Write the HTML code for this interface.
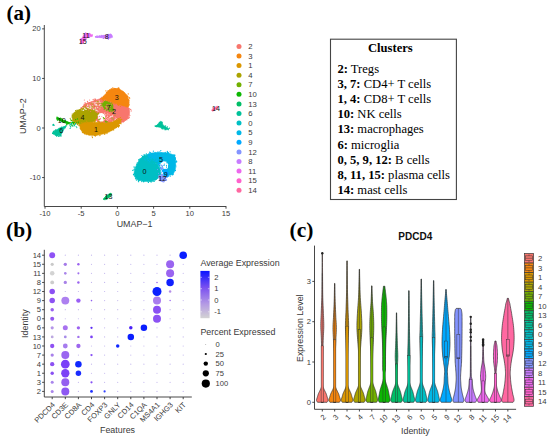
<!DOCTYPE html>
<html><head><meta charset="utf-8"><style>
html,body{margin:0;padding:0;background:#fff;width:550px;height:440px;overflow:hidden}
svg{display:block}

</style></head><body>
<svg width="550" height="440" viewBox="0 0 550 440">
<rect width="550" height="440" fill="#fff"/>
<text x="6.6" y="19.6" font-family="Liberation Serif, serif" font-weight="bold" font-size="21" fill="#000">(a)</text>
<text x="6" y="236.8" font-family="Liberation Serif, serif" font-weight="bold" font-size="21.5" fill="#000">(b)</text>
<text x="289.6" y="237" font-family="Liberation Serif, serif" font-weight="bold" font-size="21.5" fill="#000">(c)</text>
<polygon points="80,110 82.5,106.5 87,103.5 94,100.7 101,98.5 106,99.5 112,102 119,104 126,105 129.3,108.5 129.6,113 128,118 124,121.5 119,123.5 113,124 107,123.5 100,122 94,119 88,116 82,113" fill="#F8766D" stroke="#F8766D" stroke-width="0.6" stroke-linejoin="round"/>
<path d="M114.29,103.68a0.65,0.65 0 1,0 1.3,0a0.65,0.65 0 1,0 -1.3,0M84.59,103.92a0.65,0.65 0 1,0 1.3,0a0.65,0.65 0 1,0 -1.3,0M83.75,105.05a0.65,0.65 0 1,0 1.3,0a0.65,0.65 0 1,0 -1.3,0M126.36,105.86a0.65,0.65 0 1,0 1.3,0a0.65,0.65 0 1,0 -1.3,0M125.44,104.57a0.65,0.65 0 1,0 1.3,0a0.65,0.65 0 1,0 -1.3,0M100.71,97.31a0.65,0.65 0 1,0 1.3,0a0.65,0.65 0 1,0 -1.3,0M122.82,121.74a0.65,0.65 0 1,0 1.3,0a0.65,0.65 0 1,0 -1.3,0M83.34,105.24a0.65,0.65 0 1,0 1.3,0a0.65,0.65 0 1,0 -1.3,0M93.81,101.27a0.65,0.65 0 1,0 1.3,0a0.65,0.65 0 1,0 -1.3,0M98.15,122.23a0.65,0.65 0 1,0 1.3,0a0.65,0.65 0 1,0 -1.3,0M117.51,124.32a0.65,0.65 0 1,0 1.3,0a0.65,0.65 0 1,0 -1.3,0M85.04,104.97a0.65,0.65 0 1,0 1.3,0a0.65,0.65 0 1,0 -1.3,0M112.68,124.26a0.65,0.65 0 1,0 1.3,0a0.65,0.65 0 1,0 -1.3,0M123.3,121.13a0.65,0.65 0 1,0 1.3,0a0.65,0.65 0 1,0 -1.3,0M99.81,121.5a0.65,0.65 0 1,0 1.3,0a0.65,0.65 0 1,0 -1.3,0M123.2,119.75a0.65,0.65 0 1,0 1.3,0a0.65,0.65 0 1,0 -1.3,0M106.99,126.05a0.65,0.65 0 1,0 1.3,0a0.65,0.65 0 1,0 -1.3,0M89.03,102.64a0.65,0.65 0 1,0 1.3,0a0.65,0.65 0 1,0 -1.3,0M93.86,100.48a0.65,0.65 0 1,0 1.3,0a0.65,0.65 0 1,0 -1.3,0M114.93,122.62a0.65,0.65 0 1,0 1.3,0a0.65,0.65 0 1,0 -1.3,0M90.81,119.28a0.65,0.65 0 1,0 1.3,0a0.65,0.65 0 1,0 -1.3,0M122.34,121.08a0.65,0.65 0 1,0 1.3,0a0.65,0.65 0 1,0 -1.3,0M96.08,119.54a0.65,0.65 0 1,0 1.3,0a0.65,0.65 0 1,0 -1.3,0M116.61,124.27a0.65,0.65 0 1,0 1.3,0a0.65,0.65 0 1,0 -1.3,0M118.99,123.51a0.65,0.65 0 1,0 1.3,0a0.65,0.65 0 1,0 -1.3,0M108.13,101.96a0.65,0.65 0 1,0 1.3,0a0.65,0.65 0 1,0 -1.3,0M80.38,107.95a0.65,0.65 0 1,0 1.3,0a0.65,0.65 0 1,0 -1.3,0M91.68,102.5a0.65,0.65 0 1,0 1.3,0a0.65,0.65 0 1,0 -1.3,0M91.61,102.3a0.65,0.65 0 1,0 1.3,0a0.65,0.65 0 1,0 -1.3,0M92.64,118.69a0.65,0.65 0 1,0 1.3,0a0.65,0.65 0 1,0 -1.3,0M128.49,116.97a0.65,0.65 0 1,0 1.3,0a0.65,0.65 0 1,0 -1.3,0M92.4,119.53a0.65,0.65 0 1,0 1.3,0a0.65,0.65 0 1,0 -1.3,0M119.21,102.26a0.65,0.65 0 1,0 1.3,0a0.65,0.65 0 1,0 -1.3,0M94.28,101.08a0.65,0.65 0 1,0 1.3,0a0.65,0.65 0 1,0 -1.3,0M102.21,99.23a0.65,0.65 0 1,0 1.3,0a0.65,0.65 0 1,0 -1.3,0M107.68,100.11a0.65,0.65 0 1,0 1.3,0a0.65,0.65 0 1,0 -1.3,0M116.69,103.15a0.65,0.65 0 1,0 1.3,0a0.65,0.65 0 1,0 -1.3,0M110.95,123.87a0.65,0.65 0 1,0 1.3,0a0.65,0.65 0 1,0 -1.3,0M115.7,124.51a0.65,0.65 0 1,0 1.3,0a0.65,0.65 0 1,0 -1.3,0M102.83,121.36a0.65,0.65 0 1,0 1.3,0a0.65,0.65 0 1,0 -1.3,0M121.1,104.69a0.65,0.65 0 1,0 1.3,0a0.65,0.65 0 1,0 -1.3,0M119.12,123.45a0.65,0.65 0 1,0 1.3,0a0.65,0.65 0 1,0 -1.3,0M100.98,99.24a0.65,0.65 0 1,0 1.3,0a0.65,0.65 0 1,0 -1.3,0M83.98,105.42a0.65,0.65 0 1,0 1.3,0a0.65,0.65 0 1,0 -1.3,0M88.39,102.79a0.65,0.65 0 1,0 1.3,0a0.65,0.65 0 1,0 -1.3,0M91.09,117.73a0.65,0.65 0 1,0 1.3,0a0.65,0.65 0 1,0 -1.3,0M105.1,100.3a0.65,0.65 0 1,0 1.3,0a0.65,0.65 0 1,0 -1.3,0M92.53,99.38a0.65,0.65 0 1,0 1.3,0a0.65,0.65 0 1,0 -1.3,0M128.26,108.53a0.65,0.65 0 1,0 1.3,0a0.65,0.65 0 1,0 -1.3,0M88.21,103.19a0.65,0.65 0 1,0 1.3,0a0.65,0.65 0 1,0 -1.3,0M96.4,120.64a0.65,0.65 0 1,0 1.3,0a0.65,0.65 0 1,0 -1.3,0M82.83,113.9a0.65,0.65 0 1,0 1.3,0a0.65,0.65 0 1,0 -1.3,0M128.62,117.6a0.65,0.65 0 1,0 1.3,0a0.65,0.65 0 1,0 -1.3,0M81.67,111.07a0.65,0.65 0 1,0 1.3,0a0.65,0.65 0 1,0 -1.3,0M106.2,100.41a0.65,0.65 0 1,0 1.3,0a0.65,0.65 0 1,0 -1.3,0M101.09,122.38a0.65,0.65 0 1,0 1.3,0a0.65,0.65 0 1,0 -1.3,0M114.47,104.43a0.65,0.65 0 1,0 1.3,0a0.65,0.65 0 1,0 -1.3,0M81.32,110.19a0.65,0.65 0 1,0 1.3,0a0.65,0.65 0 1,0 -1.3,0M97.38,120.39a0.65,0.65 0 1,0 1.3,0a0.65,0.65 0 1,0 -1.3,0M128.33,114.7a0.65,0.65 0 1,0 1.3,0a0.65,0.65 0 1,0 -1.3,0M81.15,107.99a0.65,0.65 0 1,0 1.3,0a0.65,0.65 0 1,0 -1.3,0M112.89,123.7a0.65,0.65 0 1,0 1.3,0a0.65,0.65 0 1,0 -1.3,0M87.05,114.56a0.65,0.65 0 1,0 1.3,0a0.65,0.65 0 1,0 -1.3,0M118.31,104.59a0.65,0.65 0 1,0 1.3,0a0.65,0.65 0 1,0 -1.3,0M99.53,100.08a0.65,0.65 0 1,0 1.3,0a0.65,0.65 0 1,0 -1.3,0M89.27,115.81a0.65,0.65 0 1,0 1.3,0a0.65,0.65 0 1,0 -1.3,0M116.75,123.28a0.65,0.65 0 1,0 1.3,0a0.65,0.65 0 1,0 -1.3,0M117.06,122.87a0.65,0.65 0 1,0 1.3,0a0.65,0.65 0 1,0 -1.3,0M104.6,123.32a0.65,0.65 0 1,0 1.3,0a0.65,0.65 0 1,0 -1.3,0M99.83,123.68a0.65,0.65 0 1,0 1.3,0a0.65,0.65 0 1,0 -1.3,0M80.49,113.36a0.65,0.65 0 1,0 1.3,0a0.65,0.65 0 1,0 -1.3,0M83.69,113.67a0.65,0.65 0 1,0 1.3,0a0.65,0.65 0 1,0 -1.3,0M92.48,103.09a0.65,0.65 0 1,0 1.3,0a0.65,0.65 0 1,0 -1.3,0M99.7,123a0.65,0.65 0 1,0 1.3,0a0.65,0.65 0 1,0 -1.3,0M80.19,111.25a0.65,0.65 0 1,0 1.3,0a0.65,0.65 0 1,0 -1.3,0M127.42,118.14a0.65,0.65 0 1,0 1.3,0a0.65,0.65 0 1,0 -1.3,0M80.62,111.99a0.65,0.65 0 1,0 1.3,0a0.65,0.65 0 1,0 -1.3,0M83.51,115.65a0.65,0.65 0 1,0 1.3,0a0.65,0.65 0 1,0 -1.3,0M96.75,121.28a0.65,0.65 0 1,0 1.3,0a0.65,0.65 0 1,0 -1.3,0M110.13,102.66a0.65,0.65 0 1,0 1.3,0a0.65,0.65 0 1,0 -1.3,0M105.96,100.16a0.65,0.65 0 1,0 1.3,0a0.65,0.65 0 1,0 -1.3,0M87.08,116.96a0.65,0.65 0 1,0 1.3,0a0.65,0.65 0 1,0 -1.3,0M125,120.21a0.65,0.65 0 1,0 1.3,0a0.65,0.65 0 1,0 -1.3,0M85.75,115.75a0.65,0.65 0 1,0 1.3,0a0.65,0.65 0 1,0 -1.3,0M129.21,115.31a0.65,0.65 0 1,0 1.3,0a0.65,0.65 0 1,0 -1.3,0M99.25,99.39a0.65,0.65 0 1,0 1.3,0a0.65,0.65 0 1,0 -1.3,0M94.99,99.98a0.65,0.65 0 1,0 1.3,0a0.65,0.65 0 1,0 -1.3,0M126.12,119.6a0.65,0.65 0 1,0 1.3,0a0.65,0.65 0 1,0 -1.3,0M126.81,118.14a0.65,0.65 0 1,0 1.3,0a0.65,0.65 0 1,0 -1.3,0M126.29,119.66a0.65,0.65 0 1,0 1.3,0a0.65,0.65 0 1,0 -1.3,0M101.43,122.64a0.65,0.65 0 1,0 1.3,0a0.65,0.65 0 1,0 -1.3,0M104.84,122.49a0.65,0.65 0 1,0 1.3,0a0.65,0.65 0 1,0 -1.3,0M120.13,122.32a0.65,0.65 0 1,0 1.3,0a0.65,0.65 0 1,0 -1.3,0M110.86,124.29a0.65,0.65 0 1,0 1.3,0a0.65,0.65 0 1,0 -1.3,0M130.05,109.41a0.65,0.65 0 1,0 1.3,0a0.65,0.65 0 1,0 -1.3,0M91.89,117.7a0.65,0.65 0 1,0 1.3,0a0.65,0.65 0 1,0 -1.3,0M127.96,118.27a0.65,0.65 0 1,0 1.3,0a0.65,0.65 0 1,0 -1.3,0M93.16,101.73a0.65,0.65 0 1,0 1.3,0a0.65,0.65 0 1,0 -1.3,0M85.46,104.46a0.65,0.65 0 1,0 1.3,0a0.65,0.65 0 1,0 -1.3,0M115.08,121.93a0.65,0.65 0 1,0 1.3,0a0.65,0.65 0 1,0 -1.3,0M94.11,99.08a0.65,0.65 0 1,0 1.3,0a0.65,0.65 0 1,0 -1.3,0M94.84,99.22a0.65,0.65 0 1,0 1.3,0a0.65,0.65 0 1,0 -1.3,0M102.68,98.52a0.65,0.65 0 1,0 1.3,0a0.65,0.65 0 1,0 -1.3,0M130.51,110.9a0.65,0.65 0 1,0 1.3,0a0.65,0.65 0 1,0 -1.3,0M94.2,100.58a0.65,0.65 0 1,0 1.3,0a0.65,0.65 0 1,0 -1.3,0M115.54,103.86a0.65,0.65 0 1,0 1.3,0a0.65,0.65 0 1,0 -1.3,0M109.58,123.81a0.65,0.65 0 1,0 1.3,0a0.65,0.65 0 1,0 -1.3,0M127.36,106.37a0.65,0.65 0 1,0 1.3,0a0.65,0.65 0 1,0 -1.3,0M119.62,122.83a0.65,0.65 0 1,0 1.3,0a0.65,0.65 0 1,0 -1.3,0M80.91,109.14a0.65,0.65 0 1,0 1.3,0a0.65,0.65 0 1,0 -1.3,0M88.86,102.74a0.65,0.65 0 1,0 1.3,0a0.65,0.65 0 1,0 -1.3,0M101.74,123a0.65,0.65 0 1,0 1.3,0a0.65,0.65 0 1,0 -1.3,0M126.37,104.06a0.65,0.65 0 1,0 1.3,0a0.65,0.65 0 1,0 -1.3,0M107.49,101.52a0.65,0.65 0 1,0 1.3,0a0.65,0.65 0 1,0 -1.3,0M125.24,119.37a0.65,0.65 0 1,0 1.3,0a0.65,0.65 0 1,0 -1.3,0M83.6,104.22a0.65,0.65 0 1,0 1.3,0a0.65,0.65 0 1,0 -1.3,0M86.61,103.63a0.65,0.65 0 1,0 1.3,0a0.65,0.65 0 1,0 -1.3,0M100.73,122.81a0.65,0.65 0 1,0 1.3,0a0.65,0.65 0 1,0 -1.3,0M85.5,103.75a0.65,0.65 0 1,0 1.3,0a0.65,0.65 0 1,0 -1.3,0M113.33,102.45a0.65,0.65 0 1,0 1.3,0a0.65,0.65 0 1,0 -1.3,0" fill="#F8766D"/>
<polygon points="101.5,99 103,96.5 106,93.5 109.5,89.5 114,88.3 119,89 123.5,91.5 127,95.5 128.8,100 129,104 128.3,106.8 124,106 118,104.3 112,102.3 107.5,100" fill="#F5860F" stroke="#F5860F" stroke-width="0.6" stroke-linejoin="round"/>
<path d="M116.36,89.41a0.65,0.65 0 1,0 1.3,0a0.65,0.65 0 1,0 -1.3,0M113.91,88.66a0.65,0.65 0 1,0 1.3,0a0.65,0.65 0 1,0 -1.3,0M103.1,96.72a0.65,0.65 0 1,0 1.3,0a0.65,0.65 0 1,0 -1.3,0M118.31,88.25a0.65,0.65 0 1,0 1.3,0a0.65,0.65 0 1,0 -1.3,0M128.05,99.58a0.65,0.65 0 1,0 1.3,0a0.65,0.65 0 1,0 -1.3,0M101.53,98.03a0.65,0.65 0 1,0 1.3,0a0.65,0.65 0 1,0 -1.3,0M118.6,104.63a0.65,0.65 0 1,0 1.3,0a0.65,0.65 0 1,0 -1.3,0M127.39,96.96a0.65,0.65 0 1,0 1.3,0a0.65,0.65 0 1,0 -1.3,0M112.27,103.36a0.65,0.65 0 1,0 1.3,0a0.65,0.65 0 1,0 -1.3,0M111.32,103.23a0.65,0.65 0 1,0 1.3,0a0.65,0.65 0 1,0 -1.3,0M123.14,105.62a0.65,0.65 0 1,0 1.3,0a0.65,0.65 0 1,0 -1.3,0M111.97,101.39a0.65,0.65 0 1,0 1.3,0a0.65,0.65 0 1,0 -1.3,0M123.99,93.25a0.65,0.65 0 1,0 1.3,0a0.65,0.65 0 1,0 -1.3,0M108.17,92.44a0.65,0.65 0 1,0 1.3,0a0.65,0.65 0 1,0 -1.3,0M114.92,88.82a0.65,0.65 0 1,0 1.3,0a0.65,0.65 0 1,0 -1.3,0M112.62,101.44a0.65,0.65 0 1,0 1.3,0a0.65,0.65 0 1,0 -1.3,0M116.65,89.51a0.65,0.65 0 1,0 1.3,0a0.65,0.65 0 1,0 -1.3,0M127.13,96.92a0.65,0.65 0 1,0 1.3,0a0.65,0.65 0 1,0 -1.3,0M117.62,88a0.65,0.65 0 1,0 1.3,0a0.65,0.65 0 1,0 -1.3,0M128.34,104.48a0.65,0.65 0 1,0 1.3,0a0.65,0.65 0 1,0 -1.3,0M118.54,89.15a0.65,0.65 0 1,0 1.3,0a0.65,0.65 0 1,0 -1.3,0M122.01,91.91a0.65,0.65 0 1,0 1.3,0a0.65,0.65 0 1,0 -1.3,0M110.78,88.96a0.65,0.65 0 1,0 1.3,0a0.65,0.65 0 1,0 -1.3,0M116.11,89.06a0.65,0.65 0 1,0 1.3,0a0.65,0.65 0 1,0 -1.3,0M103.18,96.53a0.65,0.65 0 1,0 1.3,0a0.65,0.65 0 1,0 -1.3,0M112.15,87.8a0.65,0.65 0 1,0 1.3,0a0.65,0.65 0 1,0 -1.3,0M117.16,103.27a0.65,0.65 0 1,0 1.3,0a0.65,0.65 0 1,0 -1.3,0M108.62,101.73a0.65,0.65 0 1,0 1.3,0a0.65,0.65 0 1,0 -1.3,0M102.79,100.35a0.65,0.65 0 1,0 1.3,0a0.65,0.65 0 1,0 -1.3,0M127.11,106.86a0.65,0.65 0 1,0 1.3,0a0.65,0.65 0 1,0 -1.3,0M107.38,99.74a0.65,0.65 0 1,0 1.3,0a0.65,0.65 0 1,0 -1.3,0M114.39,103.92a0.65,0.65 0 1,0 1.3,0a0.65,0.65 0 1,0 -1.3,0M128.63,97.72a0.65,0.65 0 1,0 1.3,0a0.65,0.65 0 1,0 -1.3,0M111.07,101.8a0.65,0.65 0 1,0 1.3,0a0.65,0.65 0 1,0 -1.3,0M122.43,105.19a0.65,0.65 0 1,0 1.3,0a0.65,0.65 0 1,0 -1.3,0M102.58,97.7a0.65,0.65 0 1,0 1.3,0a0.65,0.65 0 1,0 -1.3,0M106.23,92.18a0.65,0.65 0 1,0 1.3,0a0.65,0.65 0 1,0 -1.3,0M125.61,105.63a0.65,0.65 0 1,0 1.3,0a0.65,0.65 0 1,0 -1.3,0M129,98.14a0.65,0.65 0 1,0 1.3,0a0.65,0.65 0 1,0 -1.3,0M116.98,104.49a0.65,0.65 0 1,0 1.3,0a0.65,0.65 0 1,0 -1.3,0M125.67,106.77a0.65,0.65 0 1,0 1.3,0a0.65,0.65 0 1,0 -1.3,0M115.11,88.78a0.65,0.65 0 1,0 1.3,0a0.65,0.65 0 1,0 -1.3,0M119.83,106.3a0.65,0.65 0 1,0 1.3,0a0.65,0.65 0 1,0 -1.3,0M101.7,99.32a0.65,0.65 0 1,0 1.3,0a0.65,0.65 0 1,0 -1.3,0M126.49,96.01a0.65,0.65 0 1,0 1.3,0a0.65,0.65 0 1,0 -1.3,0M127.11,106.46a0.65,0.65 0 1,0 1.3,0a0.65,0.65 0 1,0 -1.3,0M107.63,92.33a0.65,0.65 0 1,0 1.3,0a0.65,0.65 0 1,0 -1.3,0M118.1,88.92a0.65,0.65 0 1,0 1.3,0a0.65,0.65 0 1,0 -1.3,0M103.24,96.79a0.65,0.65 0 1,0 1.3,0a0.65,0.65 0 1,0 -1.3,0M121.67,104.95a0.65,0.65 0 1,0 1.3,0a0.65,0.65 0 1,0 -1.3,0M127.14,100.16a0.65,0.65 0 1,0 1.3,0a0.65,0.65 0 1,0 -1.3,0M106.76,92.05a0.65,0.65 0 1,0 1.3,0a0.65,0.65 0 1,0 -1.3,0M102.57,99.19a0.65,0.65 0 1,0 1.3,0a0.65,0.65 0 1,0 -1.3,0M127.58,93.93a0.65,0.65 0 1,0 1.3,0a0.65,0.65 0 1,0 -1.3,0M126.23,96.05a0.65,0.65 0 1,0 1.3,0a0.65,0.65 0 1,0 -1.3,0M105.03,100.8a0.65,0.65 0 1,0 1.3,0a0.65,0.65 0 1,0 -1.3,0M105.2,90.82a0.65,0.65 0 1,0 1.3,0a0.65,0.65 0 1,0 -1.3,0M107.42,90.69a0.65,0.65 0 1,0 1.3,0a0.65,0.65 0 1,0 -1.3,0M108.54,100.34a0.65,0.65 0 1,0 1.3,0a0.65,0.65 0 1,0 -1.3,0M107.83,100.62a0.65,0.65 0 1,0 1.3,0a0.65,0.65 0 1,0 -1.3,0M100,98.83a0.65,0.65 0 1,0 1.3,0a0.65,0.65 0 1,0 -1.3,0M118.57,89.6a0.65,0.65 0 1,0 1.3,0a0.65,0.65 0 1,0 -1.3,0M119.01,89.31a0.65,0.65 0 1,0 1.3,0a0.65,0.65 0 1,0 -1.3,0M118.17,104.08a0.65,0.65 0 1,0 1.3,0a0.65,0.65 0 1,0 -1.3,0M105.66,97.99a0.65,0.65 0 1,0 1.3,0a0.65,0.65 0 1,0 -1.3,0M116.56,89.48a0.65,0.65 0 1,0 1.3,0a0.65,0.65 0 1,0 -1.3,0M100.22,98.56a0.65,0.65 0 1,0 1.3,0a0.65,0.65 0 1,0 -1.3,0M125.23,94.55a0.65,0.65 0 1,0 1.3,0a0.65,0.65 0 1,0 -1.3,0M105.86,92.71a0.65,0.65 0 1,0 1.3,0a0.65,0.65 0 1,0 -1.3,0M105.46,100.47a0.65,0.65 0 1,0 1.3,0a0.65,0.65 0 1,0 -1.3,0M128.3,100.37a0.65,0.65 0 1,0 1.3,0a0.65,0.65 0 1,0 -1.3,0M105.21,98.43a0.65,0.65 0 1,0 1.3,0a0.65,0.65 0 1,0 -1.3,0M128.17,105.45a0.65,0.65 0 1,0 1.3,0a0.65,0.65 0 1,0 -1.3,0M128.21,102.02a0.65,0.65 0 1,0 1.3,0a0.65,0.65 0 1,0 -1.3,0M117.77,105.28a0.65,0.65 0 1,0 1.3,0a0.65,0.65 0 1,0 -1.3,0M125.31,106.65a0.65,0.65 0 1,0 1.3,0a0.65,0.65 0 1,0 -1.3,0M106.79,100.6a0.65,0.65 0 1,0 1.3,0a0.65,0.65 0 1,0 -1.3,0M120.29,91.73a0.65,0.65 0 1,0 1.3,0a0.65,0.65 0 1,0 -1.3,0M102.46,100.59a0.65,0.65 0 1,0 1.3,0a0.65,0.65 0 1,0 -1.3,0M117.13,88.63a0.65,0.65 0 1,0 1.3,0a0.65,0.65 0 1,0 -1.3,0" fill="#F5860F"/>
<polygon points="71.8,117 73.5,113 77,110.5 82,108.5 87,107.8 91,109 95,111.5 98,114.5 97,118 94,121.5 89,124 83,125 77.5,124 73.5,121" fill="#ABA300" stroke="#ABA300" stroke-width="0.6" stroke-linejoin="round"/>
<path d="M79.07,110.07a0.65,0.65 0 1,0 1.3,0a0.65,0.65 0 1,0 -1.3,0M73.78,122.19a0.65,0.65 0 1,0 1.3,0a0.65,0.65 0 1,0 -1.3,0M75.39,122.14a0.65,0.65 0 1,0 1.3,0a0.65,0.65 0 1,0 -1.3,0M77.15,110.6a0.65,0.65 0 1,0 1.3,0a0.65,0.65 0 1,0 -1.3,0M90.6,109.27a0.65,0.65 0 1,0 1.3,0a0.65,0.65 0 1,0 -1.3,0M82.91,107.25a0.65,0.65 0 1,0 1.3,0a0.65,0.65 0 1,0 -1.3,0M83.39,125.18a0.65,0.65 0 1,0 1.3,0a0.65,0.65 0 1,0 -1.3,0M95.96,117.9a0.65,0.65 0 1,0 1.3,0a0.65,0.65 0 1,0 -1.3,0M72.37,115.49a0.65,0.65 0 1,0 1.3,0a0.65,0.65 0 1,0 -1.3,0M74.92,110.59a0.65,0.65 0 1,0 1.3,0a0.65,0.65 0 1,0 -1.3,0M76.88,124.61a0.65,0.65 0 1,0 1.3,0a0.65,0.65 0 1,0 -1.3,0M83.17,108.71a0.65,0.65 0 1,0 1.3,0a0.65,0.65 0 1,0 -1.3,0M73.42,118.36a0.65,0.65 0 1,0 1.3,0a0.65,0.65 0 1,0 -1.3,0M73.11,115.94a0.65,0.65 0 1,0 1.3,0a0.65,0.65 0 1,0 -1.3,0M73.79,122.79a0.65,0.65 0 1,0 1.3,0a0.65,0.65 0 1,0 -1.3,0M69.56,118.29a0.65,0.65 0 1,0 1.3,0a0.65,0.65 0 1,0 -1.3,0M80.65,122.52a0.65,0.65 0 1,0 1.3,0a0.65,0.65 0 1,0 -1.3,0M84.36,108.46a0.65,0.65 0 1,0 1.3,0a0.65,0.65 0 1,0 -1.3,0M95.69,115.26a0.65,0.65 0 1,0 1.3,0a0.65,0.65 0 1,0 -1.3,0M85.11,123.16a0.65,0.65 0 1,0 1.3,0a0.65,0.65 0 1,0 -1.3,0M96.02,113.33a0.65,0.65 0 1,0 1.3,0a0.65,0.65 0 1,0 -1.3,0M82.24,126.95a0.65,0.65 0 1,0 1.3,0a0.65,0.65 0 1,0 -1.3,0M90.66,123.21a0.65,0.65 0 1,0 1.3,0a0.65,0.65 0 1,0 -1.3,0M83.27,107.05a0.65,0.65 0 1,0 1.3,0a0.65,0.65 0 1,0 -1.3,0M76.43,111.62a0.65,0.65 0 1,0 1.3,0a0.65,0.65 0 1,0 -1.3,0M93.75,120.87a0.65,0.65 0 1,0 1.3,0a0.65,0.65 0 1,0 -1.3,0M94.21,121.44a0.65,0.65 0 1,0 1.3,0a0.65,0.65 0 1,0 -1.3,0M97.67,113.24a0.65,0.65 0 1,0 1.3,0a0.65,0.65 0 1,0 -1.3,0M74.96,123.17a0.65,0.65 0 1,0 1.3,0a0.65,0.65 0 1,0 -1.3,0M85.23,107.8a0.65,0.65 0 1,0 1.3,0a0.65,0.65 0 1,0 -1.3,0M88.87,108.39a0.65,0.65 0 1,0 1.3,0a0.65,0.65 0 1,0 -1.3,0M88.47,123.97a0.65,0.65 0 1,0 1.3,0a0.65,0.65 0 1,0 -1.3,0M90.08,123.13a0.65,0.65 0 1,0 1.3,0a0.65,0.65 0 1,0 -1.3,0M71.55,115.7a0.65,0.65 0 1,0 1.3,0a0.65,0.65 0 1,0 -1.3,0M89.11,125.4a0.65,0.65 0 1,0 1.3,0a0.65,0.65 0 1,0 -1.3,0M84.27,124.56a0.65,0.65 0 1,0 1.3,0a0.65,0.65 0 1,0 -1.3,0M71.31,120.4a0.65,0.65 0 1,0 1.3,0a0.65,0.65 0 1,0 -1.3,0M83.06,109.8a0.65,0.65 0 1,0 1.3,0a0.65,0.65 0 1,0 -1.3,0M88.03,107.69a0.65,0.65 0 1,0 1.3,0a0.65,0.65 0 1,0 -1.3,0M80.14,109.97a0.65,0.65 0 1,0 1.3,0a0.65,0.65 0 1,0 -1.3,0M90.11,123.2a0.65,0.65 0 1,0 1.3,0a0.65,0.65 0 1,0 -1.3,0M93.57,113.03a0.65,0.65 0 1,0 1.3,0a0.65,0.65 0 1,0 -1.3,0M77.46,110.28a0.65,0.65 0 1,0 1.3,0a0.65,0.65 0 1,0 -1.3,0M94.5,109.54a0.65,0.65 0 1,0 1.3,0a0.65,0.65 0 1,0 -1.3,0M87.39,124.48a0.65,0.65 0 1,0 1.3,0a0.65,0.65 0 1,0 -1.3,0M90.06,110.6a0.65,0.65 0 1,0 1.3,0a0.65,0.65 0 1,0 -1.3,0M85.71,124.92a0.65,0.65 0 1,0 1.3,0a0.65,0.65 0 1,0 -1.3,0M91.6,110.71a0.65,0.65 0 1,0 1.3,0a0.65,0.65 0 1,0 -1.3,0M79.59,109.51a0.65,0.65 0 1,0 1.3,0a0.65,0.65 0 1,0 -1.3,0M91.06,109.04a0.65,0.65 0 1,0 1.3,0a0.65,0.65 0 1,0 -1.3,0M72.31,120.02a0.65,0.65 0 1,0 1.3,0a0.65,0.65 0 1,0 -1.3,0M79.85,123.61a0.65,0.65 0 1,0 1.3,0a0.65,0.65 0 1,0 -1.3,0M71.59,114.1a0.65,0.65 0 1,0 1.3,0a0.65,0.65 0 1,0 -1.3,0M73.99,122.43a0.65,0.65 0 1,0 1.3,0a0.65,0.65 0 1,0 -1.3,0M75.81,122.71a0.65,0.65 0 1,0 1.3,0a0.65,0.65 0 1,0 -1.3,0M80.1,124.33a0.65,0.65 0 1,0 1.3,0a0.65,0.65 0 1,0 -1.3,0M73.93,115.62a0.65,0.65 0 1,0 1.3,0a0.65,0.65 0 1,0 -1.3,0M84.49,106.13a0.65,0.65 0 1,0 1.3,0a0.65,0.65 0 1,0 -1.3,0M89.54,111.09a0.65,0.65 0 1,0 1.3,0a0.65,0.65 0 1,0 -1.3,0M92.42,123.34a0.65,0.65 0 1,0 1.3,0a0.65,0.65 0 1,0 -1.3,0M88.39,108.49a0.65,0.65 0 1,0 1.3,0a0.65,0.65 0 1,0 -1.3,0M84.89,124.12a0.65,0.65 0 1,0 1.3,0a0.65,0.65 0 1,0 -1.3,0M73.29,120.6a0.65,0.65 0 1,0 1.3,0a0.65,0.65 0 1,0 -1.3,0M99.26,113.66a0.65,0.65 0 1,0 1.3,0a0.65,0.65 0 1,0 -1.3,0M92.61,111.37a0.65,0.65 0 1,0 1.3,0a0.65,0.65 0 1,0 -1.3,0M97.62,115.1a0.65,0.65 0 1,0 1.3,0a0.65,0.65 0 1,0 -1.3,0M80.56,123.03a0.65,0.65 0 1,0 1.3,0a0.65,0.65 0 1,0 -1.3,0M82.02,124.45a0.65,0.65 0 1,0 1.3,0a0.65,0.65 0 1,0 -1.3,0M87.59,109.68a0.65,0.65 0 1,0 1.3,0a0.65,0.65 0 1,0 -1.3,0M74.12,113.87a0.65,0.65 0 1,0 1.3,0a0.65,0.65 0 1,0 -1.3,0M84.1,108.24a0.65,0.65 0 1,0 1.3,0a0.65,0.65 0 1,0 -1.3,0M94.41,121.16a0.65,0.65 0 1,0 1.3,0a0.65,0.65 0 1,0 -1.3,0M76.33,123.03a0.65,0.65 0 1,0 1.3,0a0.65,0.65 0 1,0 -1.3,0M74.77,112.85a0.65,0.65 0 1,0 1.3,0a0.65,0.65 0 1,0 -1.3,0M86.2,124.47a0.65,0.65 0 1,0 1.3,0a0.65,0.65 0 1,0 -1.3,0M93.36,110.57a0.65,0.65 0 1,0 1.3,0a0.65,0.65 0 1,0 -1.3,0M85.05,123.59a0.65,0.65 0 1,0 1.3,0a0.65,0.65 0 1,0 -1.3,0M76.33,110.17a0.65,0.65 0 1,0 1.3,0a0.65,0.65 0 1,0 -1.3,0M93.91,120.7a0.65,0.65 0 1,0 1.3,0a0.65,0.65 0 1,0 -1.3,0M80.74,109.42a0.65,0.65 0 1,0 1.3,0a0.65,0.65 0 1,0 -1.3,0" fill="#ABA300"/>
<polygon points="79.5,125 84,123 91,122.3 99,122.6 106,123.2 112,122 117,120 120.5,119.5 120,123 117,127 112,130.5 105,133.5 97,135.3 89,135.2 83.5,133 80.5,129.5" fill="#DB9700" stroke="#DB9700" stroke-width="0.6" stroke-linejoin="round"/>
<path d="M93.93,121.61a0.65,0.65 0 1,0 1.3,0a0.65,0.65 0 1,0 -1.3,0M107.25,124.08a0.65,0.65 0 1,0 1.3,0a0.65,0.65 0 1,0 -1.3,0M117.77,126.98a0.65,0.65 0 1,0 1.3,0a0.65,0.65 0 1,0 -1.3,0M106.43,132.76a0.65,0.65 0 1,0 1.3,0a0.65,0.65 0 1,0 -1.3,0M120.1,121.27a0.65,0.65 0 1,0 1.3,0a0.65,0.65 0 1,0 -1.3,0M82.91,132.41a0.65,0.65 0 1,0 1.3,0a0.65,0.65 0 1,0 -1.3,0M90.69,124.6a0.65,0.65 0 1,0 1.3,0a0.65,0.65 0 1,0 -1.3,0M112.87,129.62a0.65,0.65 0 1,0 1.3,0a0.65,0.65 0 1,0 -1.3,0M85.51,134.55a0.65,0.65 0 1,0 1.3,0a0.65,0.65 0 1,0 -1.3,0M94.86,135.13a0.65,0.65 0 1,0 1.3,0a0.65,0.65 0 1,0 -1.3,0M110.58,130.2a0.65,0.65 0 1,0 1.3,0a0.65,0.65 0 1,0 -1.3,0M113.73,121.67a0.65,0.65 0 1,0 1.3,0a0.65,0.65 0 1,0 -1.3,0M101.69,122.21a0.65,0.65 0 1,0 1.3,0a0.65,0.65 0 1,0 -1.3,0M98.64,122.64a0.65,0.65 0 1,0 1.3,0a0.65,0.65 0 1,0 -1.3,0M104.09,134.34a0.65,0.65 0 1,0 1.3,0a0.65,0.65 0 1,0 -1.3,0M98.16,121.49a0.65,0.65 0 1,0 1.3,0a0.65,0.65 0 1,0 -1.3,0M85.2,123.42a0.65,0.65 0 1,0 1.3,0a0.65,0.65 0 1,0 -1.3,0M114.42,127.87a0.65,0.65 0 1,0 1.3,0a0.65,0.65 0 1,0 -1.3,0M93.73,121.57a0.65,0.65 0 1,0 1.3,0a0.65,0.65 0 1,0 -1.3,0M104.66,125.26a0.65,0.65 0 1,0 1.3,0a0.65,0.65 0 1,0 -1.3,0M107.4,122.29a0.65,0.65 0 1,0 1.3,0a0.65,0.65 0 1,0 -1.3,0M119.66,117.53a0.65,0.65 0 1,0 1.3,0a0.65,0.65 0 1,0 -1.3,0M113.38,122.75a0.65,0.65 0 1,0 1.3,0a0.65,0.65 0 1,0 -1.3,0M99.8,122.65a0.65,0.65 0 1,0 1.3,0a0.65,0.65 0 1,0 -1.3,0M118.75,118.88a0.65,0.65 0 1,0 1.3,0a0.65,0.65 0 1,0 -1.3,0M84.17,133.87a0.65,0.65 0 1,0 1.3,0a0.65,0.65 0 1,0 -1.3,0M78.93,124.01a0.65,0.65 0 1,0 1.3,0a0.65,0.65 0 1,0 -1.3,0M83.53,133.22a0.65,0.65 0 1,0 1.3,0a0.65,0.65 0 1,0 -1.3,0M113.03,121.11a0.65,0.65 0 1,0 1.3,0a0.65,0.65 0 1,0 -1.3,0M103.42,122.91a0.65,0.65 0 1,0 1.3,0a0.65,0.65 0 1,0 -1.3,0M87.18,122.55a0.65,0.65 0 1,0 1.3,0a0.65,0.65 0 1,0 -1.3,0M79.69,128.54a0.65,0.65 0 1,0 1.3,0a0.65,0.65 0 1,0 -1.3,0M81.41,129.97a0.65,0.65 0 1,0 1.3,0a0.65,0.65 0 1,0 -1.3,0M84.33,122.58a0.65,0.65 0 1,0 1.3,0a0.65,0.65 0 1,0 -1.3,0M81.59,131.8a0.65,0.65 0 1,0 1.3,0a0.65,0.65 0 1,0 -1.3,0M93.86,121.8a0.65,0.65 0 1,0 1.3,0a0.65,0.65 0 1,0 -1.3,0M117.5,118.58a0.65,0.65 0 1,0 1.3,0a0.65,0.65 0 1,0 -1.3,0M96.06,123.4a0.65,0.65 0 1,0 1.3,0a0.65,0.65 0 1,0 -1.3,0M116.63,126.48a0.65,0.65 0 1,0 1.3,0a0.65,0.65 0 1,0 -1.3,0M101.7,121.02a0.65,0.65 0 1,0 1.3,0a0.65,0.65 0 1,0 -1.3,0M81.04,122.83a0.65,0.65 0 1,0 1.3,0a0.65,0.65 0 1,0 -1.3,0M82.42,123.14a0.65,0.65 0 1,0 1.3,0a0.65,0.65 0 1,0 -1.3,0M109.54,130.37a0.65,0.65 0 1,0 1.3,0a0.65,0.65 0 1,0 -1.3,0M106.55,123.32a0.65,0.65 0 1,0 1.3,0a0.65,0.65 0 1,0 -1.3,0M118.02,118.86a0.65,0.65 0 1,0 1.3,0a0.65,0.65 0 1,0 -1.3,0M120.98,119.7a0.65,0.65 0 1,0 1.3,0a0.65,0.65 0 1,0 -1.3,0M118.74,125.52a0.65,0.65 0 1,0 1.3,0a0.65,0.65 0 1,0 -1.3,0M93.7,135.42a0.65,0.65 0 1,0 1.3,0a0.65,0.65 0 1,0 -1.3,0M119.76,122.98a0.65,0.65 0 1,0 1.3,0a0.65,0.65 0 1,0 -1.3,0M119.82,120.15a0.65,0.65 0 1,0 1.3,0a0.65,0.65 0 1,0 -1.3,0M118.66,125.9a0.65,0.65 0 1,0 1.3,0a0.65,0.65 0 1,0 -1.3,0M86.11,121.16a0.65,0.65 0 1,0 1.3,0a0.65,0.65 0 1,0 -1.3,0M118.35,126.03a0.65,0.65 0 1,0 1.3,0a0.65,0.65 0 1,0 -1.3,0M114.62,120.73a0.65,0.65 0 1,0 1.3,0a0.65,0.65 0 1,0 -1.3,0M88.44,134.62a0.65,0.65 0 1,0 1.3,0a0.65,0.65 0 1,0 -1.3,0M91.78,137.62a0.65,0.65 0 1,0 1.3,0a0.65,0.65 0 1,0 -1.3,0M120.4,123.64a0.65,0.65 0 1,0 1.3,0a0.65,0.65 0 1,0 -1.3,0M94.67,120.42a0.65,0.65 0 1,0 1.3,0a0.65,0.65 0 1,0 -1.3,0M83.79,124.08a0.65,0.65 0 1,0 1.3,0a0.65,0.65 0 1,0 -1.3,0M94.15,121.98a0.65,0.65 0 1,0 1.3,0a0.65,0.65 0 1,0 -1.3,0M91.5,136.07a0.65,0.65 0 1,0 1.3,0a0.65,0.65 0 1,0 -1.3,0M82.02,132.49a0.65,0.65 0 1,0 1.3,0a0.65,0.65 0 1,0 -1.3,0M117.55,125.48a0.65,0.65 0 1,0 1.3,0a0.65,0.65 0 1,0 -1.3,0M96.92,124.3a0.65,0.65 0 1,0 1.3,0a0.65,0.65 0 1,0 -1.3,0M104.09,133.32a0.65,0.65 0 1,0 1.3,0a0.65,0.65 0 1,0 -1.3,0M94.61,136a0.65,0.65 0 1,0 1.3,0a0.65,0.65 0 1,0 -1.3,0M106.34,133.56a0.65,0.65 0 1,0 1.3,0a0.65,0.65 0 1,0 -1.3,0M112.65,127.55a0.65,0.65 0 1,0 1.3,0a0.65,0.65 0 1,0 -1.3,0M89.67,122.44a0.65,0.65 0 1,0 1.3,0a0.65,0.65 0 1,0 -1.3,0M115.82,119.62a0.65,0.65 0 1,0 1.3,0a0.65,0.65 0 1,0 -1.3,0M78.29,125.49a0.65,0.65 0 1,0 1.3,0a0.65,0.65 0 1,0 -1.3,0M95.19,135.49a0.65,0.65 0 1,0 1.3,0a0.65,0.65 0 1,0 -1.3,0M99.28,135.5a0.65,0.65 0 1,0 1.3,0a0.65,0.65 0 1,0 -1.3,0M100.97,120.98a0.65,0.65 0 1,0 1.3,0a0.65,0.65 0 1,0 -1.3,0M111.47,129.46a0.65,0.65 0 1,0 1.3,0a0.65,0.65 0 1,0 -1.3,0M79.51,125.04a0.65,0.65 0 1,0 1.3,0a0.65,0.65 0 1,0 -1.3,0M108.31,131.83a0.65,0.65 0 1,0 1.3,0a0.65,0.65 0 1,0 -1.3,0M84,133.76a0.65,0.65 0 1,0 1.3,0a0.65,0.65 0 1,0 -1.3,0M106.1,132.79a0.65,0.65 0 1,0 1.3,0a0.65,0.65 0 1,0 -1.3,0M112.79,122.21a0.65,0.65 0 1,0 1.3,0a0.65,0.65 0 1,0 -1.3,0M98.79,122.12a0.65,0.65 0 1,0 1.3,0a0.65,0.65 0 1,0 -1.3,0M97.18,121.87a0.65,0.65 0 1,0 1.3,0a0.65,0.65 0 1,0 -1.3,0M91.9,122.07a0.65,0.65 0 1,0 1.3,0a0.65,0.65 0 1,0 -1.3,0M93.73,123.11a0.65,0.65 0 1,0 1.3,0a0.65,0.65 0 1,0 -1.3,0M85.9,133.25a0.65,0.65 0 1,0 1.3,0a0.65,0.65 0 1,0 -1.3,0M104.93,123.15a0.65,0.65 0 1,0 1.3,0a0.65,0.65 0 1,0 -1.3,0M112.96,129.89a0.65,0.65 0 1,0 1.3,0a0.65,0.65 0 1,0 -1.3,0M121.14,119.34a0.65,0.65 0 1,0 1.3,0a0.65,0.65 0 1,0 -1.3,0M102.36,122.77a0.65,0.65 0 1,0 1.3,0a0.65,0.65 0 1,0 -1.3,0M115.58,127.52a0.65,0.65 0 1,0 1.3,0a0.65,0.65 0 1,0 -1.3,0" fill="#DB9700"/>
<path d="M95.94,107.56a0.55,0.55 0 1,0 1.1,0a0.55,0.55 0 1,0 -1.1,0M94.5,106.25a0.55,0.55 0 1,0 1.1,0a0.55,0.55 0 1,0 -1.1,0M91.52,105.5a0.55,0.55 0 1,0 1.1,0a0.55,0.55 0 1,0 -1.1,0M91.16,109.25a0.55,0.55 0 1,0 1.1,0a0.55,0.55 0 1,0 -1.1,0M83.73,105.84a0.55,0.55 0 1,0 1.1,0a0.55,0.55 0 1,0 -1.1,0M90.41,104.57a0.55,0.55 0 1,0 1.1,0a0.55,0.55 0 1,0 -1.1,0M88.22,107.97a0.55,0.55 0 1,0 1.1,0a0.55,0.55 0 1,0 -1.1,0M97.46,107.57a0.55,0.55 0 1,0 1.1,0a0.55,0.55 0 1,0 -1.1,0M90.75,102.12a0.55,0.55 0 1,0 1.1,0a0.55,0.55 0 1,0 -1.1,0M97.16,106.19a0.55,0.55 0 1,0 1.1,0a0.55,0.55 0 1,0 -1.1,0M89.31,103.2a0.55,0.55 0 1,0 1.1,0a0.55,0.55 0 1,0 -1.1,0M89.22,103.26a0.55,0.55 0 1,0 1.1,0a0.55,0.55 0 1,0 -1.1,0M89.73,107.17a0.55,0.55 0 1,0 1.1,0a0.55,0.55 0 1,0 -1.1,0M89.57,106.7a0.55,0.55 0 1,0 1.1,0a0.55,0.55 0 1,0 -1.1,0M86.04,109.57a0.55,0.55 0 1,0 1.1,0a0.55,0.55 0 1,0 -1.1,0M86.84,101.45a0.55,0.55 0 1,0 1.1,0a0.55,0.55 0 1,0 -1.1,0M88.7,104.09a0.55,0.55 0 1,0 1.1,0a0.55,0.55 0 1,0 -1.1,0M85.41,105.11a0.55,0.55 0 1,0 1.1,0a0.55,0.55 0 1,0 -1.1,0M90.61,103.05a0.55,0.55 0 1,0 1.1,0a0.55,0.55 0 1,0 -1.1,0M88.9,109.57a0.55,0.55 0 1,0 1.1,0a0.55,0.55 0 1,0 -1.1,0M92.18,105.62a0.55,0.55 0 1,0 1.1,0a0.55,0.55 0 1,0 -1.1,0M89.96,105.7a0.55,0.55 0 1,0 1.1,0a0.55,0.55 0 1,0 -1.1,0M89.26,107.83a0.55,0.55 0 1,0 1.1,0a0.55,0.55 0 1,0 -1.1,0M89.08,99.99a0.55,0.55 0 1,0 1.1,0a0.55,0.55 0 1,0 -1.1,0M89.36,103.78a0.55,0.55 0 1,0 1.1,0a0.55,0.55 0 1,0 -1.1,0M92.06,104.47a0.55,0.55 0 1,0 1.1,0a0.55,0.55 0 1,0 -1.1,0M90.04,111.44a0.55,0.55 0 1,0 1.1,0a0.55,0.55 0 1,0 -1.1,0M85.26,103.19a0.55,0.55 0 1,0 1.1,0a0.55,0.55 0 1,0 -1.1,0M83.8,100.01a0.55,0.55 0 1,0 1.1,0a0.55,0.55 0 1,0 -1.1,0M81.94,106.91a0.55,0.55 0 1,0 1.1,0a0.55,0.55 0 1,0 -1.1,0M86.9,101.33a0.55,0.55 0 1,0 1.1,0a0.55,0.55 0 1,0 -1.1,0M83.52,107.54a0.55,0.55 0 1,0 1.1,0a0.55,0.55 0 1,0 -1.1,0M86.35,105.08a0.55,0.55 0 1,0 1.1,0a0.55,0.55 0 1,0 -1.1,0M90.77,109.39a0.55,0.55 0 1,0 1.1,0a0.55,0.55 0 1,0 -1.1,0M97.21,108.58a0.55,0.55 0 1,0 1.1,0a0.55,0.55 0 1,0 -1.1,0M90.02,106.46a0.55,0.55 0 1,0 1.1,0a0.55,0.55 0 1,0 -1.1,0M96.66,109.57a0.55,0.55 0 1,0 1.1,0a0.55,0.55 0 1,0 -1.1,0M88.21,107.14a0.55,0.55 0 1,0 1.1,0a0.55,0.55 0 1,0 -1.1,0M90.6,106.13a0.55,0.55 0 1,0 1.1,0a0.55,0.55 0 1,0 -1.1,0M87.45,102.68a0.55,0.55 0 1,0 1.1,0a0.55,0.55 0 1,0 -1.1,0M87.31,102.14a0.55,0.55 0 1,0 1.1,0a0.55,0.55 0 1,0 -1.1,0M94.35,107.34a0.55,0.55 0 1,0 1.1,0a0.55,0.55 0 1,0 -1.1,0M84.63,109.49a0.55,0.55 0 1,0 1.1,0a0.55,0.55 0 1,0 -1.1,0M93.02,101.23a0.55,0.55 0 1,0 1.1,0a0.55,0.55 0 1,0 -1.1,0M96.82,108.02a0.55,0.55 0 1,0 1.1,0a0.55,0.55 0 1,0 -1.1,0M97.71,102.92a0.55,0.55 0 1,0 1.1,0a0.55,0.55 0 1,0 -1.1,0M91.57,107.06a0.55,0.55 0 1,0 1.1,0a0.55,0.55 0 1,0 -1.1,0M90.26,106.43a0.55,0.55 0 1,0 1.1,0a0.55,0.55 0 1,0 -1.1,0M93.66,102.26a0.55,0.55 0 1,0 1.1,0a0.55,0.55 0 1,0 -1.1,0M84.48,102.51a0.55,0.55 0 1,0 1.1,0a0.55,0.55 0 1,0 -1.1,0M87.22,104.49a0.55,0.55 0 1,0 1.1,0a0.55,0.55 0 1,0 -1.1,0M90.92,106.67a0.55,0.55 0 1,0 1.1,0a0.55,0.55 0 1,0 -1.1,0M89.58,104.31a0.55,0.55 0 1,0 1.1,0a0.55,0.55 0 1,0 -1.1,0M87.68,108.38a0.55,0.55 0 1,0 1.1,0a0.55,0.55 0 1,0 -1.1,0M92.5,106.25a0.55,0.55 0 1,0 1.1,0a0.55,0.55 0 1,0 -1.1,0M88.16,109.88a0.55,0.55 0 1,0 1.1,0a0.55,0.55 0 1,0 -1.1,0M87.07,107.62a0.55,0.55 0 1,0 1.1,0a0.55,0.55 0 1,0 -1.1,0M94.06,105.34a0.55,0.55 0 1,0 1.1,0a0.55,0.55 0 1,0 -1.1,0M92.75,103.21a0.55,0.55 0 1,0 1.1,0a0.55,0.55 0 1,0 -1.1,0M93.5,106.5a0.55,0.55 0 1,0 1.1,0a0.55,0.55 0 1,0 -1.1,0" fill="#F8766D"/>
<path d="M85.1,112.67a0.55,0.55 0 1,0 1.1,0a0.55,0.55 0 1,0 -1.1,0M87.88,114.2a0.55,0.55 0 1,0 1.1,0a0.55,0.55 0 1,0 -1.1,0M88.73,110.59a0.55,0.55 0 1,0 1.1,0a0.55,0.55 0 1,0 -1.1,0M92.58,110.17a0.55,0.55 0 1,0 1.1,0a0.55,0.55 0 1,0 -1.1,0M92.49,109.62a0.55,0.55 0 1,0 1.1,0a0.55,0.55 0 1,0 -1.1,0M94.14,111.01a0.55,0.55 0 1,0 1.1,0a0.55,0.55 0 1,0 -1.1,0M92.29,104.12a0.55,0.55 0 1,0 1.1,0a0.55,0.55 0 1,0 -1.1,0M96.1,111.08a0.55,0.55 0 1,0 1.1,0a0.55,0.55 0 1,0 -1.1,0M84.32,111.24a0.55,0.55 0 1,0 1.1,0a0.55,0.55 0 1,0 -1.1,0M93.32,113.68a0.55,0.55 0 1,0 1.1,0a0.55,0.55 0 1,0 -1.1,0M87.12,114.87a0.55,0.55 0 1,0 1.1,0a0.55,0.55 0 1,0 -1.1,0M90.81,116.99a0.55,0.55 0 1,0 1.1,0a0.55,0.55 0 1,0 -1.1,0M90.86,112.7a0.55,0.55 0 1,0 1.1,0a0.55,0.55 0 1,0 -1.1,0M89.98,108.21a0.55,0.55 0 1,0 1.1,0a0.55,0.55 0 1,0 -1.1,0M95.84,113.27a0.55,0.55 0 1,0 1.1,0a0.55,0.55 0 1,0 -1.1,0M97.6,113.14a0.55,0.55 0 1,0 1.1,0a0.55,0.55 0 1,0 -1.1,0M89.16,106.84a0.55,0.55 0 1,0 1.1,0a0.55,0.55 0 1,0 -1.1,0M88.85,109.31a0.55,0.55 0 1,0 1.1,0a0.55,0.55 0 1,0 -1.1,0M88.19,112.46a0.55,0.55 0 1,0 1.1,0a0.55,0.55 0 1,0 -1.1,0M92.76,110.33a0.55,0.55 0 1,0 1.1,0a0.55,0.55 0 1,0 -1.1,0M92.14,110.64a0.55,0.55 0 1,0 1.1,0a0.55,0.55 0 1,0 -1.1,0M92.3,112.88a0.55,0.55 0 1,0 1.1,0a0.55,0.55 0 1,0 -1.1,0M95.29,109.29a0.55,0.55 0 1,0 1.1,0a0.55,0.55 0 1,0 -1.1,0M85.42,114.57a0.55,0.55 0 1,0 1.1,0a0.55,0.55 0 1,0 -1.1,0M91.91,113.76a0.55,0.55 0 1,0 1.1,0a0.55,0.55 0 1,0 -1.1,0M84.88,110.18a0.55,0.55 0 1,0 1.1,0a0.55,0.55 0 1,0 -1.1,0M91.56,107.4a0.55,0.55 0 1,0 1.1,0a0.55,0.55 0 1,0 -1.1,0M89.39,112.81a0.55,0.55 0 1,0 1.1,0a0.55,0.55 0 1,0 -1.1,0M95.76,114.99a0.55,0.55 0 1,0 1.1,0a0.55,0.55 0 1,0 -1.1,0M88,107.5a0.55,0.55 0 1,0 1.1,0a0.55,0.55 0 1,0 -1.1,0M93.53,113.35a0.55,0.55 0 1,0 1.1,0a0.55,0.55 0 1,0 -1.1,0M92.22,107.75a0.55,0.55 0 1,0 1.1,0a0.55,0.55 0 1,0 -1.1,0M94.58,112.98a0.55,0.55 0 1,0 1.1,0a0.55,0.55 0 1,0 -1.1,0M93.66,109.78a0.55,0.55 0 1,0 1.1,0a0.55,0.55 0 1,0 -1.1,0M92.67,112.98a0.55,0.55 0 1,0 1.1,0a0.55,0.55 0 1,0 -1.1,0M89.21,106.39a0.55,0.55 0 1,0 1.1,0a0.55,0.55 0 1,0 -1.1,0M92.76,112.2a0.55,0.55 0 1,0 1.1,0a0.55,0.55 0 1,0 -1.1,0M91.5,113.22a0.55,0.55 0 1,0 1.1,0a0.55,0.55 0 1,0 -1.1,0M89.1,110.79a0.55,0.55 0 1,0 1.1,0a0.55,0.55 0 1,0 -1.1,0M90.23,112.43a0.55,0.55 0 1,0 1.1,0a0.55,0.55 0 1,0 -1.1,0" fill="#ABA300"/>
<path d="M97.91,105.09a0.42,0.42 0 1,0 0.84,0a0.42,0.42 0 1,0 -0.84,0M84.48,107.93a0.42,0.42 0 1,0 0.84,0a0.42,0.42 0 1,0 -0.84,0M96.92,106.01a0.42,0.42 0 1,0 0.84,0a0.42,0.42 0 1,0 -0.84,0M95.39,105.49a0.42,0.42 0 1,0 0.84,0a0.42,0.42 0 1,0 -0.84,0M83.13,107.45a0.42,0.42 0 1,0 0.84,0a0.42,0.42 0 1,0 -0.84,0M102.28,105.02a0.42,0.42 0 1,0 0.84,0a0.42,0.42 0 1,0 -0.84,0M93.93,109.49a0.42,0.42 0 1,0 0.84,0a0.42,0.42 0 1,0 -0.84,0M97.64,111.32a0.42,0.42 0 1,0 0.84,0a0.42,0.42 0 1,0 -0.84,0M98.93,108.8a0.42,0.42 0 1,0 0.84,0a0.42,0.42 0 1,0 -0.84,0M95.62,105.35a0.42,0.42 0 1,0 0.84,0a0.42,0.42 0 1,0 -0.84,0M87.41,107.8a0.42,0.42 0 1,0 0.84,0a0.42,0.42 0 1,0 -0.84,0M99.14,108.98a0.42,0.42 0 1,0 0.84,0a0.42,0.42 0 1,0 -0.84,0M95.32,102.5a0.42,0.42 0 1,0 0.84,0a0.42,0.42 0 1,0 -0.84,0M90.17,105.37a0.42,0.42 0 1,0 0.84,0a0.42,0.42 0 1,0 -0.84,0M95.12,104.73a0.42,0.42 0 1,0 0.84,0a0.42,0.42 0 1,0 -0.84,0M84.16,108.16a0.42,0.42 0 1,0 0.84,0a0.42,0.42 0 1,0 -0.84,0M99.03,104.44a0.42,0.42 0 1,0 0.84,0a0.42,0.42 0 1,0 -0.84,0M83.6,109.95a0.42,0.42 0 1,0 0.84,0a0.42,0.42 0 1,0 -0.84,0M93.11,109.04a0.42,0.42 0 1,0 0.84,0a0.42,0.42 0 1,0 -0.84,0M92.38,107.95a0.42,0.42 0 1,0 0.84,0a0.42,0.42 0 1,0 -0.84,0M100.3,106.3a0.42,0.42 0 1,0 0.84,0a0.42,0.42 0 1,0 -0.84,0M84.83,108.58a0.42,0.42 0 1,0 0.84,0a0.42,0.42 0 1,0 -0.84,0M86.44,104.6a0.42,0.42 0 1,0 0.84,0a0.42,0.42 0 1,0 -0.84,0M90.09,108.78a0.42,0.42 0 1,0 0.84,0a0.42,0.42 0 1,0 -0.84,0M85.19,109.38a0.42,0.42 0 1,0 0.84,0a0.42,0.42 0 1,0 -0.84,0M82.81,109.87a0.42,0.42 0 1,0 0.84,0a0.42,0.42 0 1,0 -0.84,0M99.82,107.88a0.42,0.42 0 1,0 0.84,0a0.42,0.42 0 1,0 -0.84,0M91.31,106.87a0.42,0.42 0 1,0 0.84,0a0.42,0.42 0 1,0 -0.84,0M88.41,107.94a0.42,0.42 0 1,0 0.84,0a0.42,0.42 0 1,0 -0.84,0M91.28,103.12a0.42,0.42 0 1,0 0.84,0a0.42,0.42 0 1,0 -0.84,0M100.42,103.97a0.42,0.42 0 1,0 0.84,0a0.42,0.42 0 1,0 -0.84,0M100.85,102.74a0.42,0.42 0 1,0 0.84,0a0.42,0.42 0 1,0 -0.84,0M87.13,105.71a0.42,0.42 0 1,0 0.84,0a0.42,0.42 0 1,0 -0.84,0M90.29,107.92a0.42,0.42 0 1,0 0.84,0a0.42,0.42 0 1,0 -0.84,0M96.06,104.07a0.42,0.42 0 1,0 0.84,0a0.42,0.42 0 1,0 -0.84,0M83.09,110.64a0.42,0.42 0 1,0 0.84,0a0.42,0.42 0 1,0 -0.84,0M95.98,102.5a0.42,0.42 0 1,0 0.84,0a0.42,0.42 0 1,0 -0.84,0M94.79,109.94a0.42,0.42 0 1,0 0.84,0a0.42,0.42 0 1,0 -0.84,0M84.51,108.7a0.42,0.42 0 1,0 0.84,0a0.42,0.42 0 1,0 -0.84,0M92.85,109.39a0.42,0.42 0 1,0 0.84,0a0.42,0.42 0 1,0 -0.84,0M93.46,102.7a0.42,0.42 0 1,0 0.84,0a0.42,0.42 0 1,0 -0.84,0M91.86,105.97a0.42,0.42 0 1,0 0.84,0a0.42,0.42 0 1,0 -0.84,0M91.28,106.88a0.42,0.42 0 1,0 0.84,0a0.42,0.42 0 1,0 -0.84,0M96.21,110.77a0.42,0.42 0 1,0 0.84,0a0.42,0.42 0 1,0 -0.84,0M88.95,104.86a0.42,0.42 0 1,0 0.84,0a0.42,0.42 0 1,0 -0.84,0M95.51,107.91a0.42,0.42 0 1,0 0.84,0a0.42,0.42 0 1,0 -0.84,0M92.35,105.79a0.42,0.42 0 1,0 0.84,0a0.42,0.42 0 1,0 -0.84,0M97.53,107.75a0.42,0.42 0 1,0 0.84,0a0.42,0.42 0 1,0 -0.84,0M88.73,105.64a0.42,0.42 0 1,0 0.84,0a0.42,0.42 0 1,0 -0.84,0M92.72,109.79a0.42,0.42 0 1,0 0.84,0a0.42,0.42 0 1,0 -0.84,0M90.14,106.76a0.42,0.42 0 1,0 0.84,0a0.42,0.42 0 1,0 -0.84,0M100.25,103.1a0.42,0.42 0 1,0 0.84,0a0.42,0.42 0 1,0 -0.84,0M100.27,104.65a0.42,0.42 0 1,0 0.84,0a0.42,0.42 0 1,0 -0.84,0M92.17,102.8a0.42,0.42 0 1,0 0.84,0a0.42,0.42 0 1,0 -0.84,0M95.94,110.09a0.42,0.42 0 1,0 0.84,0a0.42,0.42 0 1,0 -0.84,0M87.06,107.21a0.42,0.42 0 1,0 0.84,0a0.42,0.42 0 1,0 -0.84,0M95.45,109.98a0.42,0.42 0 1,0 0.84,0a0.42,0.42 0 1,0 -0.84,0M101.72,106.64a0.42,0.42 0 1,0 0.84,0a0.42,0.42 0 1,0 -0.84,0M96.03,110.05a0.42,0.42 0 1,0 0.84,0a0.42,0.42 0 1,0 -0.84,0M95,107.78a0.42,0.42 0 1,0 0.84,0a0.42,0.42 0 1,0 -0.84,0M96.99,107.35a0.42,0.42 0 1,0 0.84,0a0.42,0.42 0 1,0 -0.84,0M96.6,101.98a0.42,0.42 0 1,0 0.84,0a0.42,0.42 0 1,0 -0.84,0M96.26,105.41a0.42,0.42 0 1,0 0.84,0a0.42,0.42 0 1,0 -0.84,0M98.65,100.42a0.42,0.42 0 1,0 0.84,0a0.42,0.42 0 1,0 -0.84,0M95.97,104.16a0.42,0.42 0 1,0 0.84,0a0.42,0.42 0 1,0 -0.84,0M93.63,102.61a0.42,0.42 0 1,0 0.84,0a0.42,0.42 0 1,0 -0.84,0M87.13,104.9a0.42,0.42 0 1,0 0.84,0a0.42,0.42 0 1,0 -0.84,0M87.54,105.03a0.42,0.42 0 1,0 0.84,0a0.42,0.42 0 1,0 -0.84,0M99.84,107.05a0.42,0.42 0 1,0 0.84,0a0.42,0.42 0 1,0 -0.84,0M102.55,105.25a0.42,0.42 0 1,0 0.84,0a0.42,0.42 0 1,0 -0.84,0M95.69,101.97a0.42,0.42 0 1,0 0.84,0a0.42,0.42 0 1,0 -0.84,0M97.56,102.39a0.42,0.42 0 1,0 0.84,0a0.42,0.42 0 1,0 -0.84,0M97.92,101.62a0.42,0.42 0 1,0 0.84,0a0.42,0.42 0 1,0 -0.84,0M80.83,109.84a0.42,0.42 0 1,0 0.84,0a0.42,0.42 0 1,0 -0.84,0M97.42,110.98a0.42,0.42 0 1,0 0.84,0a0.42,0.42 0 1,0 -0.84,0M95.3,108.93a0.42,0.42 0 1,0 0.84,0a0.42,0.42 0 1,0 -0.84,0M88.77,107.05a0.42,0.42 0 1,0 0.84,0a0.42,0.42 0 1,0 -0.84,0M90.55,108.48a0.42,0.42 0 1,0 0.84,0a0.42,0.42 0 1,0 -0.84,0M83.2,110.16a0.42,0.42 0 1,0 0.84,0a0.42,0.42 0 1,0 -0.84,0M88.66,108.03a0.42,0.42 0 1,0 0.84,0a0.42,0.42 0 1,0 -0.84,0M95.32,104.85a0.42,0.42 0 1,0 0.84,0a0.42,0.42 0 1,0 -0.84,0M93.75,103.09a0.42,0.42 0 1,0 0.84,0a0.42,0.42 0 1,0 -0.84,0M97.16,110.58a0.42,0.42 0 1,0 0.84,0a0.42,0.42 0 1,0 -0.84,0M87.88,107.48a0.42,0.42 0 1,0 0.84,0a0.42,0.42 0 1,0 -0.84,0M94.61,103.32a0.42,0.42 0 1,0 0.84,0a0.42,0.42 0 1,0 -0.84,0M89,108.59a0.42,0.42 0 1,0 0.84,0a0.42,0.42 0 1,0 -0.84,0M99.77,102.97a0.42,0.42 0 1,0 0.84,0a0.42,0.42 0 1,0 -0.84,0M90.14,107.21a0.42,0.42 0 1,0 0.84,0a0.42,0.42 0 1,0 -0.84,0M93.88,102.83a0.42,0.42 0 1,0 0.84,0a0.42,0.42 0 1,0 -0.84,0M84.59,109.5a0.42,0.42 0 1,0 0.84,0a0.42,0.42 0 1,0 -0.84,0M102.87,102.28a0.42,0.42 0 1,0 0.84,0a0.42,0.42 0 1,0 -0.84,0M94.75,108.49a0.42,0.42 0 1,0 0.84,0a0.42,0.42 0 1,0 -0.84,0M85.95,109.52a0.42,0.42 0 1,0 0.84,0a0.42,0.42 0 1,0 -0.84,0M99.37,105.44a0.42,0.42 0 1,0 0.84,0a0.42,0.42 0 1,0 -0.84,0M81.77,110.29a0.42,0.42 0 1,0 0.84,0a0.42,0.42 0 1,0 -0.84,0M98.88,102.26a0.42,0.42 0 1,0 0.84,0a0.42,0.42 0 1,0 -0.84,0M101.71,106.31a0.42,0.42 0 1,0 0.84,0a0.42,0.42 0 1,0 -0.84,0M91.49,107.25a0.42,0.42 0 1,0 0.84,0a0.42,0.42 0 1,0 -0.84,0M84.1,108.81a0.42,0.42 0 1,0 0.84,0a0.42,0.42 0 1,0 -0.84,0M88.65,106.9a0.42,0.42 0 1,0 0.84,0a0.42,0.42 0 1,0 -0.84,0M89.64,106.24a0.42,0.42 0 1,0 0.84,0a0.42,0.42 0 1,0 -0.84,0M82.23,107.86a0.42,0.42 0 1,0 0.84,0a0.42,0.42 0 1,0 -0.84,0M99.26,101.19a0.42,0.42 0 1,0 0.84,0a0.42,0.42 0 1,0 -0.84,0M94.51,103.83a0.42,0.42 0 1,0 0.84,0a0.42,0.42 0 1,0 -0.84,0M101.23,105.81a0.42,0.42 0 1,0 0.84,0a0.42,0.42 0 1,0 -0.84,0M93.76,102.66a0.42,0.42 0 1,0 0.84,0a0.42,0.42 0 1,0 -0.84,0M99.06,104.96a0.42,0.42 0 1,0 0.84,0a0.42,0.42 0 1,0 -0.84,0M94.53,104.56a0.42,0.42 0 1,0 0.84,0a0.42,0.42 0 1,0 -0.84,0M86.01,106.9a0.42,0.42 0 1,0 0.84,0a0.42,0.42 0 1,0 -0.84,0M96.32,104.5a0.42,0.42 0 1,0 0.84,0a0.42,0.42 0 1,0 -0.84,0" fill="#ffffff"/>
<path d="M99.21,108.93a0.45,0.45 0 1,0 0.9,0a0.45,0.45 0 1,0 -0.9,0M96.47,103.18a0.45,0.45 0 1,0 0.9,0a0.45,0.45 0 1,0 -0.9,0M94.34,109.61a0.45,0.45 0 1,0 0.9,0a0.45,0.45 0 1,0 -0.9,0M97.48,101.73a0.45,0.45 0 1,0 0.9,0a0.45,0.45 0 1,0 -0.9,0M100.61,107.8a0.45,0.45 0 1,0 0.9,0a0.45,0.45 0 1,0 -0.9,0M90.86,103.76a0.45,0.45 0 1,0 0.9,0a0.45,0.45 0 1,0 -0.9,0M100.13,105.69a0.45,0.45 0 1,0 0.9,0a0.45,0.45 0 1,0 -0.9,0M95.25,101a0.45,0.45 0 1,0 0.9,0a0.45,0.45 0 1,0 -0.9,0M97.39,106.75a0.45,0.45 0 1,0 0.9,0a0.45,0.45 0 1,0 -0.9,0M86.21,104.76a0.45,0.45 0 1,0 0.9,0a0.45,0.45 0 1,0 -0.9,0M100.54,103.68a0.45,0.45 0 1,0 0.9,0a0.45,0.45 0 1,0 -0.9,0M96.26,101.96a0.45,0.45 0 1,0 0.9,0a0.45,0.45 0 1,0 -0.9,0M91.49,103.01a0.45,0.45 0 1,0 0.9,0a0.45,0.45 0 1,0 -0.9,0M97.71,103.11a0.45,0.45 0 1,0 0.9,0a0.45,0.45 0 1,0 -0.9,0M99.73,103.77a0.45,0.45 0 1,0 0.9,0a0.45,0.45 0 1,0 -0.9,0M100.36,106.37a0.45,0.45 0 1,0 0.9,0a0.45,0.45 0 1,0 -0.9,0M102.35,102.06a0.45,0.45 0 1,0 0.9,0a0.45,0.45 0 1,0 -0.9,0M84.05,109.79a0.45,0.45 0 1,0 0.9,0a0.45,0.45 0 1,0 -0.9,0M97.34,101.75a0.45,0.45 0 1,0 0.9,0a0.45,0.45 0 1,0 -0.9,0M94.76,105.94a0.45,0.45 0 1,0 0.9,0a0.45,0.45 0 1,0 -0.9,0M94.86,108.91a0.45,0.45 0 1,0 0.9,0a0.45,0.45 0 1,0 -0.9,0M99.84,107.16a0.45,0.45 0 1,0 0.9,0a0.45,0.45 0 1,0 -0.9,0M97.87,104.71a0.45,0.45 0 1,0 0.9,0a0.45,0.45 0 1,0 -0.9,0M99.82,103.69a0.45,0.45 0 1,0 0.9,0a0.45,0.45 0 1,0 -0.9,0M102.31,105.67a0.45,0.45 0 1,0 0.9,0a0.45,0.45 0 1,0 -0.9,0M101.35,102.73a0.45,0.45 0 1,0 0.9,0a0.45,0.45 0 1,0 -0.9,0M88.83,107.33a0.45,0.45 0 1,0 0.9,0a0.45,0.45 0 1,0 -0.9,0M90.69,106.22a0.45,0.45 0 1,0 0.9,0a0.45,0.45 0 1,0 -0.9,0M82.57,109a0.45,0.45 0 1,0 0.9,0a0.45,0.45 0 1,0 -0.9,0M87.57,108.96a0.45,0.45 0 1,0 0.9,0a0.45,0.45 0 1,0 -0.9,0M92.38,106.43a0.45,0.45 0 1,0 0.9,0a0.45,0.45 0 1,0 -0.9,0M97.02,101.73a0.45,0.45 0 1,0 0.9,0a0.45,0.45 0 1,0 -0.9,0M93.96,106.32a0.45,0.45 0 1,0 0.9,0a0.45,0.45 0 1,0 -0.9,0M91.89,106.01a0.45,0.45 0 1,0 0.9,0a0.45,0.45 0 1,0 -0.9,0M83.23,107.02a0.45,0.45 0 1,0 0.9,0a0.45,0.45 0 1,0 -0.9,0M98.21,101.3a0.45,0.45 0 1,0 0.9,0a0.45,0.45 0 1,0 -0.9,0M89.27,104.89a0.45,0.45 0 1,0 0.9,0a0.45,0.45 0 1,0 -0.9,0M100.54,106.36a0.45,0.45 0 1,0 0.9,0a0.45,0.45 0 1,0 -0.9,0M98.97,103.74a0.45,0.45 0 1,0 0.9,0a0.45,0.45 0 1,0 -0.9,0M85.78,104.91a0.45,0.45 0 1,0 0.9,0a0.45,0.45 0 1,0 -0.9,0" fill="#ABA300"/>
<path d="M109.51,117.06a0.42,0.42 0 1,0 0.84,0a0.42,0.42 0 1,0 -0.84,0M110.9,116.2a0.42,0.42 0 1,0 0.84,0a0.42,0.42 0 1,0 -0.84,0M107.47,118.77a0.42,0.42 0 1,0 0.84,0a0.42,0.42 0 1,0 -0.84,0M104.51,118.13a0.42,0.42 0 1,0 0.84,0a0.42,0.42 0 1,0 -0.84,0M106.87,116.6a0.42,0.42 0 1,0 0.84,0a0.42,0.42 0 1,0 -0.84,0M104.56,112.58a0.42,0.42 0 1,0 0.84,0a0.42,0.42 0 1,0 -0.84,0M107.28,115.88a0.42,0.42 0 1,0 0.84,0a0.42,0.42 0 1,0 -0.84,0M107.19,113.92a0.42,0.42 0 1,0 0.84,0a0.42,0.42 0 1,0 -0.84,0M103.99,117.56a0.42,0.42 0 1,0 0.84,0a0.42,0.42 0 1,0 -0.84,0M116.02,118.32a0.42,0.42 0 1,0 0.84,0a0.42,0.42 0 1,0 -0.84,0M111.7,118.8a0.42,0.42 0 1,0 0.84,0a0.42,0.42 0 1,0 -0.84,0M105.8,119.52a0.42,0.42 0 1,0 0.84,0a0.42,0.42 0 1,0 -0.84,0M109.95,117.58a0.42,0.42 0 1,0 0.84,0a0.42,0.42 0 1,0 -0.84,0M112.38,116.63a0.42,0.42 0 1,0 0.84,0a0.42,0.42 0 1,0 -0.84,0M107.55,113.91a0.42,0.42 0 1,0 0.84,0a0.42,0.42 0 1,0 -0.84,0M106.13,117.15a0.42,0.42 0 1,0 0.84,0a0.42,0.42 0 1,0 -0.84,0M108.71,118.03a0.42,0.42 0 1,0 0.84,0a0.42,0.42 0 1,0 -0.84,0M111.49,116.9a0.42,0.42 0 1,0 0.84,0a0.42,0.42 0 1,0 -0.84,0M107.31,120.27a0.42,0.42 0 1,0 0.84,0a0.42,0.42 0 1,0 -0.84,0M109.62,119.82a0.42,0.42 0 1,0 0.84,0a0.42,0.42 0 1,0 -0.84,0M104.33,113.7a0.42,0.42 0 1,0 0.84,0a0.42,0.42 0 1,0 -0.84,0M105.05,115.04a0.42,0.42 0 1,0 0.84,0a0.42,0.42 0 1,0 -0.84,0M108.22,119.1a0.42,0.42 0 1,0 0.84,0a0.42,0.42 0 1,0 -0.84,0M112.44,121.2a0.42,0.42 0 1,0 0.84,0a0.42,0.42 0 1,0 -0.84,0M114.4,119.92a0.42,0.42 0 1,0 0.84,0a0.42,0.42 0 1,0 -0.84,0M115.14,119.5a0.42,0.42 0 1,0 0.84,0a0.42,0.42 0 1,0 -0.84,0M114.83,118.03a0.42,0.42 0 1,0 0.84,0a0.42,0.42 0 1,0 -0.84,0M111.73,116.01a0.42,0.42 0 1,0 0.84,0a0.42,0.42 0 1,0 -0.84,0M112.3,115.55a0.42,0.42 0 1,0 0.84,0a0.42,0.42 0 1,0 -0.84,0M109.82,116.49a0.42,0.42 0 1,0 0.84,0a0.42,0.42 0 1,0 -0.84,0M108.83,117.66a0.42,0.42 0 1,0 0.84,0a0.42,0.42 0 1,0 -0.84,0M108.73,114.86a0.42,0.42 0 1,0 0.84,0a0.42,0.42 0 1,0 -0.84,0M110.57,116.33a0.42,0.42 0 1,0 0.84,0a0.42,0.42 0 1,0 -0.84,0M105.53,114.65a0.42,0.42 0 1,0 0.84,0a0.42,0.42 0 1,0 -0.84,0M104.9,117.91a0.42,0.42 0 1,0 0.84,0a0.42,0.42 0 1,0 -0.84,0" fill="#ffffff"/>
<polygon points="102.5,104 104,101.8 107.5,101.6 110.5,103.5 112.8,106.5 113.3,110 111.8,112 108.5,111 105.5,108.5 103,106.5" fill="#72B000" stroke="#72B000" stroke-width="0.6" stroke-linejoin="round"/>
<path d="M112.82,112.38a0.65,0.65 0 1,0 1.3,0a0.65,0.65 0 1,0 -1.3,0M111.11,103.06a0.65,0.65 0 1,0 1.3,0a0.65,0.65 0 1,0 -1.3,0M102.32,106.03a0.65,0.65 0 1,0 1.3,0a0.65,0.65 0 1,0 -1.3,0M102.86,106.75a0.65,0.65 0 1,0 1.3,0a0.65,0.65 0 1,0 -1.3,0M110.23,111.15a0.65,0.65 0 1,0 1.3,0a0.65,0.65 0 1,0 -1.3,0M103.68,108.95a0.65,0.65 0 1,0 1.3,0a0.65,0.65 0 1,0 -1.3,0M111.57,109.74a0.65,0.65 0 1,0 1.3,0a0.65,0.65 0 1,0 -1.3,0M111.08,106.61a0.65,0.65 0 1,0 1.3,0a0.65,0.65 0 1,0 -1.3,0M111.9,104.54a0.65,0.65 0 1,0 1.3,0a0.65,0.65 0 1,0 -1.3,0M113.14,110.48a0.65,0.65 0 1,0 1.3,0a0.65,0.65 0 1,0 -1.3,0M111.05,105.83a0.65,0.65 0 1,0 1.3,0a0.65,0.65 0 1,0 -1.3,0M104.21,107.18a0.65,0.65 0 1,0 1.3,0a0.65,0.65 0 1,0 -1.3,0M110.62,105.71a0.65,0.65 0 1,0 1.3,0a0.65,0.65 0 1,0 -1.3,0M109.49,104.44a0.65,0.65 0 1,0 1.3,0a0.65,0.65 0 1,0 -1.3,0M105.45,103.4a0.65,0.65 0 1,0 1.3,0a0.65,0.65 0 1,0 -1.3,0M104.46,108.43a0.65,0.65 0 1,0 1.3,0a0.65,0.65 0 1,0 -1.3,0M102.57,105.85a0.65,0.65 0 1,0 1.3,0a0.65,0.65 0 1,0 -1.3,0M102.47,103.84a0.65,0.65 0 1,0 1.3,0a0.65,0.65 0 1,0 -1.3,0M105.58,102.47a0.65,0.65 0 1,0 1.3,0a0.65,0.65 0 1,0 -1.3,0M112.74,109.86a0.65,0.65 0 1,0 1.3,0a0.65,0.65 0 1,0 -1.3,0M109.64,111.31a0.65,0.65 0 1,0 1.3,0a0.65,0.65 0 1,0 -1.3,0M101.76,104.04a0.65,0.65 0 1,0 1.3,0a0.65,0.65 0 1,0 -1.3,0M112.25,105.86a0.65,0.65 0 1,0 1.3,0a0.65,0.65 0 1,0 -1.3,0M108.87,111.14a0.65,0.65 0 1,0 1.3,0a0.65,0.65 0 1,0 -1.3,0M103.49,107.59a0.65,0.65 0 1,0 1.3,0a0.65,0.65 0 1,0 -1.3,0M106.17,101.75a0.65,0.65 0 1,0 1.3,0a0.65,0.65 0 1,0 -1.3,0M108.45,102.26a0.65,0.65 0 1,0 1.3,0a0.65,0.65 0 1,0 -1.3,0M101.23,103.77a0.65,0.65 0 1,0 1.3,0a0.65,0.65 0 1,0 -1.3,0M105.3,102.71a0.65,0.65 0 1,0 1.3,0a0.65,0.65 0 1,0 -1.3,0M104.51,102.01a0.65,0.65 0 1,0 1.3,0a0.65,0.65 0 1,0 -1.3,0M113.07,109.15a0.65,0.65 0 1,0 1.3,0a0.65,0.65 0 1,0 -1.3,0M105.38,108.9a0.65,0.65 0 1,0 1.3,0a0.65,0.65 0 1,0 -1.3,0M105.69,110.61a0.65,0.65 0 1,0 1.3,0a0.65,0.65 0 1,0 -1.3,0M111.23,105.43a0.65,0.65 0 1,0 1.3,0a0.65,0.65 0 1,0 -1.3,0M104.69,101.24a0.65,0.65 0 1,0 1.3,0a0.65,0.65 0 1,0 -1.3,0M110.21,105.04a0.65,0.65 0 1,0 1.3,0a0.65,0.65 0 1,0 -1.3,0M103.57,101.94a0.65,0.65 0 1,0 1.3,0a0.65,0.65 0 1,0 -1.3,0M101.2,105.65a0.65,0.65 0 1,0 1.3,0a0.65,0.65 0 1,0 -1.3,0M110.07,103.1a0.65,0.65 0 1,0 1.3,0a0.65,0.65 0 1,0 -1.3,0M103.47,109.25a0.65,0.65 0 1,0 1.3,0a0.65,0.65 0 1,0 -1.3,0" fill="#72B000"/>
<path d="M108.53,104.66a0.5,0.5 0 1,0 1,0a0.5,0.5 0 1,0 -1,0M101.41,102.43a0.5,0.5 0 1,0 1,0a0.5,0.5 0 1,0 -1,0M100.17,107.21a0.5,0.5 0 1,0 1,0a0.5,0.5 0 1,0 -1,0M107.63,109.98a0.5,0.5 0 1,0 1,0a0.5,0.5 0 1,0 -1,0M107.08,104.92a0.5,0.5 0 1,0 1,0a0.5,0.5 0 1,0 -1,0M105.28,112.7a0.5,0.5 0 1,0 1,0a0.5,0.5 0 1,0 -1,0M102.2,107.52a0.5,0.5 0 1,0 1,0a0.5,0.5 0 1,0 -1,0M107.58,108.85a0.5,0.5 0 1,0 1,0a0.5,0.5 0 1,0 -1,0M106.29,108.5a0.5,0.5 0 1,0 1,0a0.5,0.5 0 1,0 -1,0M109.95,106.56a0.5,0.5 0 1,0 1,0a0.5,0.5 0 1,0 -1,0M106.13,106.44a0.5,0.5 0 1,0 1,0a0.5,0.5 0 1,0 -1,0M104.61,106.38a0.5,0.5 0 1,0 1,0a0.5,0.5 0 1,0 -1,0M106.59,107.63a0.5,0.5 0 1,0 1,0a0.5,0.5 0 1,0 -1,0M111.51,110.92a0.5,0.5 0 1,0 1,0a0.5,0.5 0 1,0 -1,0M106.16,108.81a0.5,0.5 0 1,0 1,0a0.5,0.5 0 1,0 -1,0M108.38,109.28a0.5,0.5 0 1,0 1,0a0.5,0.5 0 1,0 -1,0M107.56,107.8a0.5,0.5 0 1,0 1,0a0.5,0.5 0 1,0 -1,0M106.09,104.65a0.5,0.5 0 1,0 1,0a0.5,0.5 0 1,0 -1,0M110.12,110.9a0.5,0.5 0 1,0 1,0a0.5,0.5 0 1,0 -1,0M109.49,108.31a0.5,0.5 0 1,0 1,0a0.5,0.5 0 1,0 -1,0M108.3,105.65a0.5,0.5 0 1,0 1,0a0.5,0.5 0 1,0 -1,0M102.15,108.99a0.5,0.5 0 1,0 1,0a0.5,0.5 0 1,0 -1,0M108.1,105.34a0.5,0.5 0 1,0 1,0a0.5,0.5 0 1,0 -1,0M104.61,110.83a0.5,0.5 0 1,0 1,0a0.5,0.5 0 1,0 -1,0M102.09,112.29a0.5,0.5 0 1,0 1,0a0.5,0.5 0 1,0 -1,0M109.42,114.11a0.5,0.5 0 1,0 1,0a0.5,0.5 0 1,0 -1,0M105.35,106.93a0.5,0.5 0 1,0 1,0a0.5,0.5 0 1,0 -1,0M105.98,107.47a0.5,0.5 0 1,0 1,0a0.5,0.5 0 1,0 -1,0M106.87,104.75a0.5,0.5 0 1,0 1,0a0.5,0.5 0 1,0 -1,0M110.72,104.65a0.5,0.5 0 1,0 1,0a0.5,0.5 0 1,0 -1,0" fill="#F8766D"/>
<polygon points="97.8,115.5 99.5,113.3 102,113 104.3,114.3 105.2,116.8 104.6,119.6 102.8,121.5 100.2,121.6 98.3,120" fill="#fff"/>
<path d="M99.28,119.05a0.45,0.45 0 1,0 0.9,0a0.45,0.45 0 1,0 -0.9,0M99.21,116.28a0.45,0.45 0 1,0 0.9,0a0.45,0.45 0 1,0 -0.9,0M101.44,116.47a0.45,0.45 0 1,0 0.9,0a0.45,0.45 0 1,0 -0.9,0M97.43,117.21a0.45,0.45 0 1,0 0.9,0a0.45,0.45 0 1,0 -0.9,0M100,122.27a0.45,0.45 0 1,0 0.9,0a0.45,0.45 0 1,0 -0.9,0M97.81,120.21a0.45,0.45 0 1,0 0.9,0a0.45,0.45 0 1,0 -0.9,0M98.59,116.5a0.45,0.45 0 1,0 0.9,0a0.45,0.45 0 1,0 -0.9,0M99.73,118.26a0.45,0.45 0 1,0 0.9,0a0.45,0.45 0 1,0 -0.9,0M102.71,122.4a0.45,0.45 0 1,0 0.9,0a0.45,0.45 0 1,0 -0.9,0M98.96,121.22a0.45,0.45 0 1,0 0.9,0a0.45,0.45 0 1,0 -0.9,0M103.04,119.78a0.45,0.45 0 1,0 0.9,0a0.45,0.45 0 1,0 -0.9,0M98.65,120.02a0.45,0.45 0 1,0 0.9,0a0.45,0.45 0 1,0 -0.9,0M100.28,118.49a0.45,0.45 0 1,0 0.9,0a0.45,0.45 0 1,0 -0.9,0M99.88,119.36a0.45,0.45 0 1,0 0.9,0a0.45,0.45 0 1,0 -0.9,0" fill="#F8766D"/>
<path d="M102.7,117.8a0.8,0.8 0 1,0 1.6,0a0.8,0.8 0 1,0 -1.6,0M103.4,118.5a0.8,0.8 0 1,0 1.6,0a0.8,0.8 0 1,0 -1.6,0M105.4,122a0.8,0.8 0 1,0 1.6,0a0.8,0.8 0 1,0 -1.6,0M104.7,121.4a0.8,0.8 0 1,0 1.6,0a0.8,0.8 0 1,0 -1.6,0M106.2,121.8a0.8,0.8 0 1,0 1.6,0a0.8,0.8 0 1,0 -1.6,0M98.2,119.5a0.8,0.8 0 1,0 1.6,0a0.8,0.8 0 1,0 -1.6,0" fill="#72B000"/>
<path d="M111.4,118a0.6,0.6 0 1,0 1.2,0a0.6,0.6 0 1,0 -1.2,0M112.4,119a0.6,0.6 0 1,0 1.2,0a0.6,0.6 0 1,0 -1.2,0M114.4,115a0.6,0.6 0 1,0 1.2,0a0.6,0.6 0 1,0 -1.2,0" fill="#72B000"/>
<polygon points="52,133.3 56,130 61,127.6 66.5,125.8 64.5,128.5 62,132.5 60.5,135.8 56,135.6" fill="#00C19A" stroke="#00C19A" stroke-width="0.6" stroke-linejoin="round"/>
<path d="M54.9,129.9a0.65,0.65 0 1,0 1.3,0a0.65,0.65 0 1,0 -1.3,0M65.19,125.79a0.65,0.65 0 1,0 1.3,0a0.65,0.65 0 1,0 -1.3,0M55.32,135.28a0.65,0.65 0 1,0 1.3,0a0.65,0.65 0 1,0 -1.3,0M60.72,127.92a0.65,0.65 0 1,0 1.3,0a0.65,0.65 0 1,0 -1.3,0M60.97,133.08a0.65,0.65 0 1,0 1.3,0a0.65,0.65 0 1,0 -1.3,0M61.23,132.15a0.65,0.65 0 1,0 1.3,0a0.65,0.65 0 1,0 -1.3,0M56.04,136.21a0.65,0.65 0 1,0 1.3,0a0.65,0.65 0 1,0 -1.3,0M57.62,130.04a0.65,0.65 0 1,0 1.3,0a0.65,0.65 0 1,0 -1.3,0M60.15,134.92a0.65,0.65 0 1,0 1.3,0a0.65,0.65 0 1,0 -1.3,0M52.68,132.63a0.65,0.65 0 1,0 1.3,0a0.65,0.65 0 1,0 -1.3,0M60.8,127.51a0.65,0.65 0 1,0 1.3,0a0.65,0.65 0 1,0 -1.3,0M60.98,127.09a0.65,0.65 0 1,0 1.3,0a0.65,0.65 0 1,0 -1.3,0M56.01,135.32a0.65,0.65 0 1,0 1.3,0a0.65,0.65 0 1,0 -1.3,0M58.55,128.43a0.65,0.65 0 1,0 1.3,0a0.65,0.65 0 1,0 -1.3,0M63.48,126.89a0.65,0.65 0 1,0 1.3,0a0.65,0.65 0 1,0 -1.3,0M59.05,135.91a0.65,0.65 0 1,0 1.3,0a0.65,0.65 0 1,0 -1.3,0M56.06,135.54a0.65,0.65 0 1,0 1.3,0a0.65,0.65 0 1,0 -1.3,0M59.58,128.86a0.65,0.65 0 1,0 1.3,0a0.65,0.65 0 1,0 -1.3,0M58.46,128.42a0.65,0.65 0 1,0 1.3,0a0.65,0.65 0 1,0 -1.3,0M53.66,130.78a0.65,0.65 0 1,0 1.3,0a0.65,0.65 0 1,0 -1.3,0M60.17,135.16a0.65,0.65 0 1,0 1.3,0a0.65,0.65 0 1,0 -1.3,0M54.44,130.99a0.65,0.65 0 1,0 1.3,0a0.65,0.65 0 1,0 -1.3,0M53.32,133.83a0.65,0.65 0 1,0 1.3,0a0.65,0.65 0 1,0 -1.3,0M56.7,135.28a0.65,0.65 0 1,0 1.3,0a0.65,0.65 0 1,0 -1.3,0M52.75,131.51a0.65,0.65 0 1,0 1.3,0a0.65,0.65 0 1,0 -1.3,0M64.54,127.77a0.65,0.65 0 1,0 1.3,0a0.65,0.65 0 1,0 -1.3,0M60.37,136a0.65,0.65 0 1,0 1.3,0a0.65,0.65 0 1,0 -1.3,0M57.94,136.34a0.65,0.65 0 1,0 1.3,0a0.65,0.65 0 1,0 -1.3,0M51.93,133.39a0.65,0.65 0 1,0 1.3,0a0.65,0.65 0 1,0 -1.3,0M59.52,128.38a0.65,0.65 0 1,0 1.3,0a0.65,0.65 0 1,0 -1.3,0" fill="#00C19A"/>
<polygon points="57,117.2 60,118.5 64,120.5 69,122.3 69.5,124.2 65,123 60.5,121 57,119.4" fill="#0CB702" stroke="#0CB702" stroke-width="0.6" stroke-linejoin="round"/>
<path d="M68.07,122.56a0.65,0.65 0 1,0 1.3,0a0.65,0.65 0 1,0 -1.3,0M59.97,118.19a0.65,0.65 0 1,0 1.3,0a0.65,0.65 0 1,0 -1.3,0M62.98,120.9a0.65,0.65 0 1,0 1.3,0a0.65,0.65 0 1,0 -1.3,0M68.93,122.68a0.65,0.65 0 1,0 1.3,0a0.65,0.65 0 1,0 -1.3,0M64.91,120.8a0.65,0.65 0 1,0 1.3,0a0.65,0.65 0 1,0 -1.3,0M66.22,124.42a0.65,0.65 0 1,0 1.3,0a0.65,0.65 0 1,0 -1.3,0M67.15,123.44a0.65,0.65 0 1,0 1.3,0a0.65,0.65 0 1,0 -1.3,0M63.21,122.37a0.65,0.65 0 1,0 1.3,0a0.65,0.65 0 1,0 -1.3,0M60.99,121.24a0.65,0.65 0 1,0 1.3,0a0.65,0.65 0 1,0 -1.3,0M64.19,121.14a0.65,0.65 0 1,0 1.3,0a0.65,0.65 0 1,0 -1.3,0M57.98,118.26a0.65,0.65 0 1,0 1.3,0a0.65,0.65 0 1,0 -1.3,0M62.45,122.34a0.65,0.65 0 1,0 1.3,0a0.65,0.65 0 1,0 -1.3,0M64.96,121.34a0.65,0.65 0 1,0 1.3,0a0.65,0.65 0 1,0 -1.3,0M61.1,119.37a0.65,0.65 0 1,0 1.3,0a0.65,0.65 0 1,0 -1.3,0M56.35,117.23a0.65,0.65 0 1,0 1.3,0a0.65,0.65 0 1,0 -1.3,0M62.88,121.98a0.65,0.65 0 1,0 1.3,0a0.65,0.65 0 1,0 -1.3,0M58.88,118.57a0.65,0.65 0 1,0 1.3,0a0.65,0.65 0 1,0 -1.3,0M61.57,119.62a0.65,0.65 0 1,0 1.3,0a0.65,0.65 0 1,0 -1.3,0M56.16,118.96a0.65,0.65 0 1,0 1.3,0a0.65,0.65 0 1,0 -1.3,0M56.13,118.87a0.65,0.65 0 1,0 1.3,0a0.65,0.65 0 1,0 -1.3,0M63.25,120.5a0.65,0.65 0 1,0 1.3,0a0.65,0.65 0 1,0 -1.3,0M60.86,121a0.65,0.65 0 1,0 1.3,0a0.65,0.65 0 1,0 -1.3,0M60.89,118.85a0.65,0.65 0 1,0 1.3,0a0.65,0.65 0 1,0 -1.3,0M56.82,120.18a0.65,0.65 0 1,0 1.3,0a0.65,0.65 0 1,0 -1.3,0M59.06,120.2a0.65,0.65 0 1,0 1.3,0a0.65,0.65 0 1,0 -1.3,0M61.69,119.18a0.65,0.65 0 1,0 1.3,0a0.65,0.65 0 1,0 -1.3,0M66.24,121.55a0.65,0.65 0 1,0 1.3,0a0.65,0.65 0 1,0 -1.3,0M59.06,120.78a0.65,0.65 0 1,0 1.3,0a0.65,0.65 0 1,0 -1.3,0M65.93,122.93a0.65,0.65 0 1,0 1.3,0a0.65,0.65 0 1,0 -1.3,0M63.57,121.53a0.65,0.65 0 1,0 1.3,0a0.65,0.65 0 1,0 -1.3,0" fill="#0CB702"/>
<path d="M52.6,124.6a0.8,0.8 0 1,0 1.6,0a0.8,0.8 0 1,0 -1.6,0M53.2,125.3a0.8,0.8 0 1,0 1.6,0a0.8,0.8 0 1,0 -1.6,0M52.2,125.1a0.8,0.8 0 1,0 1.6,0a0.8,0.8 0 1,0 -1.6,0" fill="#00C19A"/>
<path d="M69.46,123.08a0.6,0.6 0 1,0 1.2,0a0.6,0.6 0 1,0 -1.2,0M73.56,124.41a0.6,0.6 0 1,0 1.2,0a0.6,0.6 0 1,0 -1.2,0M71.51,122.6a0.6,0.6 0 1,0 1.2,0a0.6,0.6 0 1,0 -1.2,0M71.83,121.89a0.6,0.6 0 1,0 1.2,0a0.6,0.6 0 1,0 -1.2,0M66.2,124.85a0.6,0.6 0 1,0 1.2,0a0.6,0.6 0 1,0 -1.2,0M73,123.3a0.6,0.6 0 1,0 1.2,0a0.6,0.6 0 1,0 -1.2,0M70.89,123.48a0.6,0.6 0 1,0 1.2,0a0.6,0.6 0 1,0 -1.2,0M72.37,122.85a0.6,0.6 0 1,0 1.2,0a0.6,0.6 0 1,0 -1.2,0M75.06,119.69a0.6,0.6 0 1,0 1.2,0a0.6,0.6 0 1,0 -1.2,0M73.01,120.95a0.6,0.6 0 1,0 1.2,0a0.6,0.6 0 1,0 -1.2,0M71.64,125.88a0.6,0.6 0 1,0 1.2,0a0.6,0.6 0 1,0 -1.2,0M69.8,122.81a0.6,0.6 0 1,0 1.2,0a0.6,0.6 0 1,0 -1.2,0M70.98,124.82a0.6,0.6 0 1,0 1.2,0a0.6,0.6 0 1,0 -1.2,0M70.05,119.77a0.6,0.6 0 1,0 1.2,0a0.6,0.6 0 1,0 -1.2,0M73.63,122.32a0.6,0.6 0 1,0 1.2,0a0.6,0.6 0 1,0 -1.2,0M71.63,125.08a0.6,0.6 0 1,0 1.2,0a0.6,0.6 0 1,0 -1.2,0M70.27,122.28a0.6,0.6 0 1,0 1.2,0a0.6,0.6 0 1,0 -1.2,0M72.75,123.79a0.6,0.6 0 1,0 1.2,0a0.6,0.6 0 1,0 -1.2,0M71.16,124.99a0.6,0.6 0 1,0 1.2,0a0.6,0.6 0 1,0 -1.2,0M77.78,122.22a0.6,0.6 0 1,0 1.2,0a0.6,0.6 0 1,0 -1.2,0M76.89,118.95a0.6,0.6 0 1,0 1.2,0a0.6,0.6 0 1,0 -1.2,0M75.78,122.34a0.6,0.6 0 1,0 1.2,0a0.6,0.6 0 1,0 -1.2,0M72.73,122.35a0.6,0.6 0 1,0 1.2,0a0.6,0.6 0 1,0 -1.2,0M70.87,120.55a0.6,0.6 0 1,0 1.2,0a0.6,0.6 0 1,0 -1.2,0M71.45,125.49a0.6,0.6 0 1,0 1.2,0a0.6,0.6 0 1,0 -1.2,0" fill="#0CB702"/>
<path d="M75.14,124.33a0.6,0.6 0 1,0 1.2,0a0.6,0.6 0 1,0 -1.2,0M71.13,123.65a0.6,0.6 0 1,0 1.2,0a0.6,0.6 0 1,0 -1.2,0M69.52,128.46a0.6,0.6 0 1,0 1.2,0a0.6,0.6 0 1,0 -1.2,0M73.99,125.23a0.6,0.6 0 1,0 1.2,0a0.6,0.6 0 1,0 -1.2,0M71.22,123.04a0.6,0.6 0 1,0 1.2,0a0.6,0.6 0 1,0 -1.2,0M75.56,126.5a0.6,0.6 0 1,0 1.2,0a0.6,0.6 0 1,0 -1.2,0M70.11,126.9a0.6,0.6 0 1,0 1.2,0a0.6,0.6 0 1,0 -1.2,0M69.74,126.23a0.6,0.6 0 1,0 1.2,0a0.6,0.6 0 1,0 -1.2,0M70.09,124.2a0.6,0.6 0 1,0 1.2,0a0.6,0.6 0 1,0 -1.2,0M73.59,125.83a0.6,0.6 0 1,0 1.2,0a0.6,0.6 0 1,0 -1.2,0M74.83,123.39a0.6,0.6 0 1,0 1.2,0a0.6,0.6 0 1,0 -1.2,0M76.19,127.58a0.6,0.6 0 1,0 1.2,0a0.6,0.6 0 1,0 -1.2,0M72.38,125.89a0.6,0.6 0 1,0 1.2,0a0.6,0.6 0 1,0 -1.2,0M70.53,124.71a0.6,0.6 0 1,0 1.2,0a0.6,0.6 0 1,0 -1.2,0M69.23,125.17a0.6,0.6 0 1,0 1.2,0a0.6,0.6 0 1,0 -1.2,0" fill="#00C19A"/>
<path d="M73.88,123.58a0.5,0.5 0 1,0 1,0a0.5,0.5 0 1,0 -1,0M75.32,122.56a0.5,0.5 0 1,0 1,0a0.5,0.5 0 1,0 -1,0M72.81,120.57a0.5,0.5 0 1,0 1,0a0.5,0.5 0 1,0 -1,0M72.85,121.43a0.5,0.5 0 1,0 1,0a0.5,0.5 0 1,0 -1,0M69.79,122.48a0.5,0.5 0 1,0 1,0a0.5,0.5 0 1,0 -1,0M70.49,120.01a0.5,0.5 0 1,0 1,0a0.5,0.5 0 1,0 -1,0M73.54,120.01a0.5,0.5 0 1,0 1,0a0.5,0.5 0 1,0 -1,0M76.69,120.81a0.5,0.5 0 1,0 1,0a0.5,0.5 0 1,0 -1,0" fill="#DB9700"/>
<polygon points="155,126.3 158,124.5 160.5,121.2 162,122 163,125 166,127 168.8,128.8 167,129.8 163,128.5 159.5,127.3" fill="#00C19A" stroke="#00C19A" stroke-width="0.6" stroke-linejoin="round"/>
<path d="M157.57,124.08a0.65,0.65 0 1,0 1.3,0a0.65,0.65 0 1,0 -1.3,0M159.38,122.49a0.65,0.65 0 1,0 1.3,0a0.65,0.65 0 1,0 -1.3,0M162.29,128.94a0.65,0.65 0 1,0 1.3,0a0.65,0.65 0 1,0 -1.3,0M156.07,125.77a0.65,0.65 0 1,0 1.3,0a0.65,0.65 0 1,0 -1.3,0M154.51,125.84a0.65,0.65 0 1,0 1.3,0a0.65,0.65 0 1,0 -1.3,0M161.48,122.31a0.65,0.65 0 1,0 1.3,0a0.65,0.65 0 1,0 -1.3,0M157.31,126.42a0.65,0.65 0 1,0 1.3,0a0.65,0.65 0 1,0 -1.3,0M168.79,128.14a0.65,0.65 0 1,0 1.3,0a0.65,0.65 0 1,0 -1.3,0M158.67,122.28a0.65,0.65 0 1,0 1.3,0a0.65,0.65 0 1,0 -1.3,0M161.7,127.57a0.65,0.65 0 1,0 1.3,0a0.65,0.65 0 1,0 -1.3,0M157.19,124.55a0.65,0.65 0 1,0 1.3,0a0.65,0.65 0 1,0 -1.3,0M156.05,126.54a0.65,0.65 0 1,0 1.3,0a0.65,0.65 0 1,0 -1.3,0M167.7,129.7a0.65,0.65 0 1,0 1.3,0a0.65,0.65 0 1,0 -1.3,0M161.69,128.72a0.65,0.65 0 1,0 1.3,0a0.65,0.65 0 1,0 -1.3,0M164.94,129.67a0.65,0.65 0 1,0 1.3,0a0.65,0.65 0 1,0 -1.3,0M164.94,125.93a0.65,0.65 0 1,0 1.3,0a0.65,0.65 0 1,0 -1.3,0M157.81,124.24a0.65,0.65 0 1,0 1.3,0a0.65,0.65 0 1,0 -1.3,0M161.15,128.59a0.65,0.65 0 1,0 1.3,0a0.65,0.65 0 1,0 -1.3,0M161.33,122.05a0.65,0.65 0 1,0 1.3,0a0.65,0.65 0 1,0 -1.3,0M158.64,122.94a0.65,0.65 0 1,0 1.3,0a0.65,0.65 0 1,0 -1.3,0M164.93,128.06a0.65,0.65 0 1,0 1.3,0a0.65,0.65 0 1,0 -1.3,0M154.6,126.3a0.65,0.65 0 1,0 1.3,0a0.65,0.65 0 1,0 -1.3,0M166.78,126.88a0.65,0.65 0 1,0 1.3,0a0.65,0.65 0 1,0 -1.3,0M155.77,126.52a0.65,0.65 0 1,0 1.3,0a0.65,0.65 0 1,0 -1.3,0M164.37,129.66a0.65,0.65 0 1,0 1.3,0a0.65,0.65 0 1,0 -1.3,0" fill="#00C19A"/>
<polygon points="146.5,155 150,153.2 156,152.6 162,152.6 168,153 172.5,154.5 175.3,157 175.6,163 175.2,170 173,174.5 168,175.5 163,172 160,167 157,164 152,161 148,158.5" fill="#00B8E7" stroke="#00B8E7" stroke-width="0.6" stroke-linejoin="round"/>
<path d="M159.21,151.86a0.65,0.65 0 1,0 1.3,0a0.65,0.65 0 1,0 -1.3,0M152.93,161.88a0.65,0.65 0 1,0 1.3,0a0.65,0.65 0 1,0 -1.3,0M172.98,157.02a0.65,0.65 0 1,0 1.3,0a0.65,0.65 0 1,0 -1.3,0M171.83,174.86a0.65,0.65 0 1,0 1.3,0a0.65,0.65 0 1,0 -1.3,0M173.42,157.17a0.65,0.65 0 1,0 1.3,0a0.65,0.65 0 1,0 -1.3,0M174.7,159.23a0.65,0.65 0 1,0 1.3,0a0.65,0.65 0 1,0 -1.3,0M172.04,174.7a0.65,0.65 0 1,0 1.3,0a0.65,0.65 0 1,0 -1.3,0M175.1,165.14a0.65,0.65 0 1,0 1.3,0a0.65,0.65 0 1,0 -1.3,0M157.31,151.97a0.65,0.65 0 1,0 1.3,0a0.65,0.65 0 1,0 -1.3,0M167.61,153.32a0.65,0.65 0 1,0 1.3,0a0.65,0.65 0 1,0 -1.3,0M170.41,173.53a0.65,0.65 0 1,0 1.3,0a0.65,0.65 0 1,0 -1.3,0M147.24,155.85a0.65,0.65 0 1,0 1.3,0a0.65,0.65 0 1,0 -1.3,0M160.78,166.46a0.65,0.65 0 1,0 1.3,0a0.65,0.65 0 1,0 -1.3,0M167.11,174.79a0.65,0.65 0 1,0 1.3,0a0.65,0.65 0 1,0 -1.3,0M169.49,151.79a0.65,0.65 0 1,0 1.3,0a0.65,0.65 0 1,0 -1.3,0M148.18,158.52a0.65,0.65 0 1,0 1.3,0a0.65,0.65 0 1,0 -1.3,0M159.96,167.06a0.65,0.65 0 1,0 1.3,0a0.65,0.65 0 1,0 -1.3,0M166.83,176.39a0.65,0.65 0 1,0 1.3,0a0.65,0.65 0 1,0 -1.3,0M175.59,160.98a0.65,0.65 0 1,0 1.3,0a0.65,0.65 0 1,0 -1.3,0M173.23,154.74a0.65,0.65 0 1,0 1.3,0a0.65,0.65 0 1,0 -1.3,0M174.7,158.08a0.65,0.65 0 1,0 1.3,0a0.65,0.65 0 1,0 -1.3,0M173.91,156.35a0.65,0.65 0 1,0 1.3,0a0.65,0.65 0 1,0 -1.3,0M152.41,162.48a0.65,0.65 0 1,0 1.3,0a0.65,0.65 0 1,0 -1.3,0M172.46,174.43a0.65,0.65 0 1,0 1.3,0a0.65,0.65 0 1,0 -1.3,0M150.74,153.77a0.65,0.65 0 1,0 1.3,0a0.65,0.65 0 1,0 -1.3,0M159.6,170.1a0.65,0.65 0 1,0 1.3,0a0.65,0.65 0 1,0 -1.3,0M174.33,155.22a0.65,0.65 0 1,0 1.3,0a0.65,0.65 0 1,0 -1.3,0M152.65,153.99a0.65,0.65 0 1,0 1.3,0a0.65,0.65 0 1,0 -1.3,0M145.3,157.18a0.65,0.65 0 1,0 1.3,0a0.65,0.65 0 1,0 -1.3,0M175.16,162.3a0.65,0.65 0 1,0 1.3,0a0.65,0.65 0 1,0 -1.3,0M175.29,166.85a0.65,0.65 0 1,0 1.3,0a0.65,0.65 0 1,0 -1.3,0M167.57,153.06a0.65,0.65 0 1,0 1.3,0a0.65,0.65 0 1,0 -1.3,0M167.72,152.58a0.65,0.65 0 1,0 1.3,0a0.65,0.65 0 1,0 -1.3,0M175.18,161.3a0.65,0.65 0 1,0 1.3,0a0.65,0.65 0 1,0 -1.3,0M153.49,162.02a0.65,0.65 0 1,0 1.3,0a0.65,0.65 0 1,0 -1.3,0M162.49,169.97a0.65,0.65 0 1,0 1.3,0a0.65,0.65 0 1,0 -1.3,0M152.74,151.22a0.65,0.65 0 1,0 1.3,0a0.65,0.65 0 1,0 -1.3,0M173.71,156.26a0.65,0.65 0 1,0 1.3,0a0.65,0.65 0 1,0 -1.3,0M174.72,170.6a0.65,0.65 0 1,0 1.3,0a0.65,0.65 0 1,0 -1.3,0M149.81,160.7a0.65,0.65 0 1,0 1.3,0a0.65,0.65 0 1,0 -1.3,0M160.09,168.4a0.65,0.65 0 1,0 1.3,0a0.65,0.65 0 1,0 -1.3,0M164.3,173.74a0.65,0.65 0 1,0 1.3,0a0.65,0.65 0 1,0 -1.3,0M176.08,161.73a0.65,0.65 0 1,0 1.3,0a0.65,0.65 0 1,0 -1.3,0M171.7,155.49a0.65,0.65 0 1,0 1.3,0a0.65,0.65 0 1,0 -1.3,0M166.85,153.01a0.65,0.65 0 1,0 1.3,0a0.65,0.65 0 1,0 -1.3,0M147,158.77a0.65,0.65 0 1,0 1.3,0a0.65,0.65 0 1,0 -1.3,0M149.03,152.17a0.65,0.65 0 1,0 1.3,0a0.65,0.65 0 1,0 -1.3,0M173.01,155.44a0.65,0.65 0 1,0 1.3,0a0.65,0.65 0 1,0 -1.3,0M157.43,152.21a0.65,0.65 0 1,0 1.3,0a0.65,0.65 0 1,0 -1.3,0M156.27,165.43a0.65,0.65 0 1,0 1.3,0a0.65,0.65 0 1,0 -1.3,0M170.12,174.25a0.65,0.65 0 1,0 1.3,0a0.65,0.65 0 1,0 -1.3,0M169.56,176.21a0.65,0.65 0 1,0 1.3,0a0.65,0.65 0 1,0 -1.3,0M166.7,151.5a0.65,0.65 0 1,0 1.3,0a0.65,0.65 0 1,0 -1.3,0M158.91,168.66a0.65,0.65 0 1,0 1.3,0a0.65,0.65 0 1,0 -1.3,0M145.9,156.96a0.65,0.65 0 1,0 1.3,0a0.65,0.65 0 1,0 -1.3,0M174.76,170.31a0.65,0.65 0 1,0 1.3,0a0.65,0.65 0 1,0 -1.3,0M145.23,154.85a0.65,0.65 0 1,0 1.3,0a0.65,0.65 0 1,0 -1.3,0M157.79,169.41a0.65,0.65 0 1,0 1.3,0a0.65,0.65 0 1,0 -1.3,0M164.59,152.42a0.65,0.65 0 1,0 1.3,0a0.65,0.65 0 1,0 -1.3,0M148.15,154.16a0.65,0.65 0 1,0 1.3,0a0.65,0.65 0 1,0 -1.3,0M174.09,168.54a0.65,0.65 0 1,0 1.3,0a0.65,0.65 0 1,0 -1.3,0M148.08,159.55a0.65,0.65 0 1,0 1.3,0a0.65,0.65 0 1,0 -1.3,0M160.16,150.58a0.65,0.65 0 1,0 1.3,0a0.65,0.65 0 1,0 -1.3,0M160.56,152.88a0.65,0.65 0 1,0 1.3,0a0.65,0.65 0 1,0 -1.3,0M166.84,152.78a0.65,0.65 0 1,0 1.3,0a0.65,0.65 0 1,0 -1.3,0M166.53,176.82a0.65,0.65 0 1,0 1.3,0a0.65,0.65 0 1,0 -1.3,0M173.95,166.96a0.65,0.65 0 1,0 1.3,0a0.65,0.65 0 1,0 -1.3,0M154.42,152.36a0.65,0.65 0 1,0 1.3,0a0.65,0.65 0 1,0 -1.3,0M165.31,176.14a0.65,0.65 0 1,0 1.3,0a0.65,0.65 0 1,0 -1.3,0M149.61,152.73a0.65,0.65 0 1,0 1.3,0a0.65,0.65 0 1,0 -1.3,0" fill="#00B8E7"/>
<polygon points="134.2,172 136,166 139,160.5 143,156 146.5,155.5 149,158.5 153,161.5 157.5,164.5 159.8,168 160.5,172 160,176 156,180 150,181.5 143,181.3 137,179.5 134.5,176.5" fill="#00BFC4" stroke="#00BFC4" stroke-width="0.6" stroke-linejoin="round"/>
<path d="M136.41,177.71a0.65,0.65 0 1,0 1.3,0a0.65,0.65 0 1,0 -1.3,0M142.26,156.8a0.65,0.65 0 1,0 1.3,0a0.65,0.65 0 1,0 -1.3,0M156.31,164.69a0.65,0.65 0 1,0 1.3,0a0.65,0.65 0 1,0 -1.3,0M146.99,180.85a0.65,0.65 0 1,0 1.3,0a0.65,0.65 0 1,0 -1.3,0M133.82,173.61a0.65,0.65 0 1,0 1.3,0a0.65,0.65 0 1,0 -1.3,0M139.77,158.86a0.65,0.65 0 1,0 1.3,0a0.65,0.65 0 1,0 -1.3,0M145.75,153.84a0.65,0.65 0 1,0 1.3,0a0.65,0.65 0 1,0 -1.3,0M146.07,157.28a0.65,0.65 0 1,0 1.3,0a0.65,0.65 0 1,0 -1.3,0M137.59,180.82a0.65,0.65 0 1,0 1.3,0a0.65,0.65 0 1,0 -1.3,0M157.9,176.66a0.65,0.65 0 1,0 1.3,0a0.65,0.65 0 1,0 -1.3,0M137.98,181.66a0.65,0.65 0 1,0 1.3,0a0.65,0.65 0 1,0 -1.3,0M151.59,158.92a0.65,0.65 0 1,0 1.3,0a0.65,0.65 0 1,0 -1.3,0M141.9,156.46a0.65,0.65 0 1,0 1.3,0a0.65,0.65 0 1,0 -1.3,0M147.81,157.39a0.65,0.65 0 1,0 1.3,0a0.65,0.65 0 1,0 -1.3,0M135.67,174.22a0.65,0.65 0 1,0 1.3,0a0.65,0.65 0 1,0 -1.3,0M138.25,160.21a0.65,0.65 0 1,0 1.3,0a0.65,0.65 0 1,0 -1.3,0M139.08,159.14a0.65,0.65 0 1,0 1.3,0a0.65,0.65 0 1,0 -1.3,0M151.13,158.95a0.65,0.65 0 1,0 1.3,0a0.65,0.65 0 1,0 -1.3,0M137.82,179.84a0.65,0.65 0 1,0 1.3,0a0.65,0.65 0 1,0 -1.3,0M143.44,154.57a0.65,0.65 0 1,0 1.3,0a0.65,0.65 0 1,0 -1.3,0M133.79,169a0.65,0.65 0 1,0 1.3,0a0.65,0.65 0 1,0 -1.3,0M156.15,164.05a0.65,0.65 0 1,0 1.3,0a0.65,0.65 0 1,0 -1.3,0M132.85,174.45a0.65,0.65 0 1,0 1.3,0a0.65,0.65 0 1,0 -1.3,0M136.61,162.84a0.65,0.65 0 1,0 1.3,0a0.65,0.65 0 1,0 -1.3,0M156.46,165.08a0.65,0.65 0 1,0 1.3,0a0.65,0.65 0 1,0 -1.3,0M138.1,159.77a0.65,0.65 0 1,0 1.3,0a0.65,0.65 0 1,0 -1.3,0M136.13,164.23a0.65,0.65 0 1,0 1.3,0a0.65,0.65 0 1,0 -1.3,0M134.88,178.68a0.65,0.65 0 1,0 1.3,0a0.65,0.65 0 1,0 -1.3,0M134.81,173.69a0.65,0.65 0 1,0 1.3,0a0.65,0.65 0 1,0 -1.3,0M146.39,156.4a0.65,0.65 0 1,0 1.3,0a0.65,0.65 0 1,0 -1.3,0M136.21,166.86a0.65,0.65 0 1,0 1.3,0a0.65,0.65 0 1,0 -1.3,0M153.68,162.62a0.65,0.65 0 1,0 1.3,0a0.65,0.65 0 1,0 -1.3,0M133.3,169.95a0.65,0.65 0 1,0 1.3,0a0.65,0.65 0 1,0 -1.3,0M158.53,171.65a0.65,0.65 0 1,0 1.3,0a0.65,0.65 0 1,0 -1.3,0M134.65,172.43a0.65,0.65 0 1,0 1.3,0a0.65,0.65 0 1,0 -1.3,0M153.48,163.37a0.65,0.65 0 1,0 1.3,0a0.65,0.65 0 1,0 -1.3,0M133.02,174.8a0.65,0.65 0 1,0 1.3,0a0.65,0.65 0 1,0 -1.3,0M156.61,165.53a0.65,0.65 0 1,0 1.3,0a0.65,0.65 0 1,0 -1.3,0M132.07,170.3a0.65,0.65 0 1,0 1.3,0a0.65,0.65 0 1,0 -1.3,0M144.04,155.1a0.65,0.65 0 1,0 1.3,0a0.65,0.65 0 1,0 -1.3,0M143.72,156.25a0.65,0.65 0 1,0 1.3,0a0.65,0.65 0 1,0 -1.3,0M141.06,178.87a0.65,0.65 0 1,0 1.3,0a0.65,0.65 0 1,0 -1.3,0M134.45,167.35a0.65,0.65 0 1,0 1.3,0a0.65,0.65 0 1,0 -1.3,0M155.46,178.9a0.65,0.65 0 1,0 1.3,0a0.65,0.65 0 1,0 -1.3,0M135.2,174.34a0.65,0.65 0 1,0 1.3,0a0.65,0.65 0 1,0 -1.3,0M138.62,180.47a0.65,0.65 0 1,0 1.3,0a0.65,0.65 0 1,0 -1.3,0M133.7,173.69a0.65,0.65 0 1,0 1.3,0a0.65,0.65 0 1,0 -1.3,0M147.74,182.46a0.65,0.65 0 1,0 1.3,0a0.65,0.65 0 1,0 -1.3,0M152.26,162.05a0.65,0.65 0 1,0 1.3,0a0.65,0.65 0 1,0 -1.3,0M153.5,181.46a0.65,0.65 0 1,0 1.3,0a0.65,0.65 0 1,0 -1.3,0M160.06,173.22a0.65,0.65 0 1,0 1.3,0a0.65,0.65 0 1,0 -1.3,0M146.4,154.99a0.65,0.65 0 1,0 1.3,0a0.65,0.65 0 1,0 -1.3,0M149.51,181.07a0.65,0.65 0 1,0 1.3,0a0.65,0.65 0 1,0 -1.3,0M143.4,157.88a0.65,0.65 0 1,0 1.3,0a0.65,0.65 0 1,0 -1.3,0M158.56,170.67a0.65,0.65 0 1,0 1.3,0a0.65,0.65 0 1,0 -1.3,0M143.05,181.87a0.65,0.65 0 1,0 1.3,0a0.65,0.65 0 1,0 -1.3,0M141.07,181.61a0.65,0.65 0 1,0 1.3,0a0.65,0.65 0 1,0 -1.3,0M143.3,180.04a0.65,0.65 0 1,0 1.3,0a0.65,0.65 0 1,0 -1.3,0M133.32,169.75a0.65,0.65 0 1,0 1.3,0a0.65,0.65 0 1,0 -1.3,0M143.02,181.67a0.65,0.65 0 1,0 1.3,0a0.65,0.65 0 1,0 -1.3,0M145.13,156.21a0.65,0.65 0 1,0 1.3,0a0.65,0.65 0 1,0 -1.3,0M142.87,181.21a0.65,0.65 0 1,0 1.3,0a0.65,0.65 0 1,0 -1.3,0M133.39,167.02a0.65,0.65 0 1,0 1.3,0a0.65,0.65 0 1,0 -1.3,0M151.66,181a0.65,0.65 0 1,0 1.3,0a0.65,0.65 0 1,0 -1.3,0M144.28,180.84a0.65,0.65 0 1,0 1.3,0a0.65,0.65 0 1,0 -1.3,0M153.09,181.19a0.65,0.65 0 1,0 1.3,0a0.65,0.65 0 1,0 -1.3,0M142.76,156.46a0.65,0.65 0 1,0 1.3,0a0.65,0.65 0 1,0 -1.3,0M153.23,161.76a0.65,0.65 0 1,0 1.3,0a0.65,0.65 0 1,0 -1.3,0M160.1,174.44a0.65,0.65 0 1,0 1.3,0a0.65,0.65 0 1,0 -1.3,0M150.67,181.93a0.65,0.65 0 1,0 1.3,0a0.65,0.65 0 1,0 -1.3,0M143.86,155.47a0.65,0.65 0 1,0 1.3,0a0.65,0.65 0 1,0 -1.3,0M157.18,178.09a0.65,0.65 0 1,0 1.3,0a0.65,0.65 0 1,0 -1.3,0M155.83,162.4a0.65,0.65 0 1,0 1.3,0a0.65,0.65 0 1,0 -1.3,0M152.93,161.5a0.65,0.65 0 1,0 1.3,0a0.65,0.65 0 1,0 -1.3,0M151.53,160.28a0.65,0.65 0 1,0 1.3,0a0.65,0.65 0 1,0 -1.3,0M153.48,161.59a0.65,0.65 0 1,0 1.3,0a0.65,0.65 0 1,0 -1.3,0M149.84,161.06a0.65,0.65 0 1,0 1.3,0a0.65,0.65 0 1,0 -1.3,0M135.78,180.02a0.65,0.65 0 1,0 1.3,0a0.65,0.65 0 1,0 -1.3,0M150.36,181.97a0.65,0.65 0 1,0 1.3,0a0.65,0.65 0 1,0 -1.3,0M150.59,159.81a0.65,0.65 0 1,0 1.3,0a0.65,0.65 0 1,0 -1.3,0" fill="#00BFC4"/>
<path d="M147.79,160.68a0.55,0.55 0 1,0 1.1,0a0.55,0.55 0 1,0 -1.1,0M144,159.09a0.55,0.55 0 1,0 1.1,0a0.55,0.55 0 1,0 -1.1,0M150.48,158.55a0.55,0.55 0 1,0 1.1,0a0.55,0.55 0 1,0 -1.1,0M147.66,157.77a0.55,0.55 0 1,0 1.1,0a0.55,0.55 0 1,0 -1.1,0M144.87,159.9a0.55,0.55 0 1,0 1.1,0a0.55,0.55 0 1,0 -1.1,0M147.53,160.15a0.55,0.55 0 1,0 1.1,0a0.55,0.55 0 1,0 -1.1,0M152.94,157.63a0.55,0.55 0 1,0 1.1,0a0.55,0.55 0 1,0 -1.1,0M146.86,159.13a0.55,0.55 0 1,0 1.1,0a0.55,0.55 0 1,0 -1.1,0M152.47,156.34a0.55,0.55 0 1,0 1.1,0a0.55,0.55 0 1,0 -1.1,0M150.27,156.98a0.55,0.55 0 1,0 1.1,0a0.55,0.55 0 1,0 -1.1,0M154.83,159.76a0.55,0.55 0 1,0 1.1,0a0.55,0.55 0 1,0 -1.1,0M145.6,157.86a0.55,0.55 0 1,0 1.1,0a0.55,0.55 0 1,0 -1.1,0M150.64,158.01a0.55,0.55 0 1,0 1.1,0a0.55,0.55 0 1,0 -1.1,0M150.67,159.79a0.55,0.55 0 1,0 1.1,0a0.55,0.55 0 1,0 -1.1,0M151.02,158.16a0.55,0.55 0 1,0 1.1,0a0.55,0.55 0 1,0 -1.1,0M154.72,160.76a0.55,0.55 0 1,0 1.1,0a0.55,0.55 0 1,0 -1.1,0M149.52,158.74a0.55,0.55 0 1,0 1.1,0a0.55,0.55 0 1,0 -1.1,0M148.46,156.14a0.55,0.55 0 1,0 1.1,0a0.55,0.55 0 1,0 -1.1,0M149.45,159.07a0.55,0.55 0 1,0 1.1,0a0.55,0.55 0 1,0 -1.1,0M149.32,157.06a0.55,0.55 0 1,0 1.1,0a0.55,0.55 0 1,0 -1.1,0M141.28,155.44a0.55,0.55 0 1,0 1.1,0a0.55,0.55 0 1,0 -1.1,0M152.93,155.3a0.55,0.55 0 1,0 1.1,0a0.55,0.55 0 1,0 -1.1,0M152.1,160.43a0.55,0.55 0 1,0 1.1,0a0.55,0.55 0 1,0 -1.1,0M150.12,158.97a0.55,0.55 0 1,0 1.1,0a0.55,0.55 0 1,0 -1.1,0M152.85,158.89a0.55,0.55 0 1,0 1.1,0a0.55,0.55 0 1,0 -1.1,0M150.25,160.73a0.55,0.55 0 1,0 1.1,0a0.55,0.55 0 1,0 -1.1,0M150.26,162.96a0.55,0.55 0 1,0 1.1,0a0.55,0.55 0 1,0 -1.1,0M147.08,158.18a0.55,0.55 0 1,0 1.1,0a0.55,0.55 0 1,0 -1.1,0M149.6,159.31a0.55,0.55 0 1,0 1.1,0a0.55,0.55 0 1,0 -1.1,0M148.43,162.78a0.55,0.55 0 1,0 1.1,0a0.55,0.55 0 1,0 -1.1,0M152.35,155.27a0.55,0.55 0 1,0 1.1,0a0.55,0.55 0 1,0 -1.1,0M150.36,160.34a0.55,0.55 0 1,0 1.1,0a0.55,0.55 0 1,0 -1.1,0M153.97,159.8a0.55,0.55 0 1,0 1.1,0a0.55,0.55 0 1,0 -1.1,0M148.1,160.59a0.55,0.55 0 1,0 1.1,0a0.55,0.55 0 1,0 -1.1,0M146.49,159.18a0.55,0.55 0 1,0 1.1,0a0.55,0.55 0 1,0 -1.1,0M146.86,161.69a0.55,0.55 0 1,0 1.1,0a0.55,0.55 0 1,0 -1.1,0M152.52,163.27a0.55,0.55 0 1,0 1.1,0a0.55,0.55 0 1,0 -1.1,0M149.54,158.78a0.55,0.55 0 1,0 1.1,0a0.55,0.55 0 1,0 -1.1,0M149,161.27a0.55,0.55 0 1,0 1.1,0a0.55,0.55 0 1,0 -1.1,0M147.2,160.4a0.55,0.55 0 1,0 1.1,0a0.55,0.55 0 1,0 -1.1,0" fill="#00B8E7"/>
<path d="M150.38,162.43a0.55,0.55 0 1,0 1.1,0a0.55,0.55 0 1,0 -1.1,0M152.16,159.41a0.55,0.55 0 1,0 1.1,0a0.55,0.55 0 1,0 -1.1,0M150.12,157.51a0.55,0.55 0 1,0 1.1,0a0.55,0.55 0 1,0 -1.1,0M148.68,159.8a0.55,0.55 0 1,0 1.1,0a0.55,0.55 0 1,0 -1.1,0M154.44,160.14a0.55,0.55 0 1,0 1.1,0a0.55,0.55 0 1,0 -1.1,0M152.2,160.52a0.55,0.55 0 1,0 1.1,0a0.55,0.55 0 1,0 -1.1,0M147.53,162.16a0.55,0.55 0 1,0 1.1,0a0.55,0.55 0 1,0 -1.1,0M157.15,162.21a0.55,0.55 0 1,0 1.1,0a0.55,0.55 0 1,0 -1.1,0M155.08,162.18a0.55,0.55 0 1,0 1.1,0a0.55,0.55 0 1,0 -1.1,0M154.33,165.09a0.55,0.55 0 1,0 1.1,0a0.55,0.55 0 1,0 -1.1,0M146.45,159.66a0.55,0.55 0 1,0 1.1,0a0.55,0.55 0 1,0 -1.1,0M146.96,161.03a0.55,0.55 0 1,0 1.1,0a0.55,0.55 0 1,0 -1.1,0M150.31,159.51a0.55,0.55 0 1,0 1.1,0a0.55,0.55 0 1,0 -1.1,0M152.84,164.7a0.55,0.55 0 1,0 1.1,0a0.55,0.55 0 1,0 -1.1,0M155.54,164.55a0.55,0.55 0 1,0 1.1,0a0.55,0.55 0 1,0 -1.1,0M151.82,161.89a0.55,0.55 0 1,0 1.1,0a0.55,0.55 0 1,0 -1.1,0M155.79,162.97a0.55,0.55 0 1,0 1.1,0a0.55,0.55 0 1,0 -1.1,0M154.41,160.37a0.55,0.55 0 1,0 1.1,0a0.55,0.55 0 1,0 -1.1,0M150.2,159.7a0.55,0.55 0 1,0 1.1,0a0.55,0.55 0 1,0 -1.1,0M155.24,159.3a0.55,0.55 0 1,0 1.1,0a0.55,0.55 0 1,0 -1.1,0M152.03,161.56a0.55,0.55 0 1,0 1.1,0a0.55,0.55 0 1,0 -1.1,0M151.16,160.45a0.55,0.55 0 1,0 1.1,0a0.55,0.55 0 1,0 -1.1,0M152.74,159.57a0.55,0.55 0 1,0 1.1,0a0.55,0.55 0 1,0 -1.1,0M151.88,163.63a0.55,0.55 0 1,0 1.1,0a0.55,0.55 0 1,0 -1.1,0M149.84,163.33a0.55,0.55 0 1,0 1.1,0a0.55,0.55 0 1,0 -1.1,0" fill="#00BFC4"/>
<polygon points="160.5,163.5 163.5,161.3 166.5,161.8 168.2,164.5 167.8,168.5 165,170.2 162,169.2 160.3,166.5" fill="#fff"/>
<path d="M166.5,170.22a0.5,0.5 0 1,0 1,0a0.5,0.5 0 1,0 -1,0M163.12,169.95a0.5,0.5 0 1,0 1,0a0.5,0.5 0 1,0 -1,0M166.16,169.3a0.5,0.5 0 1,0 1,0a0.5,0.5 0 1,0 -1,0M166.08,165.18a0.5,0.5 0 1,0 1,0a0.5,0.5 0 1,0 -1,0M166.03,166.02a0.5,0.5 0 1,0 1,0a0.5,0.5 0 1,0 -1,0M163.78,164.07a0.5,0.5 0 1,0 1,0a0.5,0.5 0 1,0 -1,0M163.82,165.17a0.5,0.5 0 1,0 1,0a0.5,0.5 0 1,0 -1,0M161.98,166.43a0.5,0.5 0 1,0 1,0a0.5,0.5 0 1,0 -1,0M162.32,167.17a0.5,0.5 0 1,0 1,0a0.5,0.5 0 1,0 -1,0M166.76,168.71a0.5,0.5 0 1,0 1,0a0.5,0.5 0 1,0 -1,0M167.11,169.59a0.5,0.5 0 1,0 1,0a0.5,0.5 0 1,0 -1,0M168.29,165.35a0.5,0.5 0 1,0 1,0a0.5,0.5 0 1,0 -1,0M163.19,165.15a0.5,0.5 0 1,0 1,0a0.5,0.5 0 1,0 -1,0M162.96,169.04a0.5,0.5 0 1,0 1,0a0.5,0.5 0 1,0 -1,0M160.81,165.63a0.5,0.5 0 1,0 1,0a0.5,0.5 0 1,0 -1,0M166.04,167.15a0.5,0.5 0 1,0 1,0a0.5,0.5 0 1,0 -1,0M165.92,162.85a0.5,0.5 0 1,0 1,0a0.5,0.5 0 1,0 -1,0M163.83,165.22a0.5,0.5 0 1,0 1,0a0.5,0.5 0 1,0 -1,0" fill="#00B8E7"/>
<path d="M161.11,169.22a0.5,0.5 0 1,0 1,0a0.5,0.5 0 1,0 -1,0M162.31,165.59a0.5,0.5 0 1,0 1,0a0.5,0.5 0 1,0 -1,0M160.89,172.5a0.5,0.5 0 1,0 1,0a0.5,0.5 0 1,0 -1,0M162.09,168.55a0.5,0.5 0 1,0 1,0a0.5,0.5 0 1,0 -1,0M161.58,167.63a0.5,0.5 0 1,0 1,0a0.5,0.5 0 1,0 -1,0M162.15,167a0.5,0.5 0 1,0 1,0a0.5,0.5 0 1,0 -1,0M161.53,168.56a0.5,0.5 0 1,0 1,0a0.5,0.5 0 1,0 -1,0M159.64,168.47a0.5,0.5 0 1,0 1,0a0.5,0.5 0 1,0 -1,0" fill="#8494FF"/>
<polygon points="163,170 166,169.5 168,172 168.5,175.5 166,177 163.5,175.5" fill="#00A9FF" stroke="#00A9FF" stroke-width="0.6" stroke-linejoin="round"/>
<path d="M163.22,176.22a0.65,0.65 0 1,0 1.3,0a0.65,0.65 0 1,0 -1.3,0M167.94,172.33a0.65,0.65 0 1,0 1.3,0a0.65,0.65 0 1,0 -1.3,0M163.51,169.39a0.65,0.65 0 1,0 1.3,0a0.65,0.65 0 1,0 -1.3,0M165.32,176.98a0.65,0.65 0 1,0 1.3,0a0.65,0.65 0 1,0 -1.3,0M167.52,176.46a0.65,0.65 0 1,0 1.3,0a0.65,0.65 0 1,0 -1.3,0M164.69,169.32a0.65,0.65 0 1,0 1.3,0a0.65,0.65 0 1,0 -1.3,0M167.43,173.4a0.65,0.65 0 1,0 1.3,0a0.65,0.65 0 1,0 -1.3,0M166.11,169.76a0.65,0.65 0 1,0 1.3,0a0.65,0.65 0 1,0 -1.3,0M163.05,172.91a0.65,0.65 0 1,0 1.3,0a0.65,0.65 0 1,0 -1.3,0M166.27,170.16a0.65,0.65 0 1,0 1.3,0a0.65,0.65 0 1,0 -1.3,0M164.17,169.61a0.65,0.65 0 1,0 1.3,0a0.65,0.65 0 1,0 -1.3,0M164.51,169.65a0.65,0.65 0 1,0 1.3,0a0.65,0.65 0 1,0 -1.3,0M166.05,176.27a0.65,0.65 0 1,0 1.3,0a0.65,0.65 0 1,0 -1.3,0M165.78,170.58a0.65,0.65 0 1,0 1.3,0a0.65,0.65 0 1,0 -1.3,0M165.06,170.57a0.65,0.65 0 1,0 1.3,0a0.65,0.65 0 1,0 -1.3,0M167.21,175.87a0.65,0.65 0 1,0 1.3,0a0.65,0.65 0 1,0 -1.3,0M161.58,171.26a0.65,0.65 0 1,0 1.3,0a0.65,0.65 0 1,0 -1.3,0M165.76,176.34a0.65,0.65 0 1,0 1.3,0a0.65,0.65 0 1,0 -1.3,0M163.05,175.58a0.65,0.65 0 1,0 1.3,0a0.65,0.65 0 1,0 -1.3,0M162.52,170.27a0.65,0.65 0 1,0 1.3,0a0.65,0.65 0 1,0 -1.3,0" fill="#00A9FF"/>
<polygon points="159,176 162,175.5 165,177 166.5,180 163,181.3 160,180.5" fill="#8494FF" stroke="#8494FF" stroke-width="0.6" stroke-linejoin="round"/>
<path d="M164.33,176.77a0.65,0.65 0 1,0 1.3,0a0.65,0.65 0 1,0 -1.3,0M163.56,181.54a0.65,0.65 0 1,0 1.3,0a0.65,0.65 0 1,0 -1.3,0M159.3,180.3a0.65,0.65 0 1,0 1.3,0a0.65,0.65 0 1,0 -1.3,0M162.13,175.64a0.65,0.65 0 1,0 1.3,0a0.65,0.65 0 1,0 -1.3,0M158.65,175.34a0.65,0.65 0 1,0 1.3,0a0.65,0.65 0 1,0 -1.3,0M158.7,180.6a0.65,0.65 0 1,0 1.3,0a0.65,0.65 0 1,0 -1.3,0M165.88,179.98a0.65,0.65 0 1,0 1.3,0a0.65,0.65 0 1,0 -1.3,0M158.19,177.5a0.65,0.65 0 1,0 1.3,0a0.65,0.65 0 1,0 -1.3,0M160.22,176.51a0.65,0.65 0 1,0 1.3,0a0.65,0.65 0 1,0 -1.3,0M161.74,181.44a0.65,0.65 0 1,0 1.3,0a0.65,0.65 0 1,0 -1.3,0M161.4,175.84a0.65,0.65 0 1,0 1.3,0a0.65,0.65 0 1,0 -1.3,0M166.33,177.3a0.65,0.65 0 1,0 1.3,0a0.65,0.65 0 1,0 -1.3,0M158.73,180.39a0.65,0.65 0 1,0 1.3,0a0.65,0.65 0 1,0 -1.3,0M160.12,180.06a0.65,0.65 0 1,0 1.3,0a0.65,0.65 0 1,0 -1.3,0M162.56,181.96a0.65,0.65 0 1,0 1.3,0a0.65,0.65 0 1,0 -1.3,0M159.11,178.98a0.65,0.65 0 1,0 1.3,0a0.65,0.65 0 1,0 -1.3,0M160.51,181.1a0.65,0.65 0 1,0 1.3,0a0.65,0.65 0 1,0 -1.3,0M158.12,175.98a0.65,0.65 0 1,0 1.3,0a0.65,0.65 0 1,0 -1.3,0M161.73,174.49a0.65,0.65 0 1,0 1.3,0a0.65,0.65 0 1,0 -1.3,0M158.76,177.03a0.65,0.65 0 1,0 1.3,0a0.65,0.65 0 1,0 -1.3,0" fill="#8494FF"/>
<path d="M161.15,167.21a0.5,0.5 0 1,0 1,0a0.5,0.5 0 1,0 -1,0M157.93,173.21a0.5,0.5 0 1,0 1,0a0.5,0.5 0 1,0 -1,0M161.15,165.07a0.5,0.5 0 1,0 1,0a0.5,0.5 0 1,0 -1,0M159.34,178.28a0.5,0.5 0 1,0 1,0a0.5,0.5 0 1,0 -1,0M156.95,169.57a0.5,0.5 0 1,0 1,0a0.5,0.5 0 1,0 -1,0M163.44,176.25a0.5,0.5 0 1,0 1,0a0.5,0.5 0 1,0 -1,0M160.77,168.78a0.5,0.5 0 1,0 1,0a0.5,0.5 0 1,0 -1,0M161.07,169.15a0.5,0.5 0 1,0 1,0a0.5,0.5 0 1,0 -1,0M161.03,174.14a0.5,0.5 0 1,0 1,0a0.5,0.5 0 1,0 -1,0M160.65,174.48a0.5,0.5 0 1,0 1,0a0.5,0.5 0 1,0 -1,0M162.41,168.51a0.5,0.5 0 1,0 1,0a0.5,0.5 0 1,0 -1,0M160.13,168.1a0.5,0.5 0 1,0 1,0a0.5,0.5 0 1,0 -1,0M161.06,165.79a0.5,0.5 0 1,0 1,0a0.5,0.5 0 1,0 -1,0M159.04,164.47a0.5,0.5 0 1,0 1,0a0.5,0.5 0 1,0 -1,0M161.2,168.28a0.5,0.5 0 1,0 1,0a0.5,0.5 0 1,0 -1,0" fill="#8494FF"/>
<polygon points="80.3,42.3 81.8,38.8 83.5,35.2 85.3,33.3 88.5,33.8 92.2,35 92.3,36.5 89,36.8 86.5,38.2 84.3,41.2 82.2,43.5" fill="#ED68ED" stroke="#ED68ED" stroke-width="0.6" stroke-linejoin="round"/>
<path d="M80.28,38.78a0.65,0.65 0 1,0 1.3,0a0.65,0.65 0 1,0 -1.3,0M85.09,32.96a0.65,0.65 0 1,0 1.3,0a0.65,0.65 0 1,0 -1.3,0M85.26,39.81a0.65,0.65 0 1,0 1.3,0a0.65,0.65 0 1,0 -1.3,0M80.57,42.37a0.65,0.65 0 1,0 1.3,0a0.65,0.65 0 1,0 -1.3,0M88.09,33.68a0.65,0.65 0 1,0 1.3,0a0.65,0.65 0 1,0 -1.3,0M85.84,33.92a0.65,0.65 0 1,0 1.3,0a0.65,0.65 0 1,0 -1.3,0M83.33,40.94a0.65,0.65 0 1,0 1.3,0a0.65,0.65 0 1,0 -1.3,0M80.74,40.3a0.65,0.65 0 1,0 1.3,0a0.65,0.65 0 1,0 -1.3,0M88.81,33.5a0.65,0.65 0 1,0 1.3,0a0.65,0.65 0 1,0 -1.3,0M81.23,38.37a0.65,0.65 0 1,0 1.3,0a0.65,0.65 0 1,0 -1.3,0M84.23,40.99a0.65,0.65 0 1,0 1.3,0a0.65,0.65 0 1,0 -1.3,0M80.65,43.35a0.65,0.65 0 1,0 1.3,0a0.65,0.65 0 1,0 -1.3,0M81.77,41.69a0.65,0.65 0 1,0 1.3,0a0.65,0.65 0 1,0 -1.3,0M86.48,33.78a0.65,0.65 0 1,0 1.3,0a0.65,0.65 0 1,0 -1.3,0M91.73,34.93a0.65,0.65 0 1,0 1.3,0a0.65,0.65 0 1,0 -1.3,0M84.24,41.36a0.65,0.65 0 1,0 1.3,0a0.65,0.65 0 1,0 -1.3,0M80.2,43.36a0.65,0.65 0 1,0 1.3,0a0.65,0.65 0 1,0 -1.3,0M89.84,34.05a0.65,0.65 0 1,0 1.3,0a0.65,0.65 0 1,0 -1.3,0M86.82,33.93a0.65,0.65 0 1,0 1.3,0a0.65,0.65 0 1,0 -1.3,0M82.74,41.63a0.65,0.65 0 1,0 1.3,0a0.65,0.65 0 1,0 -1.3,0M82.27,42.89a0.65,0.65 0 1,0 1.3,0a0.65,0.65 0 1,0 -1.3,0M80.29,39.53a0.65,0.65 0 1,0 1.3,0a0.65,0.65 0 1,0 -1.3,0M80.4,43.63a0.65,0.65 0 1,0 1.3,0a0.65,0.65 0 1,0 -1.3,0M88.59,37.17a0.65,0.65 0 1,0 1.3,0a0.65,0.65 0 1,0 -1.3,0M88.1,36.89a0.65,0.65 0 1,0 1.3,0a0.65,0.65 0 1,0 -1.3,0" fill="#ED68ED"/>
<polygon points="80.8,41.5 82.2,40 83.5,40.8 82.5,43" fill="#FF61CC" stroke="#FF61CC" stroke-width="0.6" stroke-linejoin="round"/>
<path d="M82.5,40.48a0.65,0.65 0 1,0 1.3,0a0.65,0.65 0 1,0 -1.3,0M80.97,41.94a0.65,0.65 0 1,0 1.3,0a0.65,0.65 0 1,0 -1.3,0M82.81,40.07a0.65,0.65 0 1,0 1.3,0a0.65,0.65 0 1,0 -1.3,0M81.83,42.88a0.65,0.65 0 1,0 1.3,0a0.65,0.65 0 1,0 -1.3,0M82.74,41.08a0.65,0.65 0 1,0 1.3,0a0.65,0.65 0 1,0 -1.3,0M81.15,42.51a0.65,0.65 0 1,0 1.3,0a0.65,0.65 0 1,0 -1.3,0M82.74,42a0.65,0.65 0 1,0 1.3,0a0.65,0.65 0 1,0 -1.3,0M81.51,42.63a0.65,0.65 0 1,0 1.3,0a0.65,0.65 0 1,0 -1.3,0" fill="#FF61CC"/>
<polygon points="95.2,36.6 100,36 105,35.3 109,34.4 112.2,35.5 112.6,37.3 109,38.6 104,37.8 99,37.5 95.4,37.4" fill="#C77CFF" stroke="#C77CFF" stroke-width="0.6" stroke-linejoin="round"/>
<path d="M102.67,38.38a0.65,0.65 0 1,0 1.3,0a0.65,0.65 0 1,0 -1.3,0M110.78,34.89a0.65,0.65 0 1,0 1.3,0a0.65,0.65 0 1,0 -1.3,0M101.02,37.24a0.65,0.65 0 1,0 1.3,0a0.65,0.65 0 1,0 -1.3,0M95.12,36.67a0.65,0.65 0 1,0 1.3,0a0.65,0.65 0 1,0 -1.3,0M105.21,35.74a0.65,0.65 0 1,0 1.3,0a0.65,0.65 0 1,0 -1.3,0M100.58,37.18a0.65,0.65 0 1,0 1.3,0a0.65,0.65 0 1,0 -1.3,0M98.74,35.84a0.65,0.65 0 1,0 1.3,0a0.65,0.65 0 1,0 -1.3,0M100.57,35.52a0.65,0.65 0 1,0 1.3,0a0.65,0.65 0 1,0 -1.3,0M106.53,35.04a0.65,0.65 0 1,0 1.3,0a0.65,0.65 0 1,0 -1.3,0M109.97,34.26a0.65,0.65 0 1,0 1.3,0a0.65,0.65 0 1,0 -1.3,0M101.08,36.81a0.65,0.65 0 1,0 1.3,0a0.65,0.65 0 1,0 -1.3,0M101.66,36.13a0.65,0.65 0 1,0 1.3,0a0.65,0.65 0 1,0 -1.3,0M98.56,36.59a0.65,0.65 0 1,0 1.3,0a0.65,0.65 0 1,0 -1.3,0M109.19,34.47a0.65,0.65 0 1,0 1.3,0a0.65,0.65 0 1,0 -1.3,0M102.6,35.31a0.65,0.65 0 1,0 1.3,0a0.65,0.65 0 1,0 -1.3,0M99.47,36.94a0.65,0.65 0 1,0 1.3,0a0.65,0.65 0 1,0 -1.3,0M106.72,35.56a0.65,0.65 0 1,0 1.3,0a0.65,0.65 0 1,0 -1.3,0M110.92,35.51a0.65,0.65 0 1,0 1.3,0a0.65,0.65 0 1,0 -1.3,0M103.13,38.26a0.65,0.65 0 1,0 1.3,0a0.65,0.65 0 1,0 -1.3,0M96.62,37.39a0.65,0.65 0 1,0 1.3,0a0.65,0.65 0 1,0 -1.3,0M107.69,39.36a0.65,0.65 0 1,0 1.3,0a0.65,0.65 0 1,0 -1.3,0M96.39,35.83a0.65,0.65 0 1,0 1.3,0a0.65,0.65 0 1,0 -1.3,0M108.02,34.41a0.65,0.65 0 1,0 1.3,0a0.65,0.65 0 1,0 -1.3,0M104.18,35.67a0.65,0.65 0 1,0 1.3,0a0.65,0.65 0 1,0 -1.3,0M102.93,37.32a0.65,0.65 0 1,0 1.3,0a0.65,0.65 0 1,0 -1.3,0" fill="#C77CFF"/>
<polygon points="103.6,198.4 106.3,195.8 109.3,193.7 111.6,193.6 111.4,195.4 108.3,197.8 105.2,199.8 103.8,199.6" fill="#00BE67" stroke="#00BE67" stroke-width="0.6" stroke-linejoin="round"/>
<path d="M106.12,199.18a0.65,0.65 0 1,0 1.3,0a0.65,0.65 0 1,0 -1.3,0M109.32,196.82a0.65,0.65 0 1,0 1.3,0a0.65,0.65 0 1,0 -1.3,0M108.01,197.17a0.65,0.65 0 1,0 1.3,0a0.65,0.65 0 1,0 -1.3,0M103.21,199.25a0.65,0.65 0 1,0 1.3,0a0.65,0.65 0 1,0 -1.3,0M109.91,193.3a0.65,0.65 0 1,0 1.3,0a0.65,0.65 0 1,0 -1.3,0M106.23,195.28a0.65,0.65 0 1,0 1.3,0a0.65,0.65 0 1,0 -1.3,0M110.35,194.47a0.65,0.65 0 1,0 1.3,0a0.65,0.65 0 1,0 -1.3,0M104.97,196.51a0.65,0.65 0 1,0 1.3,0a0.65,0.65 0 1,0 -1.3,0M109.45,193.62a0.65,0.65 0 1,0 1.3,0a0.65,0.65 0 1,0 -1.3,0M108.01,197.05a0.65,0.65 0 1,0 1.3,0a0.65,0.65 0 1,0 -1.3,0" fill="#00BE67"/>
<polygon points="211.5,110 213.8,107.9 217.3,106 218,107 215.2,109.6 212.4,111.2" fill="#FF68A1" stroke="#FF68A1" stroke-width="0.6" stroke-linejoin="round"/>
<path d="M216.24,108.69a0.65,0.65 0 1,0 1.3,0a0.65,0.65 0 1,0 -1.3,0M213.67,109.98a0.65,0.65 0 1,0 1.3,0a0.65,0.65 0 1,0 -1.3,0M215.16,108.57a0.65,0.65 0 1,0 1.3,0a0.65,0.65 0 1,0 -1.3,0M212.47,110.7a0.65,0.65 0 1,0 1.3,0a0.65,0.65 0 1,0 -1.3,0M212.58,109.79a0.65,0.65 0 1,0 1.3,0a0.65,0.65 0 1,0 -1.3,0M212.31,107.91a0.65,0.65 0 1,0 1.3,0a0.65,0.65 0 1,0 -1.3,0M215.85,108.51a0.65,0.65 0 1,0 1.3,0a0.65,0.65 0 1,0 -1.3,0M216.13,107.98a0.65,0.65 0 1,0 1.3,0a0.65,0.65 0 1,0 -1.3,0" fill="#FF68A1"/>
<text x="116.7" y="100.1" font-family="Liberation Sans, sans-serif" font-size="7.2" fill="#111" text-anchor="middle">3</text>
<text x="114.1" y="113.89999999999999" font-family="Liberation Sans, sans-serif" font-size="7.2" fill="#111" text-anchor="middle">2</text>
<text x="108.7" y="109.5" font-family="Liberation Sans, sans-serif" font-size="7.2" fill="#111" text-anchor="middle">7</text>
<text x="82.5" y="119.6" font-family="Liberation Sans, sans-serif" font-size="7.2" fill="#111" text-anchor="middle">4</text>
<text x="96" y="132.1" font-family="Liberation Sans, sans-serif" font-size="7.2" fill="#111" text-anchor="middle">1</text>
<text x="61.7" y="122.69999999999999" font-family="Liberation Sans, sans-serif" font-size="7.2" fill="#111" text-anchor="middle">10</text>
<text x="61.3" y="133.1" font-family="Liberation Sans, sans-serif" font-size="7.2" fill="#111" text-anchor="middle">6</text>
<text x="144.5" y="173.5" font-family="Liberation Sans, sans-serif" font-size="7.2" fill="#111" text-anchor="middle">0</text>
<text x="160.9" y="162.1" font-family="Liberation Sans, sans-serif" font-size="7.2" fill="#111" text-anchor="middle">5</text>
<text x="165.8" y="176.5" font-family="Liberation Sans, sans-serif" font-size="7.2" fill="#111" text-anchor="middle">9</text>
<text x="162.3" y="181.2" font-family="Liberation Sans, sans-serif" font-size="7.2" fill="#111" text-anchor="middle">12</text>
<text x="86" y="38.1" font-family="Liberation Sans, sans-serif" font-size="7.2" fill="#111" text-anchor="middle">11</text>
<text x="82.7" y="44.0" font-family="Liberation Sans, sans-serif" font-size="7.2" fill="#111" text-anchor="middle">15</text>
<text x="106.8" y="39.4" font-family="Liberation Sans, sans-serif" font-size="7.2" fill="#111" text-anchor="middle">8</text>
<text x="108.6" y="199.0" font-family="Liberation Sans, sans-serif" font-size="7.2" fill="#111" text-anchor="middle">13</text>
<text x="215.9" y="111.0" font-family="Liberation Sans, sans-serif" font-size="7.2" fill="#111" text-anchor="middle">14</text>
<path d="M44.3,25 V206.5 H226.3" fill="none" stroke="#333" stroke-width="0.9"/>
<path d="M42.099999999999994,28.86H44.3" stroke="#333" stroke-width="0.9"/>
<text x="40.8" y="31.36" font-family="Liberation Sans, sans-serif" font-size="7.6" fill="#3a3a3a" text-anchor="end">20</text>
<path d="M42.099999999999994,78.43H44.3" stroke="#333" stroke-width="0.9"/>
<text x="40.8" y="80.93" font-family="Liberation Sans, sans-serif" font-size="7.6" fill="#3a3a3a" text-anchor="end">10</text>
<path d="M42.099999999999994,128H44.3" stroke="#333" stroke-width="0.9"/>
<text x="40.8" y="130.5" font-family="Liberation Sans, sans-serif" font-size="7.6" fill="#3a3a3a" text-anchor="end">0</text>
<path d="M42.099999999999994,177.57H44.3" stroke="#333" stroke-width="0.9"/>
<text x="40.8" y="180.07" font-family="Liberation Sans, sans-serif" font-size="7.6" fill="#3a3a3a" text-anchor="end">-10</text>
<path d="M45,206.5V208.7" stroke="#333" stroke-width="0.9"/>
<text x="45" y="216.4" font-family="Liberation Sans, sans-serif" font-size="7.6" fill="#3a3a3a" text-anchor="middle">-10</text>
<path d="M81.2,206.5V208.7" stroke="#333" stroke-width="0.9"/>
<text x="81.2" y="216.4" font-family="Liberation Sans, sans-serif" font-size="7.6" fill="#3a3a3a" text-anchor="middle">-5</text>
<path d="M117.4,206.5V208.7" stroke="#333" stroke-width="0.9"/>
<text x="117.4" y="216.4" font-family="Liberation Sans, sans-serif" font-size="7.6" fill="#3a3a3a" text-anchor="middle">0</text>
<path d="M153.6,206.5V208.7" stroke="#333" stroke-width="0.9"/>
<text x="153.6" y="216.4" font-family="Liberation Sans, sans-serif" font-size="7.6" fill="#3a3a3a" text-anchor="middle">5</text>
<path d="M189.8,206.5V208.7" stroke="#333" stroke-width="0.9"/>
<text x="189.8" y="216.4" font-family="Liberation Sans, sans-serif" font-size="7.6" fill="#3a3a3a" text-anchor="middle">10</text>
<path d="M226,206.5V208.7" stroke="#333" stroke-width="0.9"/>
<text x="226" y="216.4" font-family="Liberation Sans, sans-serif" font-size="7.6" fill="#3a3a3a" text-anchor="middle">15</text>
<text x="134.6" y="226.6" font-family="Liberation Sans, sans-serif" font-size="8.9" fill="#3a3a3a" text-anchor="middle">UMAP−1</text>
<text transform="translate(26,116.2) rotate(-90)" font-family="Liberation Sans, sans-serif" font-size="8.9" fill="#3a3a3a" text-anchor="middle">UMAP−2</text>
<circle cx="239" cy="46.4" r="2.5" fill="#F8766D"/>
<text x="248.2" y="49.1" font-family="Liberation Sans, sans-serif" font-size="7.7" fill="#3a3a3a">2</text>
<circle cx="239" cy="55.99" r="2.5" fill="#F5860F"/>
<text x="248.2" y="58.69" font-family="Liberation Sans, sans-serif" font-size="7.7" fill="#3a3a3a">3</text>
<circle cx="239" cy="65.58" r="2.5" fill="#DB9700"/>
<text x="248.2" y="68.28" font-family="Liberation Sans, sans-serif" font-size="7.7" fill="#3a3a3a">1</text>
<circle cx="239" cy="75.17" r="2.5" fill="#ABA300"/>
<text x="248.2" y="77.87" font-family="Liberation Sans, sans-serif" font-size="7.7" fill="#3a3a3a">4</text>
<circle cx="239" cy="84.76" r="2.5" fill="#72B000"/>
<text x="248.2" y="87.46" font-family="Liberation Sans, sans-serif" font-size="7.7" fill="#3a3a3a">7</text>
<circle cx="239" cy="94.35" r="2.5" fill="#0CB702"/>
<text x="248.2" y="97.05" font-family="Liberation Sans, sans-serif" font-size="7.7" fill="#3a3a3a">10</text>
<circle cx="239" cy="103.94" r="2.5" fill="#00BE67"/>
<text x="248.2" y="106.64" font-family="Liberation Sans, sans-serif" font-size="7.7" fill="#3a3a3a">13</text>
<circle cx="239" cy="113.53" r="2.5" fill="#00C19A"/>
<text x="248.2" y="116.23" font-family="Liberation Sans, sans-serif" font-size="7.7" fill="#3a3a3a">6</text>
<circle cx="239" cy="123.12" r="2.5" fill="#00BFC4"/>
<text x="248.2" y="125.82" font-family="Liberation Sans, sans-serif" font-size="7.7" fill="#3a3a3a">0</text>
<circle cx="239" cy="132.71" r="2.5" fill="#00B8E7"/>
<text x="248.2" y="135.41" font-family="Liberation Sans, sans-serif" font-size="7.7" fill="#3a3a3a">5</text>
<circle cx="239" cy="142.3" r="2.5" fill="#00A9FF"/>
<text x="248.2" y="145" font-family="Liberation Sans, sans-serif" font-size="7.7" fill="#3a3a3a">9</text>
<circle cx="239" cy="151.89" r="2.5" fill="#8494FF"/>
<text x="248.2" y="154.59" font-family="Liberation Sans, sans-serif" font-size="7.7" fill="#3a3a3a">12</text>
<circle cx="239" cy="161.48" r="2.5" fill="#C77CFF"/>
<text x="248.2" y="164.18" font-family="Liberation Sans, sans-serif" font-size="7.7" fill="#3a3a3a">8</text>
<circle cx="239" cy="171.07" r="2.5" fill="#ED68ED"/>
<text x="248.2" y="173.77" font-family="Liberation Sans, sans-serif" font-size="7.7" fill="#3a3a3a">11</text>
<circle cx="239" cy="180.66" r="2.5" fill="#FF61CC"/>
<text x="248.2" y="183.36" font-family="Liberation Sans, sans-serif" font-size="7.7" fill="#3a3a3a">15</text>
<circle cx="239" cy="190.25" r="2.5" fill="#FF68A1"/>
<text x="248.2" y="192.95" font-family="Liberation Sans, sans-serif" font-size="7.7" fill="#3a3a3a">14</text>
<rect x="330.5" y="39.2" width="125.9" height="160.3" fill="none" stroke="#444" stroke-width="1.1"/>
<text x="390.4" y="52.1" font-family="Liberation Serif, serif" font-weight="bold" font-size="12.6" fill="#000" text-anchor="middle">Clusters</text>
<text x="337.4" y="72.5" font-family="Liberation Serif, serif" font-size="12.6" fill="#000" xml:space="preserve"><tspan font-weight="bold">2:</tspan> Tregs</text>
<text x="337.4" y="87.72" font-family="Liberation Serif, serif" font-size="12.6" fill="#000" xml:space="preserve"><tspan font-weight="bold">3, 7:</tspan> CD4+ T cells</text>
<text x="337.4" y="102.94" font-family="Liberation Serif, serif" font-size="12.6" fill="#000" xml:space="preserve"><tspan font-weight="bold">1, 4:</tspan> CD8+ T cells</text>
<text x="337.4" y="118.16" font-family="Liberation Serif, serif" font-size="12.6" fill="#000" xml:space="preserve"><tspan font-weight="bold">10:</tspan> NK cells</text>
<text x="337.4" y="133.38" font-family="Liberation Serif, serif" font-size="12.6" fill="#000" xml:space="preserve"><tspan font-weight="bold">13:</tspan> macrophages</text>
<text x="337.4" y="148.6" font-family="Liberation Serif, serif" font-size="12.6" fill="#000" xml:space="preserve"><tspan font-weight="bold">6:</tspan> microglia</text>
<text x="337.4" y="163.82" font-family="Liberation Serif, serif" font-size="12.6" fill="#000" xml:space="preserve"><tspan font-weight="bold">0, 5, 9, 12:</tspan> B cells</text>
<text x="337.4" y="179.04" font-family="Liberation Serif, serif" font-size="12.6" fill="#000" xml:space="preserve"><tspan font-weight="bold">8, 11, 15:</tspan> plasma cells</text>
<text x="337.4" y="194.26" font-family="Liberation Serif, serif" font-size="12.6" fill="#000" xml:space="preserve"><tspan font-weight="bold">14:</tspan> mast cells</text>
<circle cx="52.2" cy="255.2" r="2.95" fill="#8f52f5"/>
<circle cx="65.3" cy="255.2" r="0.6" fill="#c4b8ee"/>
<circle cx="78.4" cy="255.2" r="0.6" fill="#c4b8ee"/>
<circle cx="91.5" cy="255.2" r="0.6" fill="#c4b8ee"/>
<circle cx="104.6" cy="255.2" r="0.6" fill="#c4b8ee"/>
<circle cx="117.7" cy="255.2" r="0.6" fill="#c4b8ee"/>
<circle cx="130.8" cy="255.2" r="0.6" fill="#c4b8ee"/>
<circle cx="143.9" cy="255.2" r="0.6" fill="#c4b8ee"/>
<circle cx="157" cy="255.2" r="0.6" fill="#c4b8ee"/>
<circle cx="170.1" cy="255.2" r="0.6" fill="#c4b8ee"/>
<circle cx="183.2" cy="255.2" r="3.8" fill="#0a1eff"/>
<circle cx="52.2" cy="264.28" r="1.6" fill="#c9c9c9"/>
<circle cx="65.3" cy="264.28" r="1.65" fill="#a57ae8"/>
<circle cx="78.4" cy="264.28" r="1.2" fill="#9a60f0"/>
<circle cx="91.5" cy="264.28" r="0.6" fill="#c4b8ee"/>
<circle cx="104.6" cy="264.28" r="0.6" fill="#c4b8ee"/>
<circle cx="117.7" cy="264.28" r="0.6" fill="#c4b8ee"/>
<circle cx="130.8" cy="264.28" r="0.6" fill="#c4b8ee"/>
<circle cx="143.9" cy="264.28" r="0.6" fill="#c4b8ee"/>
<circle cx="157" cy="264.28" r="0.6" fill="#c4b8ee"/>
<circle cx="170.1" cy="264.28" r="4" fill="#9a64f0"/>
<circle cx="183.2" cy="264.28" r="0.6" fill="#c4b8ee"/>
<circle cx="52.2" cy="273.36" r="2.25" fill="#d3d3d3"/>
<circle cx="65.3" cy="273.36" r="1.3" fill="#a985ea"/>
<circle cx="78.4" cy="273.36" r="1.05" fill="#a070ee"/>
<circle cx="91.5" cy="273.36" r="0.6" fill="#c4b8ee"/>
<circle cx="104.6" cy="273.36" r="0.6" fill="#c4b8ee"/>
<circle cx="117.7" cy="273.36" r="0.6" fill="#c4b8ee"/>
<circle cx="130.8" cy="273.36" r="0.6" fill="#c4b8ee"/>
<circle cx="143.9" cy="273.36" r="0.6" fill="#c4b8ee"/>
<circle cx="157" cy="273.36" r="0.6" fill="#c4b8ee"/>
<circle cx="170.1" cy="273.36" r="4" fill="#9a64f0"/>
<circle cx="183.2" cy="273.36" r="0.6" fill="#c4b8ee"/>
<circle cx="52.2" cy="282.44" r="1.9" fill="#cccccc"/>
<circle cx="65.3" cy="282.44" r="1.65" fill="#a882e8"/>
<circle cx="78.4" cy="282.44" r="1.2" fill="#9a62f0"/>
<circle cx="91.5" cy="282.44" r="0.6" fill="#c4b8ee"/>
<circle cx="104.6" cy="282.44" r="0.6" fill="#c4b8ee"/>
<circle cx="117.7" cy="282.44" r="0.6" fill="#c4b8ee"/>
<circle cx="130.8" cy="282.44" r="0.6" fill="#c4b8ee"/>
<circle cx="143.9" cy="282.44" r="0.6" fill="#c4b8ee"/>
<circle cx="157" cy="282.44" r="0.8" fill="#9c6af0"/>
<circle cx="170.1" cy="282.44" r="3.75" fill="#1020ff"/>
<circle cx="183.2" cy="282.44" r="0.6" fill="#c4b8ee"/>
<circle cx="52.2" cy="291.52" r="2.75" fill="#8c50f3"/>
<circle cx="65.3" cy="291.52" r="0.6" fill="#c4b8ee"/>
<circle cx="78.4" cy="291.52" r="0.6" fill="#c4b8ee"/>
<circle cx="91.5" cy="291.52" r="0.6" fill="#c4b8ee"/>
<circle cx="104.6" cy="291.52" r="0.6" fill="#c4b8ee"/>
<circle cx="117.7" cy="291.52" r="0.6" fill="#c4b8ee"/>
<circle cx="130.8" cy="291.52" r="0.6" fill="#c4b8ee"/>
<circle cx="143.9" cy="291.52" r="0.6" fill="#c4b8ee"/>
<circle cx="157" cy="291.52" r="4.5" fill="#0a20ff"/>
<circle cx="170.1" cy="291.52" r="1.25" fill="#b48de8"/>
<circle cx="183.2" cy="291.52" r="0.6" fill="#c4b8ee"/>
<circle cx="52.2" cy="300.6" r="2.75" fill="#8d52f3"/>
<circle cx="65.3" cy="300.6" r="3.95" fill="#ad80f0"/>
<circle cx="78.4" cy="300.6" r="2.2" fill="#9a5ff5"/>
<circle cx="91.5" cy="300.6" r="0.8" fill="#9060f0"/>
<circle cx="104.6" cy="300.6" r="0.6" fill="#c4b8ee"/>
<circle cx="117.7" cy="300.6" r="0.6" fill="#c4b8ee"/>
<circle cx="130.8" cy="300.6" r="0.6" fill="#c4b8ee"/>
<circle cx="143.9" cy="300.6" r="0.6" fill="#c4b8ee"/>
<circle cx="157" cy="300.6" r="4" fill="#a97cee"/>
<circle cx="170.1" cy="300.6" r="0.75" fill="#9c6af0"/>
<circle cx="183.2" cy="300.6" r="0.6" fill="#c4b8ee"/>
<circle cx="52.2" cy="309.68" r="1.75" fill="#9960f0"/>
<circle cx="65.3" cy="309.68" r="0.6" fill="#c4b8ee"/>
<circle cx="78.4" cy="309.68" r="0.6" fill="#c4b8ee"/>
<circle cx="91.5" cy="309.68" r="0.6" fill="#c4b8ee"/>
<circle cx="104.6" cy="309.68" r="0.6" fill="#c4b8ee"/>
<circle cx="117.7" cy="309.68" r="0.6" fill="#c4b8ee"/>
<circle cx="130.8" cy="309.68" r="0.6" fill="#c4b8ee"/>
<circle cx="143.9" cy="309.68" r="0.6" fill="#c4b8ee"/>
<circle cx="157" cy="309.68" r="4" fill="#8a50f3"/>
<circle cx="170.1" cy="309.68" r="0.6" fill="#c4b8ee"/>
<circle cx="183.2" cy="309.68" r="0.6" fill="#c4b8ee"/>
<circle cx="52.2" cy="318.76" r="2" fill="#9458f0"/>
<circle cx="65.3" cy="318.76" r="0.6" fill="#c4b8ee"/>
<circle cx="78.4" cy="318.76" r="0.6" fill="#c4b8ee"/>
<circle cx="91.5" cy="318.76" r="0.6" fill="#c4b8ee"/>
<circle cx="104.6" cy="318.76" r="0.6" fill="#c4b8ee"/>
<circle cx="117.7" cy="318.76" r="0.6" fill="#c4b8ee"/>
<circle cx="130.8" cy="318.76" r="0.6" fill="#c4b8ee"/>
<circle cx="143.9" cy="318.76" r="0.6" fill="#c4b8ee"/>
<circle cx="157" cy="318.76" r="4" fill="#8c52f3"/>
<circle cx="170.1" cy="318.76" r="0.6" fill="#c4b8ee"/>
<circle cx="183.2" cy="318.76" r="0.6" fill="#c4b8ee"/>
<circle cx="52.2" cy="327.84" r="1.6" fill="#b595e8"/>
<circle cx="65.3" cy="327.84" r="2.5" fill="#a872f0"/>
<circle cx="78.4" cy="327.84" r="1.65" fill="#9d62f0"/>
<circle cx="91.5" cy="327.84" r="1.15" fill="#5a2af5"/>
<circle cx="104.6" cy="327.84" r="0.6" fill="#c4b8ee"/>
<circle cx="117.7" cy="327.84" r="0.6" fill="#c4b8ee"/>
<circle cx="130.8" cy="327.84" r="1.75" fill="#4a20f8"/>
<circle cx="143.9" cy="327.84" r="3.25" fill="#0a1eff"/>
<circle cx="157" cy="327.84" r="0.6" fill="#c4b8ee"/>
<circle cx="170.1" cy="327.84" r="0.6" fill="#c4b8ee"/>
<circle cx="183.2" cy="327.84" r="0.6" fill="#c4b8ee"/>
<circle cx="52.2" cy="336.92" r="1.4" fill="#bca8e0"/>
<circle cx="65.3" cy="336.92" r="1.4" fill="#a78ce8"/>
<circle cx="78.4" cy="336.92" r="1.2" fill="#a070ee"/>
<circle cx="91.5" cy="336.92" r="1.35" fill="#7a40f5"/>
<circle cx="104.6" cy="336.92" r="0.6" fill="#c4b8ee"/>
<circle cx="117.7" cy="336.92" r="0.6" fill="#c4b8ee"/>
<circle cx="130.8" cy="336.92" r="3.25" fill="#0a1eff"/>
<circle cx="143.9" cy="336.92" r="0.6" fill="#c4b8ee"/>
<circle cx="157" cy="336.92" r="0.6" fill="#c4b8ee"/>
<circle cx="170.1" cy="336.92" r="0.6" fill="#c4b8ee"/>
<circle cx="183.2" cy="336.92" r="0.6" fill="#c4b8ee"/>
<circle cx="52.2" cy="346" r="2.15" fill="#8e50f3"/>
<circle cx="65.3" cy="346" r="2.4" fill="#a67cee"/>
<circle cx="78.4" cy="346" r="2.15" fill="#9d66ee"/>
<circle cx="91.5" cy="346" r="0.6" fill="#c4b8ee"/>
<circle cx="104.6" cy="346" r="0.6" fill="#c4b8ee"/>
<circle cx="117.7" cy="346" r="1.75" fill="#1028ff"/>
<circle cx="130.8" cy="346" r="0.6" fill="#c4b8ee"/>
<circle cx="143.9" cy="346" r="0.6" fill="#c4b8ee"/>
<circle cx="157" cy="346" r="0.6" fill="#c4b8ee"/>
<circle cx="170.1" cy="346" r="0.6" fill="#c4b8ee"/>
<circle cx="183.2" cy="346" r="0.6" fill="#c4b8ee"/>
<circle cx="52.2" cy="355.08" r="1.65" fill="#a880ea"/>
<circle cx="65.3" cy="355.08" r="4" fill="#9a66f0"/>
<circle cx="78.4" cy="355.08" r="0.6" fill="#c4b8ee"/>
<circle cx="91.5" cy="355.08" r="1.15" fill="#8850f5"/>
<circle cx="104.6" cy="355.08" r="0.6" fill="#c4b8ee"/>
<circle cx="117.7" cy="355.08" r="0.6" fill="#c4b8ee"/>
<circle cx="130.8" cy="355.08" r="0.6" fill="#c4b8ee"/>
<circle cx="143.9" cy="355.08" r="0.6" fill="#c4b8ee"/>
<circle cx="157" cy="355.08" r="0.6" fill="#c4b8ee"/>
<circle cx="170.1" cy="355.08" r="0.6" fill="#c4b8ee"/>
<circle cx="183.2" cy="355.08" r="0.6" fill="#c4b8ee"/>
<circle cx="52.2" cy="364.16" r="2.15" fill="#8c50f3"/>
<circle cx="65.3" cy="364.16" r="4.35" fill="#7a40f8"/>
<circle cx="78.4" cy="364.16" r="3.25" fill="#1028ff"/>
<circle cx="91.5" cy="364.16" r="0.6" fill="#c4b8ee"/>
<circle cx="104.6" cy="364.16" r="0.6" fill="#c4b8ee"/>
<circle cx="117.7" cy="364.16" r="0.6" fill="#c4b8ee"/>
<circle cx="130.8" cy="364.16" r="0.6" fill="#c4b8ee"/>
<circle cx="143.9" cy="364.16" r="0.6" fill="#c4b8ee"/>
<circle cx="157" cy="364.16" r="0.6" fill="#c4b8ee"/>
<circle cx="170.1" cy="364.16" r="0.6" fill="#c4b8ee"/>
<circle cx="183.2" cy="364.16" r="0.6" fill="#c4b8ee"/>
<circle cx="52.2" cy="373.24" r="1.7" fill="#8a50f3"/>
<circle cx="65.3" cy="373.24" r="4.15" fill="#7c42f6"/>
<circle cx="78.4" cy="373.24" r="2.75" fill="#1a2cff"/>
<circle cx="91.5" cy="373.24" r="0.6" fill="#c4b8ee"/>
<circle cx="104.6" cy="373.24" r="0.6" fill="#c4b8ee"/>
<circle cx="117.7" cy="373.24" r="0.6" fill="#c4b8ee"/>
<circle cx="130.8" cy="373.24" r="0.6" fill="#c4b8ee"/>
<circle cx="143.9" cy="373.24" r="0.6" fill="#c4b8ee"/>
<circle cx="157" cy="373.24" r="0.6" fill="#c4b8ee"/>
<circle cx="170.1" cy="373.24" r="0.6" fill="#c4b8ee"/>
<circle cx="183.2" cy="373.24" r="0.6" fill="#c4b8ee"/>
<circle cx="52.2" cy="382.32" r="1.5" fill="#a985ec"/>
<circle cx="65.3" cy="382.32" r="4" fill="#9560f0"/>
<circle cx="78.4" cy="382.32" r="0.6" fill="#c4b8ee"/>
<circle cx="91.5" cy="382.32" r="1.1" fill="#8550f5"/>
<circle cx="104.6" cy="382.32" r="0.6" fill="#c4b8ee"/>
<circle cx="117.7" cy="382.32" r="0.6" fill="#c4b8ee"/>
<circle cx="130.8" cy="382.32" r="0.6" fill="#c4b8ee"/>
<circle cx="143.9" cy="382.32" r="0.6" fill="#c4b8ee"/>
<circle cx="157" cy="382.32" r="0.6" fill="#c4b8ee"/>
<circle cx="170.1" cy="382.32" r="0.6" fill="#c4b8ee"/>
<circle cx="183.2" cy="382.32" r="0.6" fill="#c4b8ee"/>
<circle cx="52.2" cy="391.4" r="1.5" fill="#a985ea"/>
<circle cx="65.3" cy="391.4" r="4" fill="#8d58f2"/>
<circle cx="78.4" cy="391.4" r="0.6" fill="#c4b8ee"/>
<circle cx="91.5" cy="391.4" r="1.4" fill="#2030ff"/>
<circle cx="104.6" cy="391.4" r="1.1" fill="#3040ff"/>
<circle cx="117.7" cy="391.4" r="0.6" fill="#c4b8ee"/>
<circle cx="130.8" cy="391.4" r="0.6" fill="#c4b8ee"/>
<circle cx="143.9" cy="391.4" r="0.6" fill="#c4b8ee"/>
<circle cx="157" cy="391.4" r="0.6" fill="#c4b8ee"/>
<circle cx="170.1" cy="391.4" r="0.6" fill="#c4b8ee"/>
<circle cx="183.2" cy="391.4" r="0.6" fill="#c4b8ee"/>
<path d="M44.3,249.8 V397 H191.8" fill="none" stroke="#333" stroke-width="0.9"/>
<path d="M42.099999999999994,255.2H44.3" stroke="#333" stroke-width="0.9"/>
<text x="41.099999999999994" y="257.8" font-family="Liberation Sans, sans-serif" font-size="7.6" fill="#3a3a3a" text-anchor="end">14</text>
<path d="M42.099999999999994,264.28H44.3" stroke="#333" stroke-width="0.9"/>
<text x="41.099999999999994" y="266.88" font-family="Liberation Sans, sans-serif" font-size="7.6" fill="#3a3a3a" text-anchor="end">15</text>
<path d="M42.099999999999994,273.36H44.3" stroke="#333" stroke-width="0.9"/>
<text x="41.099999999999994" y="275.96" font-family="Liberation Sans, sans-serif" font-size="7.6" fill="#3a3a3a" text-anchor="end">11</text>
<path d="M42.099999999999994,282.44H44.3" stroke="#333" stroke-width="0.9"/>
<text x="41.099999999999994" y="285.04" font-family="Liberation Sans, sans-serif" font-size="7.6" fill="#3a3a3a" text-anchor="end">8</text>
<path d="M42.099999999999994,291.52H44.3" stroke="#333" stroke-width="0.9"/>
<text x="41.099999999999994" y="294.12" font-family="Liberation Sans, sans-serif" font-size="7.6" fill="#3a3a3a" text-anchor="end">12</text>
<path d="M42.099999999999994,300.6H44.3" stroke="#333" stroke-width="0.9"/>
<text x="41.099999999999994" y="303.2" font-family="Liberation Sans, sans-serif" font-size="7.6" fill="#3a3a3a" text-anchor="end">9</text>
<path d="M42.099999999999994,309.68H44.3" stroke="#333" stroke-width="0.9"/>
<text x="41.099999999999994" y="312.28" font-family="Liberation Sans, sans-serif" font-size="7.6" fill="#3a3a3a" text-anchor="end">5</text>
<path d="M42.099999999999994,318.76H44.3" stroke="#333" stroke-width="0.9"/>
<text x="41.099999999999994" y="321.36" font-family="Liberation Sans, sans-serif" font-size="7.6" fill="#3a3a3a" text-anchor="end">0</text>
<path d="M42.099999999999994,327.84H44.3" stroke="#333" stroke-width="0.9"/>
<text x="41.099999999999994" y="330.44" font-family="Liberation Sans, sans-serif" font-size="7.6" fill="#3a3a3a" text-anchor="end">6</text>
<path d="M42.099999999999994,336.92H44.3" stroke="#333" stroke-width="0.9"/>
<text x="41.099999999999994" y="339.52" font-family="Liberation Sans, sans-serif" font-size="7.6" fill="#3a3a3a" text-anchor="end">13</text>
<path d="M42.099999999999994,346H44.3" stroke="#333" stroke-width="0.9"/>
<text x="41.099999999999994" y="348.6" font-family="Liberation Sans, sans-serif" font-size="7.6" fill="#3a3a3a" text-anchor="end">10</text>
<path d="M42.099999999999994,355.08H44.3" stroke="#333" stroke-width="0.9"/>
<text x="41.099999999999994" y="357.68" font-family="Liberation Sans, sans-serif" font-size="7.6" fill="#3a3a3a" text-anchor="end">7</text>
<path d="M42.099999999999994,364.16H44.3" stroke="#333" stroke-width="0.9"/>
<text x="41.099999999999994" y="366.76" font-family="Liberation Sans, sans-serif" font-size="7.6" fill="#3a3a3a" text-anchor="end">4</text>
<path d="M42.099999999999994,373.24H44.3" stroke="#333" stroke-width="0.9"/>
<text x="41.099999999999994" y="375.84" font-family="Liberation Sans, sans-serif" font-size="7.6" fill="#3a3a3a" text-anchor="end">1</text>
<path d="M42.099999999999994,382.32H44.3" stroke="#333" stroke-width="0.9"/>
<text x="41.099999999999994" y="384.92" font-family="Liberation Sans, sans-serif" font-size="7.6" fill="#3a3a3a" text-anchor="end">3</text>
<path d="M42.099999999999994,391.4H44.3" stroke="#333" stroke-width="0.9"/>
<text x="41.099999999999994" y="394" font-family="Liberation Sans, sans-serif" font-size="7.6" fill="#3a3a3a" text-anchor="end">2</text>
<path d="M52.2,397V399.2" stroke="#333" stroke-width="0.9"/>
<text transform="translate(51.6,401.4) rotate(-45)" font-family="Liberation Sans, sans-serif" font-size="7.5" fill="#3a3a3a" text-anchor="end" dominant-baseline="hanging">PDCD4</text>
<path d="M65.3,397V399.2" stroke="#333" stroke-width="0.9"/>
<text transform="translate(64.7,401.4) rotate(-45)" font-family="Liberation Sans, sans-serif" font-size="7.5" fill="#3a3a3a" text-anchor="end" dominant-baseline="hanging">CD3E</text>
<path d="M78.4,397V399.2" stroke="#333" stroke-width="0.9"/>
<text transform="translate(77.8,401.4) rotate(-45)" font-family="Liberation Sans, sans-serif" font-size="7.5" fill="#3a3a3a" text-anchor="end" dominant-baseline="hanging">CD8A</text>
<path d="M91.5,397V399.2" stroke="#333" stroke-width="0.9"/>
<text transform="translate(90.9,401.4) rotate(-45)" font-family="Liberation Sans, sans-serif" font-size="7.5" fill="#3a3a3a" text-anchor="end" dominant-baseline="hanging">CD4</text>
<path d="M104.6,397V399.2" stroke="#333" stroke-width="0.9"/>
<text transform="translate(104,401.4) rotate(-45)" font-family="Liberation Sans, sans-serif" font-size="7.5" fill="#3a3a3a" text-anchor="end" dominant-baseline="hanging">FOXP3</text>
<path d="M117.7,397V399.2" stroke="#333" stroke-width="0.9"/>
<text transform="translate(117.1,401.4) rotate(-45)" font-family="Liberation Sans, sans-serif" font-size="7.5" fill="#3a3a3a" text-anchor="end" dominant-baseline="hanging">GNLY</text>
<path d="M130.8,397V399.2" stroke="#333" stroke-width="0.9"/>
<text transform="translate(130.2,401.4) rotate(-45)" font-family="Liberation Sans, sans-serif" font-size="7.5" fill="#3a3a3a" text-anchor="end" dominant-baseline="hanging">CD14</text>
<path d="M143.9,397V399.2" stroke="#333" stroke-width="0.9"/>
<text transform="translate(143.3,401.4) rotate(-45)" font-family="Liberation Sans, sans-serif" font-size="7.5" fill="#3a3a3a" text-anchor="end" dominant-baseline="hanging">C1QA</text>
<path d="M157,397V399.2" stroke="#333" stroke-width="0.9"/>
<text transform="translate(156.4,401.4) rotate(-45)" font-family="Liberation Sans, sans-serif" font-size="7.5" fill="#3a3a3a" text-anchor="end" dominant-baseline="hanging">MS4A1</text>
<path d="M170.1,397V399.2" stroke="#333" stroke-width="0.9"/>
<text transform="translate(169.5,401.4) rotate(-45)" font-family="Liberation Sans, sans-serif" font-size="7.5" fill="#3a3a3a" text-anchor="end" dominant-baseline="hanging">IGHG3</text>
<path d="M183.2,397V399.2" stroke="#333" stroke-width="0.9"/>
<text transform="translate(182.6,401.4) rotate(-45)" font-family="Liberation Sans, sans-serif" font-size="7.5" fill="#3a3a3a" text-anchor="end" dominant-baseline="hanging">KIT</text>
<text x="117.5" y="432.5" font-family="Liberation Sans, sans-serif" font-size="8.9" fill="#3a3a3a" text-anchor="middle">Features</text>
<text transform="translate(28.2,323.6) rotate(-90)" font-family="Liberation Sans, sans-serif" font-size="8.9" fill="#3a3a3a" text-anchor="middle">Identity</text>
<text x="200.4" y="265.5" font-family="Liberation Sans, sans-serif" font-size="8.9" fill="#3a3a3a">Average Expression</text>
<defs><linearGradient id="cb" x1="0" y1="0" x2="0" y2="1"><stop offset="0" stop-color="#0000ff"/><stop offset="1" stop-color="#d3d3d3"/></linearGradient><linearGradient id="cb2" x1="0" y1="0" x2="0" y2="1"><stop offset="0" stop-color="#0a14ff"/><stop offset="0.35" stop-color="#7a50f0"/><stop offset="0.7" stop-color="#b49ae4"/><stop offset="1" stop-color="#d3d3d3"/></linearGradient></defs>
<rect x="200.4" y="270.9" width="9.2" height="47.3" fill="url(#cb2)"/>
<path d="M200.4,277.3h1.6M207.9,277.3h1.7" stroke="#fff" stroke-width="0.5"/>
<text x="214.2" y="279.8" font-family="Liberation Sans, sans-serif" font-size="7.6" fill="#3a3a3a">2</text>
<path d="M200.4,288.7h1.6M207.9,288.7h1.7" stroke="#fff" stroke-width="0.5"/>
<text x="214.2" y="291.2" font-family="Liberation Sans, sans-serif" font-size="7.6" fill="#3a3a3a">1</text>
<path d="M200.4,300h1.6M207.9,300h1.7" stroke="#fff" stroke-width="0.5"/>
<text x="214.2" y="302.5" font-family="Liberation Sans, sans-serif" font-size="7.6" fill="#3a3a3a">0</text>
<path d="M200.4,311.8h1.6M207.9,311.8h1.7" stroke="#fff" stroke-width="0.5"/>
<text x="214.2" y="314.3" font-family="Liberation Sans, sans-serif" font-size="7.6" fill="#3a3a3a">-1</text>
<text x="200.4" y="334.9" font-family="Liberation Sans, sans-serif" font-size="8.9" fill="#3a3a3a">Percent Expressed</text>
<circle cx="205.8" cy="344.5" r="0.35" fill="#000"/>
<text x="215.5" y="347" font-family="Liberation Sans, sans-serif" font-size="7.6" fill="#3a3a3a">0</text>
<circle cx="205.8" cy="354" r="1.1" fill="#000"/>
<text x="215.5" y="356.5" font-family="Liberation Sans, sans-serif" font-size="7.6" fill="#3a3a3a">25</text>
<circle cx="205.8" cy="363.6" r="2.2" fill="#000"/>
<text x="215.5" y="366.1" font-family="Liberation Sans, sans-serif" font-size="7.6" fill="#3a3a3a">50</text>
<circle cx="205.8" cy="373.3" r="3.1" fill="#000"/>
<text x="215.5" y="375.8" font-family="Liberation Sans, sans-serif" font-size="7.6" fill="#3a3a3a">75</text>
<circle cx="205.8" cy="383.6" r="4.1" fill="#000"/>
<text x="215.5" y="386.1" font-family="Liberation Sans, sans-serif" font-size="7.6" fill="#3a3a3a">100</text>
<polygon points="327.06,402.3 327.15,402.1 327.29,401.9 327.45,401.7 327.61,401.49 327.76,401.29 327.87,401.09 327.95,400.89 328.03,400.69 328.09,400.49 328.13,400.29 328.13,400.08 328.1,399.88 328.02,399.41 327.9,398.94 327.74,398.47 327.57,398 327.39,397.53 327.23,397.06 327.08,396.52 326.92,395.99 326.77,395.45 326.6,394.91 326.43,394.37 326.24,393.84 326.04,393.37 325.82,392.9 325.59,392.43 325.35,391.96 325.13,391.49 324.91,391.02 324.7,390.61 324.5,390.21 324.3,389.81 324.11,389.4 323.92,389 323.75,388.6 323.58,388.19 323.41,387.79 323.26,387.39 323.11,386.99 322.98,386.58 322.88,386.18 322.8,385.64 322.74,385.11 322.71,384.57 322.68,384.03 322.66,383.49 322.65,382.96 322.64,381.48 322.64,380 322.65,378.52 322.67,377.05 322.69,375.57 322.7,374.09 322.71,370.73 322.71,367.37 322.72,364.01 322.74,360.66 322.76,357.3 322.8,353.94 322.86,351.25 322.94,348.57 323.03,345.88 323.12,343.19 323.21,340.51 323.3,337.82 323.39,335.81 323.5,333.79 323.61,331.78 323.7,329.76 323.77,327.75 323.8,325.73 323.79,323.72 323.74,321.7 323.67,319.69 323.58,317.67 323.49,315.65 323.4,313.64 323.31,310.95 323.2,308.27 323.09,305.58 322.98,302.89 322.88,300.21 322.8,297.52 322.74,294.83 322.7,292.15 322.67,289.46 322.65,286.77 322.63,284.09 322.6,281.4 322.57,276.7 322.54,272 322.51,267.3 322.49,262.59 322.47,257.89 322.45,253.19 322.15,253.19 322.13,257.89 322.11,262.59 322.09,267.3 322.06,272 322.03,276.7 322,281.4 321.97,284.09 321.95,286.77 321.93,289.46 321.9,292.15 321.86,294.83 321.8,297.52 321.72,300.21 321.62,302.89 321.51,305.58 321.4,308.27 321.29,310.95 321.2,313.64 321.11,315.65 321.02,317.67 320.93,319.69 320.86,321.7 320.81,323.72 320.8,325.73 320.83,327.75 320.9,329.76 320.99,331.78 321.1,333.79 321.21,335.81 321.3,337.82 321.39,340.51 321.48,343.19 321.57,345.88 321.66,348.57 321.74,351.25 321.8,353.94 321.84,357.3 321.86,360.66 321.88,364.01 321.89,367.37 321.89,370.73 321.9,374.09 321.91,375.57 321.93,377.05 321.95,378.52 321.96,380 321.96,381.48 321.95,382.96 321.94,383.49 321.92,384.03 321.89,384.57 321.86,385.11 321.8,385.64 321.72,386.18 321.62,386.58 321.49,386.99 321.34,387.39 321.19,387.79 321.02,388.19 320.85,388.6 320.68,389 320.49,389.4 320.3,389.81 320.1,390.21 319.9,390.61 319.69,391.02 319.47,391.49 319.25,391.96 319.01,392.43 318.78,392.9 318.56,393.37 318.36,393.84 318.17,394.37 318,394.91 317.83,395.45 317.68,395.99 317.52,396.52 317.37,397.06 317.21,397.53 317.03,398 316.86,398.47 316.7,398.94 316.58,399.41 316.5,399.88 316.47,400.08 316.47,400.29 316.51,400.49 316.57,400.69 316.65,400.89 316.73,401.09 316.84,401.29 316.99,401.49 317.15,401.7 317.31,401.9 317.45,402.1 317.54,402.3" fill="#F8766D" stroke="#2a2a2a" stroke-width="0.65" stroke-linejoin="round"/>
<line x1="322.3" y1="345.88" x2="322.3" y2="273.34" stroke="#333" stroke-width="0.5"/>
<rect x="321.1" y="345.88" width="2.4" height="56.42" fill="#F8766D" stroke="#333" stroke-width="0.45"/>
<line x1="321.1" y1="402.3" x2="323.5" y2="402.3" stroke="#222" stroke-width="0.8"/>
<circle cx="322.3" cy="253.19" r="1.2" fill="#222"/>
<polygon points="339.43,402.3 339.52,402.1 339.66,401.9 339.82,401.7 339.98,401.49 340.13,401.29 340.24,401.09 340.32,400.89 340.4,400.69 340.46,400.49 340.5,400.29 340.5,400.08 340.47,399.88 340.39,399.41 340.27,398.94 340.11,398.47 339.94,398 339.76,397.53 339.6,397.06 339.45,396.52 339.29,395.99 339.14,395.45 338.97,394.91 338.8,394.37 338.61,393.84 338.41,393.37 338.19,392.9 337.96,392.43 337.72,391.96 337.5,391.49 337.28,391.02 337.07,390.61 336.87,390.21 336.67,389.81 336.48,389.4 336.29,389 336.12,388.6 335.95,388.19 335.78,387.79 335.63,387.39 335.48,386.99 335.35,386.58 335.25,386.18 335.17,385.64 335.11,385.11 335.08,384.57 335.05,384.03 335.03,383.49 335.02,382.96 335.01,381.48 335.01,380 335.02,378.52 335.03,377.05 335.05,375.57 335.07,374.09 335.09,370.73 335.11,367.37 335.13,364.01 335.16,360.66 335.21,357.3 335.27,353.94 335.36,351.25 335.48,348.57 335.61,345.88 335.74,343.19 335.86,340.51 335.97,337.82 336.06,336.14 336.16,334.46 336.25,332.78 336.31,331.1 336.36,329.42 336.37,327.75 336.34,326.07 336.28,324.39 336.19,322.71 336.08,321.03 335.98,319.35 335.87,317.67 335.76,314.98 335.64,312.3 335.51,309.61 335.38,306.92 335.27,304.24 335.17,301.55 335.09,298.53 335.01,295.5 334.95,292.48 334.9,289.46 334.85,286.44 334.82,283.42 334.52,283.42 334.49,286.44 334.44,289.46 334.39,292.48 334.33,295.5 334.25,298.53 334.17,301.55 334.07,304.24 333.96,306.92 333.83,309.61 333.7,312.3 333.58,314.98 333.47,317.67 333.36,319.35 333.26,321.03 333.15,322.71 333.06,324.39 333,326.07 332.97,327.75 332.98,329.42 333.03,331.1 333.1,332.78 333.18,334.46 333.28,336.14 333.37,337.82 333.48,340.51 333.6,343.19 333.73,345.88 333.86,348.57 333.98,351.25 334.07,353.94 334.13,357.3 334.18,360.66 334.21,364.01 334.23,367.37 334.25,370.73 334.27,374.09 334.29,375.57 334.31,377.05 334.32,378.52 334.33,380 334.33,381.48 334.32,382.96 334.31,383.49 334.29,384.03 334.26,384.57 334.23,385.11 334.17,385.64 334.09,386.18 333.99,386.58 333.86,386.99 333.71,387.39 333.56,387.79 333.39,388.19 333.22,388.6 333.05,389 332.86,389.4 332.67,389.81 332.47,390.21 332.27,390.61 332.06,391.02 331.84,391.49 331.62,391.96 331.38,392.43 331.15,392.9 330.93,393.37 330.73,393.84 330.54,394.37 330.37,394.91 330.2,395.45 330.05,395.99 329.89,396.52 329.74,397.06 329.58,397.53 329.4,398 329.23,398.47 329.07,398.94 328.95,399.41 328.87,399.88 328.84,400.08 328.84,400.29 328.88,400.49 328.94,400.69 329.02,400.89 329.1,401.09 329.21,401.29 329.36,401.49 329.52,401.7 329.68,401.9 329.82,402.1 329.91,402.3" fill="#F5860F" stroke="#2a2a2a" stroke-width="0.65" stroke-linejoin="round"/>
<line x1="334.67" y1="339.84" x2="334.67" y2="283.42" stroke="#333" stroke-width="0.5"/>
<rect x="333.47" y="339.84" width="2.4" height="62.46" fill="#F5860F" stroke="#333" stroke-width="0.45"/>
<line x1="333.47" y1="402.3" x2="335.87" y2="402.3" stroke="#222" stroke-width="0.8"/>
<polygon points="351.8,402.3 351.89,402.1 352.03,401.9 352.19,401.7 352.35,401.49 352.5,401.29 352.61,401.09 352.69,400.89 352.77,400.69 352.83,400.49 352.87,400.29 352.87,400.08 352.84,399.88 352.76,399.37 352.64,398.85 352.48,398.34 352.31,397.83 352.13,397.31 351.97,396.8 351.82,396.23 351.66,395.67 351.51,395.11 351.34,394.54 351.17,393.98 350.98,393.41 350.78,392.92 350.56,392.43 350.33,391.93 350.09,391.44 349.87,390.95 349.65,390.45 349.44,390.03 349.24,389.61 349.04,389.18 348.85,388.76 348.66,388.34 348.49,387.91 348.32,387.49 348.15,387.07 348,386.64 347.85,386.22 347.72,385.8 347.62,385.37 347.54,384.81 347.48,384.25 347.45,383.68 347.42,383.12 347.4,382.55 347.39,381.99 347.38,380.67 347.38,379.36 347.39,378.04 347.4,376.72 347.42,375.41 347.44,374.09 347.46,370.73 347.48,367.37 347.51,364.01 347.54,360.66 347.58,357.3 347.64,353.94 347.72,351.25 347.82,348.57 347.93,345.88 348.04,343.19 348.15,340.51 348.24,337.82 348.33,335.81 348.43,333.79 348.52,331.78 348.59,329.76 348.63,327.75 348.64,325.73 348.6,323.04 348.51,320.36 348.4,317.67 348.28,314.98 348.15,312.3 348.04,309.61 347.94,306.25 347.83,302.89 347.72,299.54 347.61,296.18 347.52,292.82 347.44,289.46 347.38,284.69 347.32,279.92 347.28,275.15 347.24,270.38 347.21,265.62 347.19,260.85 346.89,260.85 346.87,265.62 346.84,270.38 346.8,275.15 346.76,279.92 346.7,284.69 346.64,289.46 346.56,292.82 346.47,296.18 346.36,299.54 346.25,302.89 346.14,306.25 346.04,309.61 345.93,312.3 345.8,314.98 345.68,317.67 345.57,320.36 345.48,323.04 345.44,325.73 345.45,327.75 345.49,329.76 345.56,331.78 345.65,333.79 345.75,335.81 345.84,337.82 345.93,340.51 346.04,343.19 346.15,345.88 346.26,348.57 346.36,351.25 346.44,353.94 346.5,357.3 346.54,360.66 346.57,364.01 346.6,367.37 346.62,370.73 346.64,374.09 346.66,375.41 346.68,376.72 346.69,378.04 346.7,379.36 346.7,380.67 346.69,381.99 346.68,382.55 346.66,383.12 346.63,383.68 346.6,384.25 346.54,384.81 346.46,385.37 346.36,385.8 346.23,386.22 346.08,386.64 345.93,387.07 345.76,387.49 345.59,387.91 345.42,388.34 345.23,388.76 345.04,389.18 344.84,389.61 344.64,390.03 344.43,390.45 344.21,390.95 343.99,391.44 343.75,391.93 343.52,392.43 343.3,392.92 343.1,393.41 342.91,393.98 342.74,394.54 342.57,395.11 342.42,395.67 342.26,396.23 342.11,396.8 341.95,397.31 341.77,397.83 341.6,398.34 341.44,398.85 341.32,399.37 341.24,399.88 341.21,400.08 341.21,400.29 341.25,400.49 341.31,400.69 341.39,400.89 341.47,401.09 341.58,401.29 341.73,401.49 341.89,401.7 342.05,401.9 342.19,402.1 342.28,402.3" fill="#DB9700" stroke="#2a2a2a" stroke-width="0.65" stroke-linejoin="round"/>
<line x1="347.04" y1="326.13" x2="347.04" y2="260.85" stroke="#333" stroke-width="0.5"/>
<rect x="345.84" y="326.13" width="2.4" height="76.17" fill="#DB9700" stroke="#333" stroke-width="0.45"/>
<line x1="345.84" y1="402.3" x2="348.24" y2="402.3" stroke="#222" stroke-width="0.8"/>
<polygon points="364.17,402.3 364.26,402.1 364.4,401.9 364.56,401.7 364.72,401.49 364.87,401.29 364.98,401.09 365.06,400.89 365.14,400.69 365.2,400.49 365.24,400.29 365.24,400.08 365.21,399.88 365.13,399.32 365.01,398.77 364.85,398.21 364.68,397.65 364.5,397.09 364.34,396.54 364.19,395.95 364.03,395.35 363.88,394.76 363.71,394.17 363.54,393.58 363.35,392.99 363.15,392.47 362.93,391.96 362.7,391.44 362.46,390.92 362.24,390.4 362.02,389.89 361.81,389.44 361.61,389 361.41,388.56 361.22,388.11 361.03,387.67 360.86,387.23 360.69,386.78 360.52,386.34 360.37,385.9 360.22,385.45 360.09,385.01 359.99,384.57 359.91,383.98 359.85,383.39 359.82,382.79 359.79,382.2 359.77,381.61 359.76,381.02 359.75,379.87 359.75,378.71 359.75,377.56 359.76,376.4 359.78,375.25 359.81,374.09 359.84,370.73 359.87,367.37 359.91,364.01 359.96,360.66 360.02,357.3 360.11,353.94 360.23,351.93 360.37,349.91 360.52,347.89 360.69,345.88 360.85,343.87 361.01,341.85 361.18,339.5 361.36,337.15 361.55,334.8 361.71,332.45 361.84,330.1 361.91,327.75 361.91,325.39 361.87,323.04 361.79,320.69 361.67,318.34 361.54,315.99 361.41,313.64 361.25,310.95 361.07,308.27 360.86,305.58 360.65,302.89 360.47,300.21 360.31,297.52 360.19,294.83 360.09,292.15 360.01,289.46 359.94,286.77 359.87,284.09 359.81,281.4 359.75,279.39 359.7,277.37 359.65,275.36 359.62,273.34 359.58,271.33 359.56,269.31 359.26,269.31 359.24,271.33 359.2,273.34 359.17,275.36 359.12,277.37 359.07,279.39 359.01,281.4 358.95,284.09 358.88,286.77 358.81,289.46 358.73,292.15 358.63,294.83 358.51,297.52 358.35,300.21 358.17,302.89 357.96,305.58 357.75,308.27 357.57,310.95 357.41,313.64 357.28,315.99 357.15,318.34 357.04,320.69 356.95,323.04 356.91,325.39 356.91,327.75 356.98,330.1 357.11,332.45 357.27,334.8 357.46,337.15 357.64,339.5 357.81,341.85 357.97,343.87 358.13,345.88 358.3,347.89 358.45,349.91 358.59,351.93 358.71,353.94 358.8,357.3 358.86,360.66 358.91,364.01 358.95,367.37 358.98,370.73 359.01,374.09 359.04,375.25 359.06,376.4 359.07,377.56 359.07,378.71 359.07,379.87 359.06,381.02 359.05,381.61 359.03,382.2 359,382.79 358.97,383.39 358.91,383.98 358.83,384.57 358.73,385.01 358.6,385.45 358.45,385.9 358.3,386.34 358.13,386.78 357.96,387.23 357.79,387.67 357.6,388.11 357.41,388.56 357.21,389 357.01,389.44 356.8,389.89 356.58,390.4 356.36,390.92 356.12,391.44 355.89,391.96 355.67,392.47 355.47,392.99 355.28,393.58 355.11,394.17 354.94,394.76 354.79,395.35 354.63,395.95 354.48,396.54 354.32,397.09 354.14,397.65 353.97,398.21 353.81,398.77 353.69,399.32 353.61,399.88 353.58,400.08 353.58,400.29 353.62,400.49 353.68,400.69 353.76,400.89 353.84,401.09 353.95,401.29 354.1,401.49 354.26,401.7 354.42,401.9 354.56,402.1 354.65,402.3" fill="#ABA300" stroke="#2a2a2a" stroke-width="0.65" stroke-linejoin="round"/>
<line x1="359.41" y1="329.76" x2="359.41" y2="269.31" stroke="#333" stroke-width="0.5"/>
<rect x="358.21" y="329.76" width="2.4" height="72.54" fill="#ABA300" stroke="#333" stroke-width="0.45"/>
<line x1="358.21" y1="402.3" x2="360.61" y2="402.3" stroke="#222" stroke-width="0.8"/>
<polygon points="376.54,402.3 376.63,402.1 376.77,401.9 376.93,401.7 377.09,401.49 377.24,401.29 377.35,401.09 377.43,400.89 377.51,400.69 377.57,400.49 377.61,400.29 377.61,400.08 377.58,399.88 377.5,399.15 377.38,398.42 377.22,397.69 377.05,396.95 376.87,396.22 376.71,395.49 376.56,394.79 376.4,394.09 376.25,393.39 376.08,392.7 375.91,392 375.72,391.3 375.52,390.69 375.3,390.08 375.07,389.46 374.83,388.85 374.61,388.24 374.39,387.63 374.18,387.11 373.98,386.58 373.78,386.06 373.59,385.54 373.4,385.01 373.23,384.49 373.06,383.96 372.89,383.44 372.74,382.92 372.59,382.39 372.46,381.87 372.36,381.34 372.28,380.65 372.22,379.95 372.18,379.25 372.16,378.55 372.14,377.85 372.13,377.15 372.12,375.97 372.12,374.79 372.14,373.61 372.16,372.42 372.19,371.24 372.23,370.06 372.28,367.37 372.34,364.69 372.42,362 372.5,359.31 372.59,356.63 372.68,353.94 372.79,351.59 372.91,349.24 373.03,346.89 373.16,344.54 373.28,342.19 373.38,339.84 373.47,337.48 373.57,335.13 373.65,332.78 373.72,330.43 373.76,328.08 373.78,325.73 373.77,323.72 373.72,321.7 373.66,319.69 373.58,317.67 373.48,315.65 373.38,313.64 373.25,311.62 373.1,309.61 372.94,307.6 372.77,305.58 372.62,303.56 372.48,301.55 372.36,298.93 372.25,296.31 372.15,293.69 372.06,291.07 371.99,288.45 371.93,285.83 371.63,285.83 371.57,288.45 371.5,291.07 371.41,293.69 371.31,296.31 371.2,298.93 371.08,301.55 370.94,303.56 370.79,305.58 370.62,307.6 370.46,309.61 370.31,311.62 370.18,313.64 370.08,315.65 369.98,317.67 369.9,319.69 369.84,321.7 369.79,323.72 369.78,325.73 369.8,328.08 369.84,330.43 369.91,332.78 369.99,335.13 370.09,337.48 370.18,339.84 370.28,342.19 370.4,344.54 370.53,346.89 370.65,349.24 370.77,351.59 370.88,353.94 370.97,356.63 371.06,359.31 371.14,362 371.22,364.69 371.28,367.37 371.33,370.06 371.37,371.24 371.4,372.42 371.42,373.61 371.44,374.79 371.44,375.97 371.43,377.15 371.42,377.85 371.4,378.55 371.38,379.25 371.34,379.95 371.28,380.65 371.2,381.34 371.1,381.87 370.97,382.39 370.82,382.92 370.67,383.44 370.5,383.96 370.33,384.49 370.16,385.01 369.97,385.54 369.78,386.06 369.58,386.58 369.38,387.11 369.17,387.63 368.95,388.24 368.73,388.85 368.49,389.46 368.26,390.08 368.04,390.69 367.84,391.3 367.65,392 367.48,392.7 367.31,393.39 367.16,394.09 367,394.79 366.85,395.49 366.69,396.22 366.51,396.95 366.34,397.69 366.18,398.42 366.06,399.15 365.98,399.88 365.95,400.08 365.95,400.29 365.99,400.49 366.05,400.69 366.13,400.89 366.21,401.09 366.32,401.29 366.47,401.49 366.63,401.7 366.79,401.9 366.93,402.1 367.02,402.3" fill="#72B000" stroke="#2a2a2a" stroke-width="0.65" stroke-linejoin="round"/>
<line x1="371.78" y1="337.82" x2="371.78" y2="285.83" stroke="#333" stroke-width="0.5"/>
<rect x="370.58" y="337.82" width="2.4" height="64.48" fill="#72B000" stroke="#333" stroke-width="0.45"/>
<line x1="370.58" y1="402.3" x2="372.98" y2="402.3" stroke="#222" stroke-width="0.8"/>
<polygon points="388.91,402.3 389,402.1 389.14,401.9 389.3,401.7 389.46,401.49 389.61,401.29 389.72,401.09 389.8,400.89 389.88,400.69 389.94,400.49 389.98,400.29 389.98,400.08 389.95,399.88 389.87,398.98 389.75,398.07 389.59,397.16 389.42,396.25 389.24,395.35 389.08,394.44 388.93,393.64 388.77,392.83 388.62,392.02 388.45,391.22 388.28,390.41 388.09,389.61 387.89,388.9 387.67,388.19 387.44,387.49 387.2,386.78 386.98,386.08 386.76,385.37 386.55,384.77 386.35,384.17 386.15,383.56 385.96,382.96 385.77,382.35 385.6,381.75 385.43,381.14 385.26,380.54 385.11,379.93 384.96,379.33 384.83,378.72 384.73,378.12 384.64,377.31 384.56,376.51 384.5,375.7 384.46,374.9 384.46,374.09 384.5,373.28 384.6,372.75 384.76,372.21 384.95,371.67 385.15,371.13 385.33,370.6 385.45,370.06 385.51,367.37 385.54,364.69 385.54,362 385.53,359.31 385.53,356.63 385.55,353.94 385.58,351.93 385.62,349.91 385.67,347.89 385.72,345.88 385.78,343.87 385.85,341.85 385.93,339.84 386.04,337.82 386.14,335.81 386.25,333.79 386.36,331.78 386.45,329.76 386.53,327.75 386.62,325.73 386.69,323.72 386.76,321.7 386.81,319.69 386.85,317.67 386.87,315.66 386.87,313.64 386.86,311.62 386.84,309.61 386.8,307.6 386.75,305.58 386.68,304.24 386.59,302.89 386.49,301.55 386.38,300.21 386.27,298.86 386.15,297.52 386.02,296.31 385.89,295.1 385.74,293.89 385.6,292.68 385.47,291.48 385.35,290.27 385.24,289.59 385.14,288.92 385.05,288.25 384.97,287.58 384.9,286.91 384.85,286.24 383.45,286.24 383.4,286.91 383.33,287.58 383.25,288.25 383.16,288.92 383.06,289.59 382.95,290.27 382.83,291.48 382.7,292.68 382.56,293.89 382.41,295.1 382.28,296.31 382.15,297.52 382.03,298.86 381.92,300.21 381.81,301.55 381.71,302.89 381.62,304.24 381.55,305.58 381.5,307.6 381.46,309.61 381.44,311.62 381.43,313.64 381.43,315.66 381.45,317.67 381.49,319.69 381.54,321.7 381.61,323.72 381.68,325.73 381.77,327.75 381.85,329.76 381.94,331.78 382.05,333.79 382.16,335.81 382.26,337.82 382.37,339.84 382.45,341.85 382.52,343.87 382.58,345.88 382.63,347.89 382.68,349.91 382.72,351.93 382.75,353.94 382.77,356.63 382.77,359.31 382.76,362 382.76,364.69 382.79,367.37 382.85,370.06 382.97,370.6 383.15,371.13 383.35,371.67 383.54,372.21 383.7,372.75 383.8,373.28 383.84,374.09 383.84,374.9 383.8,375.7 383.74,376.51 383.66,377.31 383.57,378.12 383.47,378.72 383.34,379.33 383.19,379.93 383.04,380.54 382.87,381.14 382.7,381.75 382.53,382.35 382.34,382.96 382.15,383.56 381.95,384.17 381.75,384.77 381.54,385.37 381.32,386.08 381.1,386.78 380.86,387.49 380.63,388.19 380.41,388.9 380.21,389.61 380.02,390.41 379.85,391.22 379.68,392.02 379.53,392.83 379.37,393.64 379.22,394.44 379.06,395.35 378.88,396.25 378.71,397.16 378.55,398.07 378.43,398.98 378.35,399.88 378.32,400.08 378.32,400.29 378.36,400.49 378.42,400.69 378.5,400.89 378.58,401.09 378.69,401.29 378.84,401.49 379,401.7 379.16,401.9 379.3,402.1 379.39,402.3" fill="#0CB702" stroke="#2a2a2a" stroke-width="0.65" stroke-linejoin="round"/>
<line x1="384.15" y1="326.94" x2="384.15" y2="286.24" stroke="#333" stroke-width="0.5"/>
<rect x="382.95" y="326.94" width="2.4" height="75.36" fill="#0CB702" stroke="#333" stroke-width="0.45"/>
<line x1="382.95" y1="402.3" x2="385.35" y2="402.3" stroke="#222" stroke-width="0.8"/>
<polygon points="401.28,402.3 401.37,402.1 401.51,401.9 401.67,401.7 401.83,401.49 401.98,401.29 402.09,401.09 402.17,400.89 402.25,400.69 402.31,400.49 402.35,400.29 402.35,400.08 402.32,399.88 402.24,399.19 402.12,398.51 401.96,397.82 401.79,397.13 401.61,396.44 401.45,395.75 401.3,395.08 401.14,394.41 400.99,393.74 400.82,393.06 400.65,392.39 400.46,391.72 400.26,391.13 400.04,390.55 399.81,389.96 399.57,389.37 399.35,388.78 399.13,388.19 398.92,387.69 398.72,387.19 398.52,386.68 398.33,386.18 398.14,385.68 397.97,385.17 397.8,384.67 397.63,384.17 397.48,383.66 397.33,383.16 397.2,382.65 397.1,382.15 397.02,381.48 396.96,380.81 396.92,380.13 396.89,379.46 396.88,378.79 396.87,378.12 396.87,376.78 396.88,375.43 396.9,374.09 396.93,372.75 396.97,371.4 397.02,370.06 397.09,369.05 397.17,368.05 397.26,367.04 397.36,366.03 397.44,365.02 397.52,364.01 397.59,362.67 397.66,361.33 397.73,359.99 397.78,358.64 397.81,357.3 397.82,355.96 397.79,354.28 397.74,352.6 397.67,350.92 397.58,349.24 397.5,347.56 397.42,345.88 397.35,343.19 397.27,340.51 397.19,337.82 397.11,335.13 397.04,332.45 396.97,329.76 396.91,326.94 396.85,324.12 396.79,321.3 396.74,318.48 396.7,315.65 396.67,312.83 396.37,312.83 396.34,315.65 396.3,318.48 396.25,321.3 396.19,324.12 396.13,326.94 396.07,329.76 396,332.45 395.93,335.13 395.85,337.82 395.77,340.51 395.69,343.19 395.62,345.88 395.54,347.56 395.46,349.24 395.37,350.92 395.3,352.6 395.25,354.28 395.22,355.96 395.23,357.3 395.26,358.64 395.31,359.99 395.38,361.33 395.45,362.67 395.52,364.01 395.6,365.02 395.68,366.03 395.78,367.04 395.87,368.05 395.95,369.05 396.02,370.06 396.07,371.4 396.11,372.75 396.14,374.09 396.16,375.43 396.17,376.78 396.17,378.12 396.16,378.79 396.15,379.46 396.12,380.13 396.08,380.81 396.02,381.48 395.94,382.15 395.84,382.65 395.71,383.16 395.56,383.66 395.41,384.17 395.24,384.67 395.07,385.17 394.9,385.68 394.71,386.18 394.52,386.68 394.32,387.19 394.12,387.69 393.91,388.19 393.69,388.78 393.47,389.37 393.23,389.96 393,390.55 392.78,391.13 392.58,391.72 392.39,392.39 392.22,393.06 392.05,393.74 391.9,394.41 391.74,395.08 391.59,395.75 391.43,396.44 391.25,397.13 391.08,397.82 390.92,398.51 390.8,399.19 390.72,399.88 390.69,400.08 390.69,400.29 390.73,400.49 390.79,400.69 390.87,400.89 390.95,401.09 391.06,401.29 391.21,401.49 391.37,401.7 391.53,401.9 391.67,402.1 391.76,402.3" fill="#00BE67" stroke="#2a2a2a" stroke-width="0.65" stroke-linejoin="round"/>
<line x1="396.52" y1="364.01" x2="396.52" y2="312.83" stroke="#333" stroke-width="0.5"/>
<rect x="395.32" y="364.01" width="2.4" height="38.29" fill="#00BE67" stroke="#333" stroke-width="0.45"/>
<line x1="395.32" y1="402.3" x2="397.72" y2="402.3" stroke="#222" stroke-width="0.8"/>
<polygon points="413.65,402.3 413.74,402.1 413.88,401.9 414.04,401.7 414.2,401.49 414.35,401.29 414.46,401.09 414.54,400.89 414.62,400.69 414.68,400.49 414.72,400.29 414.72,400.08 414.69,399.88 414.61,399.19 414.49,398.51 414.33,397.82 414.16,397.13 413.98,396.44 413.82,395.75 413.67,395.08 413.51,394.41 413.36,393.74 413.19,393.06 413.02,392.39 412.83,391.72 412.63,391.13 412.41,390.55 412.18,389.96 411.94,389.37 411.72,388.78 411.5,388.19 411.29,387.69 411.09,387.19 410.89,386.68 410.7,386.18 410.51,385.68 410.34,385.17 410.17,384.67 410,384.17 409.85,383.66 409.7,383.16 409.57,382.65 409.47,382.15 409.39,381.48 409.33,380.81 409.29,380.13 409.26,379.46 409.25,378.79 409.24,378.12 409.24,376.44 409.25,374.76 409.28,373.08 409.31,371.4 409.35,369.72 409.39,368.05 409.43,367.04 409.48,366.03 409.53,365.02 409.58,364.01 409.64,363.01 409.69,362 409.75,360.66 409.81,359.31 409.88,357.97 409.93,356.63 409.97,355.28 409.99,353.94 409.98,351.93 409.94,349.91 409.88,347.89 409.82,345.88 409.75,343.87 409.69,341.85 409.63,338.49 409.57,335.13 409.51,331.78 409.44,328.42 409.39,325.06 409.34,321.7 409.3,319.01 409.28,316.33 409.25,313.64 409.23,310.95 409.21,308.27 409.19,305.58 409.16,303.09 409.13,300.61 409.11,298.12 409.08,295.64 409.06,293.15 409.04,290.67 408.74,290.67 408.72,293.15 408.7,295.64 408.67,298.12 408.65,300.61 408.62,303.09 408.59,305.58 408.57,308.27 408.55,310.95 408.53,313.64 408.5,316.33 408.48,319.01 408.44,321.7 408.39,325.06 408.34,328.42 408.27,331.78 408.21,335.13 408.15,338.49 408.09,341.85 408.03,343.87 407.96,345.88 407.9,347.89 407.84,349.91 407.8,351.93 407.79,353.94 407.81,355.28 407.85,356.63 407.9,357.97 407.97,359.31 408.03,360.66 408.09,362 408.14,363.01 408.2,364.01 408.25,365.02 408.3,366.03 408.35,367.04 408.39,368.05 408.43,369.72 408.47,371.4 408.5,373.08 408.53,374.76 408.54,376.44 408.54,378.12 408.53,378.79 408.52,379.46 408.49,380.13 408.45,380.81 408.39,381.48 408.31,382.15 408.21,382.65 408.08,383.16 407.93,383.66 407.78,384.17 407.61,384.67 407.44,385.17 407.27,385.68 407.08,386.18 406.89,386.68 406.69,387.19 406.49,387.69 406.28,388.19 406.06,388.78 405.84,389.37 405.6,389.96 405.37,390.55 405.15,391.13 404.95,391.72 404.76,392.39 404.59,393.06 404.42,393.74 404.27,394.41 404.11,395.08 403.96,395.75 403.8,396.44 403.62,397.13 403.45,397.82 403.29,398.51 403.17,399.19 403.09,399.88 403.06,400.08 403.06,400.29 403.1,400.49 403.16,400.69 403.24,400.89 403.32,401.09 403.43,401.29 403.58,401.49 403.74,401.7 403.9,401.9 404.04,402.1 404.13,402.3" fill="#00C19A" stroke="#2a2a2a" stroke-width="0.65" stroke-linejoin="round"/>
<line x1="408.89" y1="355.55" x2="408.89" y2="290.67" stroke="#333" stroke-width="0.5"/>
<rect x="407.69" y="355.55" width="2.4" height="46.75" fill="#00C19A" stroke="#333" stroke-width="0.45"/>
<line x1="407.69" y1="402.3" x2="410.09" y2="402.3" stroke="#222" stroke-width="0.8"/>
<polygon points="426.02,402.3 426.11,402.1 426.25,401.9 426.41,401.7 426.57,401.49 426.72,401.29 426.83,401.09 426.91,400.89 426.99,400.69 427.05,400.49 427.09,400.29 427.09,400.08 427.06,399.88 426.98,399.15 426.86,398.42 426.7,397.69 426.53,396.95 426.35,396.22 426.19,395.49 426.04,394.79 425.88,394.09 425.73,393.39 425.56,392.7 425.39,392 425.2,391.3 425,390.69 424.78,390.08 424.55,389.46 424.31,388.85 424.09,388.24 423.87,387.63 423.66,387.11 423.46,386.58 423.26,386.06 423.07,385.54 422.88,385.01 422.71,384.49 422.54,383.96 422.37,383.44 422.22,382.92 422.07,382.39 421.94,381.87 421.84,381.34 421.76,380.65 421.7,379.95 421.66,379.25 421.63,378.55 421.62,377.85 421.61,377.15 421.61,375.63 421.62,374.12 421.64,372.6 421.68,371.08 421.72,369.56 421.76,368.05 421.81,365.69 421.87,363.34 421.94,360.99 422.01,358.64 422.08,356.29 422.16,353.94 422.25,351.25 422.35,348.57 422.45,345.88 422.54,343.19 422.62,340.51 422.66,337.82 422.67,336.48 422.65,335.13 422.62,333.79 422.57,332.45 422.51,331.1 422.46,329.76 422.4,327.07 422.34,324.39 422.27,321.7 422.2,319.01 422.13,316.33 422.06,313.64 422,310.95 421.94,308.27 421.88,305.58 421.82,302.89 421.76,300.21 421.71,297.52 421.65,294.43 421.6,291.34 421.54,288.25 421.49,285.16 421.44,282.07 421.41,278.98 421.11,278.98 421.08,282.07 421.03,285.16 420.98,288.25 420.92,291.34 420.87,294.43 420.81,297.52 420.76,300.21 420.7,302.89 420.64,305.58 420.58,308.27 420.52,310.95 420.46,313.64 420.39,316.33 420.32,319.01 420.25,321.7 420.18,324.39 420.12,327.07 420.06,329.76 420.01,331.1 419.95,332.45 419.9,333.79 419.87,335.13 419.85,336.48 419.86,337.82 419.9,340.51 419.98,343.19 420.07,345.88 420.17,348.57 420.27,351.25 420.36,353.94 420.44,356.29 420.51,358.64 420.58,360.99 420.65,363.34 420.71,365.69 420.76,368.05 420.8,369.56 420.84,371.08 420.88,372.6 420.9,374.12 420.91,375.63 420.91,377.15 420.9,377.85 420.89,378.55 420.86,379.25 420.82,379.95 420.76,380.65 420.68,381.34 420.58,381.87 420.45,382.39 420.3,382.92 420.15,383.44 419.98,383.96 419.81,384.49 419.64,385.01 419.45,385.54 419.26,386.06 419.06,386.58 418.86,387.11 418.65,387.63 418.43,388.24 418.21,388.85 417.97,389.46 417.74,390.08 417.52,390.69 417.32,391.3 417.13,392 416.96,392.7 416.79,393.39 416.64,394.09 416.48,394.79 416.33,395.49 416.17,396.22 415.99,396.95 415.82,397.69 415.66,398.42 415.54,399.15 415.46,399.88 415.43,400.08 415.43,400.29 415.47,400.49 415.53,400.69 415.61,400.89 415.69,401.09 415.8,401.29 415.95,401.49 416.11,401.7 416.27,401.9 416.41,402.1 416.5,402.3" fill="#00BFC4" stroke="#2a2a2a" stroke-width="0.65" stroke-linejoin="round"/>
<line x1="421.26" y1="336.61" x2="421.26" y2="278.98" stroke="#333" stroke-width="0.5"/>
<rect x="420.06" y="336.61" width="2.4" height="65.69" fill="#00BFC4" stroke="#333" stroke-width="0.45"/>
<line x1="420.06" y1="402.3" x2="422.46" y2="402.3" stroke="#222" stroke-width="0.8"/>
<polygon points="438.39,402.3 438.48,402.1 438.62,401.9 438.78,401.7 438.94,401.49 439.09,401.29 439.2,401.09 439.28,400.89 439.36,400.69 439.42,400.49 439.46,400.29 439.46,400.08 439.43,399.88 439.35,399.15 439.23,398.42 439.07,397.69 438.9,396.95 438.72,396.22 438.56,395.49 438.41,394.79 438.25,394.09 438.1,393.39 437.93,392.7 437.76,392 437.57,391.3 437.37,390.69 437.15,390.08 436.92,389.46 436.68,388.85 436.46,388.24 436.24,387.63 436.03,387.11 435.83,386.58 435.63,386.06 435.44,385.54 435.25,385.01 435.08,384.49 434.91,383.96 434.74,383.44 434.59,382.92 434.44,382.39 434.31,381.87 434.21,381.34 434.13,380.65 434.07,379.95 434.03,379.25 434,378.55 433.99,377.85 433.98,377.15 433.98,375.63 433.99,374.12 434.01,372.6 434.05,371.08 434.09,369.56 434.13,368.05 434.18,365.69 434.24,363.34 434.31,360.99 434.38,358.64 434.45,356.29 434.53,353.94 434.62,351.25 434.72,348.57 434.82,345.88 434.91,343.19 434.99,340.51 435.03,337.82 435.04,336.48 435.02,335.13 434.99,333.79 434.94,332.45 434.88,331.1 434.83,329.76 434.77,327.07 434.71,324.39 434.64,321.7 434.57,319.01 434.5,316.33 434.43,313.64 434.37,310.95 434.31,308.27 434.25,305.58 434.19,302.89 434.13,300.21 434.08,297.52 434.02,294.7 433.97,291.88 433.91,289.06 433.86,286.24 433.81,283.42 433.78,280.59 433.48,280.59 433.45,283.42 433.4,286.24 433.35,289.06 433.29,291.88 433.24,294.7 433.18,297.52 433.13,300.21 433.07,302.89 433.01,305.58 432.95,308.27 432.89,310.95 432.83,313.64 432.76,316.33 432.69,319.01 432.62,321.7 432.55,324.39 432.49,327.07 432.43,329.76 432.38,331.1 432.32,332.45 432.27,333.79 432.24,335.13 432.22,336.48 432.23,337.82 432.27,340.51 432.35,343.19 432.44,345.88 432.54,348.57 432.64,351.25 432.73,353.94 432.81,356.29 432.88,358.64 432.95,360.99 433.02,363.34 433.08,365.69 433.13,368.05 433.17,369.56 433.21,371.08 433.25,372.6 433.27,374.12 433.28,375.63 433.28,377.15 433.27,377.85 433.26,378.55 433.23,379.25 433.19,379.95 433.13,380.65 433.05,381.34 432.95,381.87 432.82,382.39 432.67,382.92 432.52,383.44 432.35,383.96 432.18,384.49 432.01,385.01 431.82,385.54 431.63,386.06 431.43,386.58 431.23,387.11 431.02,387.63 430.8,388.24 430.58,388.85 430.34,389.46 430.11,390.08 429.89,390.69 429.69,391.3 429.5,392 429.33,392.7 429.16,393.39 429.01,394.09 428.85,394.79 428.7,395.49 428.54,396.22 428.36,396.95 428.19,397.69 428.03,398.42 427.91,399.15 427.83,399.88 427.8,400.08 427.8,400.29 427.84,400.49 427.9,400.69 427.98,400.89 428.06,401.09 428.17,401.29 428.32,401.49 428.48,401.7 428.64,401.9 428.78,402.1 428.87,402.3" fill="#00B8E7" stroke="#2a2a2a" stroke-width="0.65" stroke-linejoin="round"/>
<line x1="433.63" y1="337.42" x2="433.63" y2="280.59" stroke="#333" stroke-width="0.5"/>
<rect x="432.43" y="337.42" width="2.4" height="64.88" fill="#00B8E7" stroke="#333" stroke-width="0.45"/>
<line x1="432.43" y1="402.3" x2="434.83" y2="402.3" stroke="#222" stroke-width="0.8"/>
<polygon points="450.76,402.3 450.85,402.1 450.99,401.9 451.15,401.7 451.31,401.49 451.46,401.29 451.57,401.09 451.65,400.89 451.74,400.69 451.8,400.49 451.84,400.29 451.84,400.08 451.8,399.88 451.71,399.28 451.57,398.67 451.39,398.07 451.19,397.46 450.97,396.86 450.76,396.25 450.52,395.25 450.26,394.24 449.98,393.23 449.7,392.23 449.43,391.22 449.19,390.21 448.97,389.2 448.76,388.19 448.56,387.19 448.38,386.18 448.22,385.17 448.09,384.17 447.99,383.16 447.92,382.15 447.87,381.14 447.83,380.13 447.79,379.13 447.74,378.12 447.67,376.78 447.58,375.43 447.5,374.09 447.43,372.75 447.39,371.4 447.4,370.06 447.46,369.05 447.57,368.05 447.71,367.04 447.87,366.03 448.04,365.02 448.2,364.01 448.37,362.67 448.56,361.33 448.76,359.99 448.95,358.64 449.14,357.3 449.3,355.96 449.45,353.94 449.61,351.93 449.75,349.91 449.87,347.9 449.96,345.88 450,343.87 450,341.51 449.95,339.16 449.88,336.81 449.77,334.46 449.64,332.11 449.5,329.76 449.33,327.07 449.11,324.39 448.88,321.7 448.64,319.01 448.41,316.33 448.2,313.64 448.02,311.62 447.84,309.61 447.68,307.6 447.52,305.58 447.36,303.56 447.2,301.55 447.02,299.54 446.83,297.52 446.64,295.5 446.46,293.49 446.31,291.48 446.2,289.46 445.8,289.46 445.69,291.48 445.54,293.49 445.36,295.5 445.17,297.52 444.98,299.54 444.8,301.55 444.64,303.56 444.48,305.58 444.32,307.6 444.16,309.61 443.98,311.62 443.8,313.64 443.59,316.33 443.36,319.01 443.12,321.7 442.89,324.39 442.67,327.07 442.5,329.76 442.36,332.11 442.23,334.46 442.12,336.81 442.05,339.16 442,341.51 442,343.87 442.04,345.88 442.13,347.9 442.25,349.91 442.39,351.93 442.55,353.94 442.7,355.96 442.86,357.3 443.05,358.64 443.24,359.99 443.44,361.33 443.63,362.67 443.8,364.01 443.96,365.02 444.13,366.03 444.29,367.04 444.43,368.05 444.54,369.05 444.6,370.06 444.61,371.4 444.57,372.75 444.5,374.09 444.42,375.43 444.33,376.78 444.26,378.12 444.21,379.13 444.17,380.13 444.13,381.14 444.08,382.15 444.01,383.16 443.91,384.17 443.78,385.17 443.62,386.18 443.44,387.19 443.24,388.19 443.03,389.2 442.81,390.21 442.57,391.22 442.3,392.23 442.02,393.23 441.74,394.24 441.48,395.25 441.24,396.25 441.03,396.86 440.81,397.46 440.61,398.07 440.43,398.67 440.29,399.28 440.2,399.88 440.16,400.08 440.16,400.29 440.2,400.49 440.26,400.69 440.35,400.89 440.43,401.09 440.54,401.29 440.69,401.49 440.85,401.7 441.01,401.9 441.15,402.1 441.24,402.3" fill="#00A9FF" stroke="#2a2a2a" stroke-width="0.65" stroke-linejoin="round"/>
<line x1="446" y1="341.04" x2="446" y2="289.46" stroke="#333" stroke-width="0.5"/>
<line x1="446" y1="402.3" x2="446" y2="357.97" stroke="#333" stroke-width="0.5"/>
<rect x="444.5" y="341.04" width="3.0" height="16.93" fill="#00A9FF" stroke="#333" stroke-width="0.45"/>
<line x1="444.5" y1="356.76" x2="447.5" y2="356.76" stroke="#222" stroke-width="0.8"/>
<polygon points="463.13,402.3 463.2,402.1 463.3,401.9 463.42,401.7 463.54,401.49 463.64,401.29 463.71,401.09 463.74,400.76 463.76,400.42 463.76,400.08 463.73,399.75 463.68,399.41 463.59,399.08 463.46,398.27 463.28,397.46 463.08,396.66 462.86,395.85 462.64,395.05 462.43,394.24 462.23,393.23 462.02,392.23 461.81,391.22 461.61,390.21 461.43,389.2 461.27,388.19 461.14,387.19 461.04,386.18 460.96,385.17 460.89,384.17 460.83,383.16 460.77,382.15 460.71,381.34 460.66,380.54 460.61,379.73 460.58,378.93 460.57,378.12 460.57,377.31 460.6,376.11 460.65,374.9 460.72,373.69 460.8,372.48 460.88,371.27 460.97,370.06 461.06,368.72 461.16,367.37 461.27,366.03 461.38,364.69 461.48,363.34 461.57,362 461.65,358.64 461.73,355.28 461.8,351.93 461.87,348.57 461.92,345.21 461.97,341.85 462.01,338.49 462.03,335.13 462.05,331.78 462.06,328.42 462.07,325.06 462.07,321.7 462.07,320.36 462.07,319.01 462.06,317.67 462.05,316.33 462.02,314.98 461.97,313.64 461.9,312.97 461.81,312.3 461.71,311.62 461.6,310.95 461.49,310.28 461.37,309.61 461.24,309.41 461.09,309.21 460.93,309.01 460.78,308.8 460.66,308.6 460.57,308.4 456.17,308.4 456.08,308.6 455.96,308.8 455.81,309.01 455.65,309.21 455.5,309.41 455.37,309.61 455.25,310.28 455.14,310.95 455.03,311.62 454.93,312.3 454.84,312.97 454.77,313.64 454.72,314.98 454.69,316.33 454.68,317.67 454.67,319.01 454.67,320.36 454.67,321.7 454.67,325.06 454.68,328.42 454.69,331.78 454.71,335.13 454.73,338.49 454.77,341.85 454.82,345.21 454.87,348.57 454.94,351.93 455.01,355.28 455.09,358.64 455.17,362 455.26,363.34 455.36,364.69 455.47,366.03 455.58,367.37 455.68,368.72 455.77,370.06 455.86,371.27 455.94,372.48 456.02,373.69 456.09,374.9 456.14,376.11 456.17,377.31 456.17,378.12 456.16,378.93 456.13,379.73 456.08,380.54 456.03,381.34 455.97,382.15 455.91,383.16 455.85,384.17 455.78,385.17 455.7,386.18 455.6,387.19 455.47,388.19 455.31,389.2 455.13,390.21 454.93,391.22 454.72,392.23 454.51,393.23 454.31,394.24 454.1,395.05 453.88,395.85 453.66,396.66 453.46,397.46 453.28,398.27 453.15,399.08 453.06,399.41 453.01,399.75 452.98,400.08 452.98,400.42 453,400.76 453.03,401.09 453.1,401.29 453.2,401.49 453.32,401.7 453.44,401.9 453.54,402.1 453.61,402.3" fill="#8494FF" stroke="#2a2a2a" stroke-width="0.65" stroke-linejoin="round"/>
<line x1="458.37" y1="334.6" x2="458.37" y2="308.4" stroke="#333" stroke-width="0.5"/>
<line x1="458.37" y1="402.3" x2="458.37" y2="358.78" stroke="#333" stroke-width="0.5"/>
<rect x="456.87" y="334.6" width="3.0" height="24.18" fill="#8494FF" stroke="#333" stroke-width="0.45"/>
<line x1="456.87" y1="357.97" x2="459.87" y2="357.97" stroke="#222" stroke-width="0.8"/>
<polygon points="475.5,402.3 475.59,402.1 475.73,401.9 475.89,401.7 476.05,401.49 476.2,401.29 476.31,401.09 476.4,400.89 476.48,400.69 476.55,400.49 476.59,400.29 476.59,400.08 476.54,399.88 476.43,399.34 476.27,398.81 476.07,398.27 475.84,397.73 475.61,397.2 475.38,396.66 475.15,395.92 474.9,395.18 474.64,394.44 474.39,393.7 474.15,392.96 473.93,392.23 473.73,391.55 473.55,390.88 473.38,390.21 473.22,389.54 473.07,388.87 472.94,388.19 472.83,387.52 472.74,386.85 472.67,386.18 472.6,385.51 472.54,384.84 472.48,384.17 472.43,383.49 472.39,382.82 472.37,382.15 472.33,381.48 472.27,380.81 472.19,380.13 472.06,379.46 471.89,378.79 471.71,378.12 471.53,377.45 471.36,376.78 471.24,376.11 471.16,372.41 471.11,368.72 471.09,365.02 471.07,361.33 471.06,357.63 471.04,353.94 471.02,349.91 471,345.88 470.98,341.85 470.97,337.82 470.95,333.79 470.94,329.76 470.93,327.61 470.92,325.46 470.91,323.31 470.9,321.16 470.89,319.01 470.89,316.86 470.59,316.86 470.59,319.01 470.58,321.16 470.57,323.31 470.56,325.46 470.55,327.61 470.54,329.76 470.53,333.79 470.51,337.82 470.5,341.85 470.48,345.88 470.46,349.91 470.44,353.94 470.42,357.63 470.41,361.33 470.39,365.02 470.37,368.72 470.32,372.41 470.24,376.11 470.12,376.78 469.95,377.45 469.77,378.12 469.59,378.79 469.42,379.46 469.29,380.13 469.21,380.81 469.15,381.48 469.11,382.15 469.09,382.82 469.05,383.49 469,384.17 468.94,384.84 468.88,385.51 468.81,386.18 468.74,386.85 468.65,387.52 468.54,388.19 468.41,388.87 468.26,389.54 468.1,390.21 467.93,390.88 467.75,391.55 467.55,392.23 467.33,392.96 467.09,393.7 466.84,394.44 466.58,395.18 466.33,395.92 466.1,396.66 465.87,397.2 465.64,397.73 465.41,398.27 465.21,398.81 465.05,399.34 464.94,399.88 464.89,400.08 464.89,400.29 464.93,400.49 465,400.69 465.08,400.89 465.17,401.09 465.28,401.29 465.43,401.49 465.59,401.7 465.75,401.9 465.89,402.1 465.98,402.3" fill="#C77CFF" stroke="#2a2a2a" stroke-width="0.65" stroke-linejoin="round"/>
<line x1="470.74" y1="379.33" x2="470.74" y2="345.88" stroke="#333" stroke-width="0.5"/>
<rect x="469.54" y="379.33" width="2.4" height="22.97" fill="#C77CFF" stroke="#333" stroke-width="0.45"/>
<line x1="469.54" y1="402.3" x2="471.94" y2="402.3" stroke="#222" stroke-width="0.8"/>
<circle cx="470.74" cy="316.86" r="1.2" fill="#222"/>
<circle cx="470.74" cy="323.72" r="1.2" fill="#222"/>
<circle cx="470.74" cy="329.76" r="1.2" fill="#222"/>
<circle cx="470.74" cy="332.18" r="1.2" fill="#222"/>
<circle cx="470.74" cy="337.01" r="1.2" fill="#222"/>
<circle cx="470.74" cy="340.64" r="1.2" fill="#222"/>
<polygon points="487.87,402.3 487.96,402.1 488.1,401.9 488.26,401.7 488.42,401.49 488.57,401.29 488.68,401.09 488.77,400.89 488.87,400.69 488.95,400.49 488.99,400.29 488.99,400.08 488.91,399.88 488.75,399.34 488.51,398.81 488.22,398.27 487.9,397.73 487.58,397.2 487.29,396.66 486.99,396.12 486.68,395.58 486.36,395.05 486.05,394.51 485.78,393.97 485.55,393.43 485.36,392.9 485.2,392.36 485.07,391.82 484.97,391.28 484.9,390.75 484.85,390.21 484.83,389.2 484.85,388.19 484.9,387.19 484.96,386.18 485.04,385.17 485.11,384.17 485.21,382.82 485.34,381.48 485.48,380.13 485.6,378.79 485.69,377.45 485.71,376.11 485.66,374.76 485.55,373.42 485.41,372.07 485.24,370.73 485.07,369.39 484.91,368.05 484.75,367.04 484.57,366.03 484.38,365.02 484.21,364.01 484.04,363.01 483.91,362 483.81,360.66 483.72,359.31 483.66,357.97 483.61,356.63 483.56,355.28 483.51,353.94 483.46,351.52 483.42,349.1 483.38,346.69 483.35,344.27 483.33,341.85 483.31,339.43 482.91,339.43 482.89,341.85 482.87,344.27 482.84,346.69 482.8,349.1 482.76,351.52 482.71,353.94 482.66,355.28 482.61,356.63 482.56,357.97 482.5,359.31 482.41,360.66 482.31,362 482.18,363.01 482.01,364.01 481.84,365.02 481.65,366.03 481.47,367.04 481.31,368.05 481.15,369.39 480.98,370.73 480.81,372.07 480.67,373.42 480.56,374.76 480.51,376.11 480.53,377.45 480.62,378.79 480.74,380.13 480.88,381.48 481.01,382.82 481.11,384.17 481.18,385.17 481.26,386.18 481.32,387.19 481.37,388.19 481.39,389.2 481.37,390.21 481.32,390.75 481.25,391.28 481.15,391.82 481.02,392.36 480.86,392.9 480.67,393.43 480.44,393.97 480.17,394.51 479.86,395.05 479.54,395.58 479.23,396.12 478.93,396.66 478.64,397.2 478.32,397.73 478,398.27 477.71,398.81 477.47,399.34 477.31,399.88 477.23,400.08 477.23,400.29 477.27,400.49 477.35,400.69 477.45,400.89 477.54,401.09 477.65,401.29 477.8,401.49 477.96,401.7 478.12,401.9 478.26,402.1 478.35,402.3" fill="#ED68ED" stroke="#2a2a2a" stroke-width="0.65" stroke-linejoin="round"/>
<line x1="483.11" y1="380.94" x2="483.11" y2="349.91" stroke="#333" stroke-width="0.5"/>
<rect x="481.91" y="380.94" width="2.4" height="21.36" fill="#ED68ED" stroke="#333" stroke-width="0.45"/>
<line x1="481.91" y1="402.3" x2="484.31" y2="402.3" stroke="#222" stroke-width="0.8"/>
<circle cx="483.11" cy="339.43" r="1.2" fill="#222"/>
<circle cx="483.11" cy="341.04" r="1.2" fill="#222"/>
<circle cx="483.11" cy="342.66" r="1.2" fill="#222"/>
<circle cx="483.11" cy="344.27" r="1.2" fill="#222"/>
<circle cx="483.11" cy="345.48" r="1.2" fill="#222"/>
<polygon points="500.24,402.3 500.33,402.1 500.47,401.9 500.63,401.7 500.79,401.49 500.94,401.29 501.05,401.09 501.14,400.89 501.23,400.69 501.31,400.49 501.35,400.29 501.35,400.08 501.28,399.88 501.14,399.34 500.93,398.81 500.68,398.27 500.4,397.73 500.11,397.2 499.83,396.66 499.55,395.92 499.26,395.18 498.96,394.44 498.66,393.7 498.37,392.96 498.09,392.23 497.81,391.22 497.53,390.21 497.26,389.2 497,388.19 496.77,387.19 496.58,386.18 496.43,384.84 496.31,383.49 496.22,382.15 496.16,380.81 496.11,379.46 496.08,378.12 496.06,376.78 496.07,375.43 496.09,374.09 496.13,372.75 496.19,371.4 496.28,370.06 496.41,368.72 496.58,367.37 496.78,366.03 496.98,364.69 497.15,363.34 497.28,362 497.37,360.66 497.43,359.31 497.47,357.97 497.49,356.63 497.5,355.28 497.48,353.94 497.44,352.6 497.38,351.25 497.3,349.91 497.2,348.57 497.09,347.22 496.98,345.88 496.84,345.07 496.68,344.27 496.5,343.46 496.33,342.66 496.18,341.85 496.08,341.04 494.88,341.04 494.78,341.85 494.63,342.66 494.46,343.46 494.28,344.27 494.12,345.07 493.98,345.88 493.87,347.22 493.76,348.57 493.66,349.91 493.58,351.25 493.52,352.6 493.48,353.94 493.46,355.28 493.47,356.63 493.49,357.97 493.53,359.31 493.59,360.66 493.68,362 493.81,363.34 493.98,364.69 494.18,366.03 494.38,367.37 494.55,368.72 494.68,370.06 494.77,371.4 494.83,372.75 494.87,374.09 494.89,375.43 494.9,376.78 494.88,378.12 494.85,379.46 494.8,380.81 494.74,382.15 494.65,383.49 494.53,384.84 494.38,386.18 494.19,387.19 493.96,388.19 493.7,389.2 493.43,390.21 493.15,391.22 492.87,392.23 492.59,392.96 492.3,393.7 492,394.44 491.7,395.18 491.41,395.92 491.13,396.66 490.85,397.2 490.56,397.73 490.28,398.27 490.03,398.81 489.82,399.34 489.68,399.88 489.61,400.08 489.61,400.29 489.65,400.49 489.73,400.69 489.82,400.89 489.91,401.09 490.02,401.29 490.17,401.49 490.33,401.7 490.49,401.9 490.63,402.1 490.72,402.3" fill="#FF61CC" stroke="#2a2a2a" stroke-width="0.65" stroke-linejoin="round"/>
<line x1="495.48" y1="373.28" x2="495.48" y2="341.04" stroke="#333" stroke-width="0.5"/>
<rect x="494.28" y="373.28" width="2.4" height="29.02" fill="#FF61CC" stroke="#333" stroke-width="0.45"/>
<line x1="494.28" y1="402.3" x2="496.68" y2="402.3" stroke="#222" stroke-width="0.8"/>
<polygon points="513.07,402.3 513.17,402.1 513.33,401.9 513.5,401.7 513.68,401.49 513.84,401.29 513.94,401.09 514,400.76 514.05,400.42 514.07,400.08 514.06,399.75 514.02,399.41 513.94,399.08 513.82,398.27 513.65,397.46 513.45,396.66 513.23,395.85 513,395.05 512.78,394.24 512.55,392.9 512.3,391.55 512.04,390.21 511.78,388.87 511.54,387.52 511.33,386.18 511.14,384.84 510.97,383.49 510.81,382.15 510.67,380.81 510.55,379.46 510.45,378.12 510.36,377.05 510.29,375.97 510.23,374.9 510.2,373.82 510.21,372.75 510.25,371.67 510.33,370.06 510.45,368.45 510.61,366.84 510.79,365.22 511.01,363.61 511.25,362 511.55,359.99 511.92,357.97 512.31,355.96 512.71,353.94 513.06,351.93 513.35,349.91 513.58,347.89 513.77,345.88 513.93,343.87 514.04,341.85 514.12,339.84 514.15,337.82 514.13,335.81 514.07,333.79 513.96,331.78 513.82,329.76 513.65,327.75 513.45,325.73 513.21,323.72 512.93,321.7 512.62,319.69 512.29,317.67 511.96,315.65 511.65,313.64 511.35,311.96 511.04,310.28 510.73,308.6 510.42,306.92 510.13,305.24 509.85,303.56 509.58,302.69 509.3,301.82 509.04,300.95 508.8,300.07 508.6,299.2 508.45,298.33 507.25,298.33 507.1,299.2 506.9,300.07 506.66,300.95 506.4,301.82 506.12,302.69 505.85,303.56 505.57,305.24 505.28,306.92 504.98,308.6 504.66,310.28 504.35,311.96 504.05,313.64 503.74,315.65 503.41,317.67 503.08,319.69 502.77,321.7 502.49,323.72 502.25,325.73 502.05,327.75 501.88,329.76 501.74,331.78 501.63,333.79 501.57,335.81 501.55,337.82 501.58,339.84 501.66,341.85 501.78,343.87 501.93,345.88 502.12,347.89 502.35,349.91 502.64,351.93 502.99,353.94 503.39,355.96 503.78,357.97 504.15,359.99 504.45,362 504.69,363.61 504.91,365.22 505.09,366.84 505.25,368.45 505.37,370.06 505.45,371.67 505.49,372.75 505.5,373.82 505.47,374.9 505.41,375.97 505.34,377.05 505.25,378.12 505.15,379.46 505.03,380.81 504.89,382.15 504.73,383.49 504.56,384.84 504.37,386.18 504.16,387.52 503.92,388.87 503.66,390.21 503.4,391.55 503.15,392.9 502.92,394.24 502.7,395.05 502.47,395.85 502.25,396.66 502.05,397.46 501.88,398.27 501.76,399.08 501.68,399.41 501.64,399.75 501.63,400.08 501.65,400.42 501.7,400.76 501.76,401.09 501.86,401.29 502.02,401.49 502.2,401.7 502.37,401.9 502.53,402.1 502.63,402.3" fill="#FF68A1" stroke="#2a2a2a" stroke-width="0.65" stroke-linejoin="round"/>
<line x1="507.85" y1="339.43" x2="507.85" y2="298.33" stroke="#333" stroke-width="0.5"/>
<line x1="507.85" y1="402.3" x2="507.85" y2="356.36" stroke="#333" stroke-width="0.5"/>
<rect x="506.35" y="339.43" width="3.0" height="16.93" fill="#FF68A1" stroke="#333" stroke-width="0.45"/>
<line x1="506.35" y1="355.15" x2="509.35" y2="355.15" stroke="#222" stroke-width="0.8"/>
<path d="M314.5,245.6 V409.3 H516.1" fill="none" stroke="#333" stroke-width="0.9"/>
<path d="M312.3,402.3H314.5" stroke="#333" stroke-width="0.9"/>
<text x="310.9" y="404.8" font-family="Liberation Sans, sans-serif" font-size="7.6" fill="#3a3a3a" text-anchor="end">0</text>
<path d="M312.3,362H314.5" stroke="#333" stroke-width="0.9"/>
<text x="310.9" y="364.5" font-family="Liberation Sans, sans-serif" font-size="7.6" fill="#3a3a3a" text-anchor="end">1</text>
<path d="M312.3,321.7H314.5" stroke="#333" stroke-width="0.9"/>
<text x="310.9" y="324.2" font-family="Liberation Sans, sans-serif" font-size="7.6" fill="#3a3a3a" text-anchor="end">2</text>
<path d="M312.3,281.4H314.5" stroke="#333" stroke-width="0.9"/>
<text x="310.9" y="283.9" font-family="Liberation Sans, sans-serif" font-size="7.6" fill="#3a3a3a" text-anchor="end">3</text>
<path d="M322.3,409.3V411.5" stroke="#333" stroke-width="0.9"/>
<text transform="translate(322.5,413.7) rotate(-45)" font-family="Liberation Sans, sans-serif" font-size="7.5" fill="#3a3a3a" text-anchor="end" dominant-baseline="hanging">2</text>
<path d="M334.67,409.3V411.5" stroke="#333" stroke-width="0.9"/>
<text transform="translate(334.87,413.7) rotate(-45)" font-family="Liberation Sans, sans-serif" font-size="7.5" fill="#3a3a3a" text-anchor="end" dominant-baseline="hanging">3</text>
<path d="M347.04,409.3V411.5" stroke="#333" stroke-width="0.9"/>
<text transform="translate(347.24,413.7) rotate(-45)" font-family="Liberation Sans, sans-serif" font-size="7.5" fill="#3a3a3a" text-anchor="end" dominant-baseline="hanging">1</text>
<path d="M359.41,409.3V411.5" stroke="#333" stroke-width="0.9"/>
<text transform="translate(359.61,413.7) rotate(-45)" font-family="Liberation Sans, sans-serif" font-size="7.5" fill="#3a3a3a" text-anchor="end" dominant-baseline="hanging">4</text>
<path d="M371.78,409.3V411.5" stroke="#333" stroke-width="0.9"/>
<text transform="translate(371.98,413.7) rotate(-45)" font-family="Liberation Sans, sans-serif" font-size="7.5" fill="#3a3a3a" text-anchor="end" dominant-baseline="hanging">7</text>
<path d="M384.15,409.3V411.5" stroke="#333" stroke-width="0.9"/>
<text transform="translate(384.35,413.7) rotate(-45)" font-family="Liberation Sans, sans-serif" font-size="7.5" fill="#3a3a3a" text-anchor="end" dominant-baseline="hanging">10</text>
<path d="M396.52,409.3V411.5" stroke="#333" stroke-width="0.9"/>
<text transform="translate(396.72,413.7) rotate(-45)" font-family="Liberation Sans, sans-serif" font-size="7.5" fill="#3a3a3a" text-anchor="end" dominant-baseline="hanging">13</text>
<path d="M408.89,409.3V411.5" stroke="#333" stroke-width="0.9"/>
<text transform="translate(409.09,413.7) rotate(-45)" font-family="Liberation Sans, sans-serif" font-size="7.5" fill="#3a3a3a" text-anchor="end" dominant-baseline="hanging">6</text>
<path d="M421.26,409.3V411.5" stroke="#333" stroke-width="0.9"/>
<text transform="translate(421.46,413.7) rotate(-45)" font-family="Liberation Sans, sans-serif" font-size="7.5" fill="#3a3a3a" text-anchor="end" dominant-baseline="hanging">0</text>
<path d="M433.63,409.3V411.5" stroke="#333" stroke-width="0.9"/>
<text transform="translate(433.83,413.7) rotate(-45)" font-family="Liberation Sans, sans-serif" font-size="7.5" fill="#3a3a3a" text-anchor="end" dominant-baseline="hanging">5</text>
<path d="M446,409.3V411.5" stroke="#333" stroke-width="0.9"/>
<text transform="translate(446.2,413.7) rotate(-45)" font-family="Liberation Sans, sans-serif" font-size="7.5" fill="#3a3a3a" text-anchor="end" dominant-baseline="hanging">9</text>
<path d="M458.37,409.3V411.5" stroke="#333" stroke-width="0.9"/>
<text transform="translate(458.57,413.7) rotate(-45)" font-family="Liberation Sans, sans-serif" font-size="7.5" fill="#3a3a3a" text-anchor="end" dominant-baseline="hanging">12</text>
<path d="M470.74,409.3V411.5" stroke="#333" stroke-width="0.9"/>
<text transform="translate(470.94,413.7) rotate(-45)" font-family="Liberation Sans, sans-serif" font-size="7.5" fill="#3a3a3a" text-anchor="end" dominant-baseline="hanging">8</text>
<path d="M483.11,409.3V411.5" stroke="#333" stroke-width="0.9"/>
<text transform="translate(483.31,413.7) rotate(-45)" font-family="Liberation Sans, sans-serif" font-size="7.5" fill="#3a3a3a" text-anchor="end" dominant-baseline="hanging">11</text>
<path d="M495.48,409.3V411.5" stroke="#333" stroke-width="0.9"/>
<text transform="translate(495.68,413.7) rotate(-45)" font-family="Liberation Sans, sans-serif" font-size="7.5" fill="#3a3a3a" text-anchor="end" dominant-baseline="hanging">15</text>
<path d="M507.85,409.3V411.5" stroke="#333" stroke-width="0.9"/>
<text transform="translate(508.05,413.7) rotate(-45)" font-family="Liberation Sans, sans-serif" font-size="7.5" fill="#3a3a3a" text-anchor="end" dominant-baseline="hanging">14</text>
<text x="415.3" y="239.6" font-family="Liberation Sans, sans-serif" font-weight="bold" font-size="10" fill="#111" text-anchor="middle">PDCD4</text>
<text x="415.3" y="433.5" font-family="Liberation Sans, sans-serif" font-size="8.9" fill="#3a3a3a" text-anchor="middle">Identity</text>
<text transform="translate(303.4,328.2) rotate(-90)" font-family="Liberation Sans, sans-serif" font-size="8.9" fill="#3a3a3a" text-anchor="middle">Expression Level</text>
<rect x="524.4" y="253.5" width="9.2" height="9.55" fill="#F8766D" stroke="#3a3a3a" stroke-width="0.7"/>
<rect x="525.55" y="255.89" width="6.9" height="4.78" fill="#F8766D" stroke="#333" stroke-width="0.5"/>
<path d="M525.55,258.27h6.9M529,254.46V255.89M529,260.66V262.1" stroke="#333" stroke-width="0.5"/>
<text x="537.9" y="260.97" font-family="Liberation Sans, sans-serif" font-size="7.7" fill="#3a3a3a">2</text>
<rect x="524.4" y="263.05" width="9.2" height="9.55" fill="#F5860F" stroke="#3a3a3a" stroke-width="0.7"/>
<rect x="525.55" y="265.44" width="6.9" height="4.78" fill="#F5860F" stroke="#333" stroke-width="0.5"/>
<path d="M525.55,267.82h6.9M529,264V265.44M529,270.21V271.65" stroke="#333" stroke-width="0.5"/>
<text x="537.9" y="270.52" font-family="Liberation Sans, sans-serif" font-size="7.7" fill="#3a3a3a">3</text>
<rect x="524.4" y="272.6" width="9.2" height="9.55" fill="#DB9700" stroke="#3a3a3a" stroke-width="0.7"/>
<rect x="525.55" y="274.99" width="6.9" height="4.78" fill="#DB9700" stroke="#333" stroke-width="0.5"/>
<path d="M525.55,277.38h6.9M529,273.56V274.99M529,279.76V281.2" stroke="#333" stroke-width="0.5"/>
<text x="537.9" y="280.07" font-family="Liberation Sans, sans-serif" font-size="7.7" fill="#3a3a3a">1</text>
<rect x="524.4" y="282.15" width="9.2" height="9.55" fill="#ABA300" stroke="#3a3a3a" stroke-width="0.7"/>
<rect x="525.55" y="284.54" width="6.9" height="4.78" fill="#ABA300" stroke="#333" stroke-width="0.5"/>
<path d="M525.55,286.92h6.9M529,283.1V284.54M529,289.31V290.75" stroke="#333" stroke-width="0.5"/>
<text x="537.9" y="289.62" font-family="Liberation Sans, sans-serif" font-size="7.7" fill="#3a3a3a">4</text>
<rect x="524.4" y="291.7" width="9.2" height="9.55" fill="#72B000" stroke="#3a3a3a" stroke-width="0.7"/>
<rect x="525.55" y="294.09" width="6.9" height="4.78" fill="#72B000" stroke="#333" stroke-width="0.5"/>
<path d="M525.55,296.47h6.9M529,292.65V294.09M529,298.86V300.3" stroke="#333" stroke-width="0.5"/>
<text x="537.9" y="299.17" font-family="Liberation Sans, sans-serif" font-size="7.7" fill="#3a3a3a">7</text>
<rect x="524.4" y="301.25" width="9.2" height="9.55" fill="#0CB702" stroke="#3a3a3a" stroke-width="0.7"/>
<rect x="525.55" y="303.64" width="6.9" height="4.78" fill="#0CB702" stroke="#333" stroke-width="0.5"/>
<path d="M525.55,306.02h6.9M529,302.2V303.64M529,308.41V309.85" stroke="#333" stroke-width="0.5"/>
<text x="537.9" y="308.72" font-family="Liberation Sans, sans-serif" font-size="7.7" fill="#3a3a3a">10</text>
<rect x="524.4" y="310.8" width="9.2" height="9.55" fill="#00BE67" stroke="#3a3a3a" stroke-width="0.7"/>
<rect x="525.55" y="313.19" width="6.9" height="4.78" fill="#00BE67" stroke="#333" stroke-width="0.5"/>
<path d="M525.55,315.57h6.9M529,311.75V313.19M529,317.96V319.4" stroke="#333" stroke-width="0.5"/>
<text x="537.9" y="318.27" font-family="Liberation Sans, sans-serif" font-size="7.7" fill="#3a3a3a">13</text>
<rect x="524.4" y="320.35" width="9.2" height="9.55" fill="#00C19A" stroke="#3a3a3a" stroke-width="0.7"/>
<rect x="525.55" y="322.74" width="6.9" height="4.78" fill="#00C19A" stroke="#333" stroke-width="0.5"/>
<path d="M525.55,325.12h6.9M529,321.31V322.74M529,327.51V328.95" stroke="#333" stroke-width="0.5"/>
<text x="537.9" y="327.82" font-family="Liberation Sans, sans-serif" font-size="7.7" fill="#3a3a3a">6</text>
<rect x="524.4" y="329.9" width="9.2" height="9.55" fill="#00BFC4" stroke="#3a3a3a" stroke-width="0.7"/>
<rect x="525.55" y="332.29" width="6.9" height="4.78" fill="#00BFC4" stroke="#333" stroke-width="0.5"/>
<path d="M525.55,334.67h6.9M529,330.85V332.29M529,337.06V338.5" stroke="#333" stroke-width="0.5"/>
<text x="537.9" y="337.37" font-family="Liberation Sans, sans-serif" font-size="7.7" fill="#3a3a3a">0</text>
<rect x="524.4" y="339.45" width="9.2" height="9.55" fill="#00B8E7" stroke="#3a3a3a" stroke-width="0.7"/>
<rect x="525.55" y="341.84" width="6.9" height="4.78" fill="#00B8E7" stroke="#333" stroke-width="0.5"/>
<path d="M525.55,344.22h6.9M529,340.4V341.84M529,346.61V348.05" stroke="#333" stroke-width="0.5"/>
<text x="537.9" y="346.92" font-family="Liberation Sans, sans-serif" font-size="7.7" fill="#3a3a3a">5</text>
<rect x="524.4" y="349" width="9.2" height="9.55" fill="#00A9FF" stroke="#3a3a3a" stroke-width="0.7"/>
<rect x="525.55" y="351.39" width="6.9" height="4.78" fill="#00A9FF" stroke="#333" stroke-width="0.5"/>
<path d="M525.55,353.77h6.9M529,349.95V351.39M529,356.16V357.6" stroke="#333" stroke-width="0.5"/>
<text x="537.9" y="356.47" font-family="Liberation Sans, sans-serif" font-size="7.7" fill="#3a3a3a">9</text>
<rect x="524.4" y="358.55" width="9.2" height="9.55" fill="#8494FF" stroke="#3a3a3a" stroke-width="0.7"/>
<rect x="525.55" y="360.94" width="6.9" height="4.78" fill="#8494FF" stroke="#333" stroke-width="0.5"/>
<path d="M525.55,363.32h6.9M529,359.5V360.94M529,365.71V367.15" stroke="#333" stroke-width="0.5"/>
<text x="537.9" y="366.02" font-family="Liberation Sans, sans-serif" font-size="7.7" fill="#3a3a3a">12</text>
<rect x="524.4" y="368.1" width="9.2" height="9.55" fill="#C77CFF" stroke="#3a3a3a" stroke-width="0.7"/>
<rect x="525.55" y="370.49" width="6.9" height="4.78" fill="#C77CFF" stroke="#333" stroke-width="0.5"/>
<path d="M525.55,372.88h6.9M529,369.06V370.49M529,375.26V376.7" stroke="#333" stroke-width="0.5"/>
<text x="537.9" y="375.57" font-family="Liberation Sans, sans-serif" font-size="7.7" fill="#3a3a3a">8</text>
<rect x="524.4" y="377.65" width="9.2" height="9.55" fill="#ED68ED" stroke="#3a3a3a" stroke-width="0.7"/>
<rect x="525.55" y="380.04" width="6.9" height="4.78" fill="#ED68ED" stroke="#333" stroke-width="0.5"/>
<path d="M525.55,382.42h6.9M529,378.6V380.04M529,384.81V386.25" stroke="#333" stroke-width="0.5"/>
<text x="537.9" y="385.12" font-family="Liberation Sans, sans-serif" font-size="7.7" fill="#3a3a3a">11</text>
<rect x="524.4" y="387.2" width="9.2" height="9.55" fill="#FF61CC" stroke="#3a3a3a" stroke-width="0.7"/>
<rect x="525.55" y="389.59" width="6.9" height="4.78" fill="#FF61CC" stroke="#333" stroke-width="0.5"/>
<path d="M525.55,391.98h6.9M529,388.16V389.59M529,394.36V395.8" stroke="#333" stroke-width="0.5"/>
<text x="537.9" y="394.68" font-family="Liberation Sans, sans-serif" font-size="7.7" fill="#3a3a3a">15</text>
<rect x="524.4" y="396.75" width="9.2" height="9.55" fill="#FF68A1" stroke="#3a3a3a" stroke-width="0.7"/>
<rect x="525.55" y="399.14" width="6.9" height="4.78" fill="#FF68A1" stroke="#333" stroke-width="0.5"/>
<path d="M525.55,401.52h6.9M529,397.7V399.14M529,403.91V405.35" stroke="#333" stroke-width="0.5"/>
<text x="537.9" y="404.22" font-family="Liberation Sans, sans-serif" font-size="7.7" fill="#3a3a3a">14</text>
</svg></body></html>
